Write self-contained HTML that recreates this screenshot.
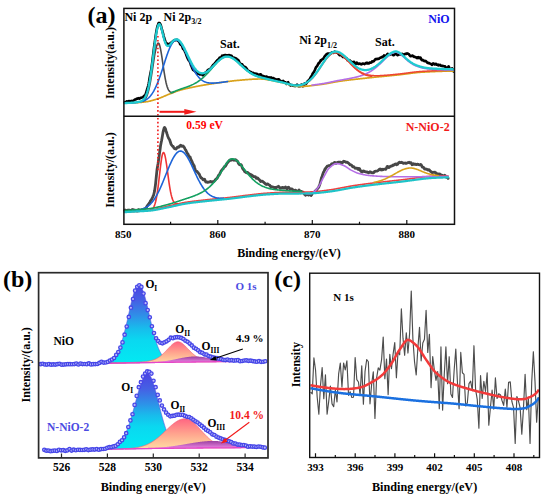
<!DOCTYPE html>
<html><head><meta charset="utf-8"><title>XPS spectra</title>
<style>html,body{margin:0;padding:0;background:#fff;width:550px;height:498px;overflow:hidden}svg{display:block}text{font-family:"Liberation Serif",serif}</style>
</head><body><svg width="550" height="498" viewBox="0 0 550 498"><defs>
<linearGradient id="gO1" x1="0" y1="0" x2="0" y2="1"><stop offset="0" stop-color="#4b45e2"/><stop offset="0.2" stop-color="#4560e4"/><stop offset="0.4" stop-color="#2d92e8"/><stop offset="0.55" stop-color="#18bcec"/><stop offset="0.7" stop-color="#0ad8f0"/><stop offset="1" stop-color="#02eaf2"/></linearGradient>
<linearGradient id="gO2" x1="0" y1="0" x2="0" y2="1"><stop offset="0" stop-color="#ff6582"/><stop offset="0.5" stop-color="#ffa48e"/><stop offset="1" stop-color="#ffdca2"/></linearGradient>
<linearGradient id="gO3" x1="0" y1="0" x2="0" y2="1"><stop offset="0" stop-color="#9a40a0"/><stop offset="1" stop-color="#ee88e4"/></linearGradient>
</defs><g fill="none" stroke-linejoin="round" stroke-linecap="round"><path d="M124.60,102.41 125.10,102.73 125.60,102.51 126.10,101.95 126.60,101.36 127.10,101.62 127.60,101.62 128.10,101.93 128.60,101.12 129.10,101.53 129.60,101.19 130.10,101.86 130.60,101.26 131.10,101.08 131.60,100.91 132.10,101.10 132.60,101.05 133.10,100.75 133.60,100.60 134.10,100.28 134.60,99.76 135.10,99.55 135.60,99.48 136.10,99.22 136.60,98.72 137.10,98.62 137.60,98.65 138.10,98.24 138.60,98.16 139.10,98.55 139.60,98.69 140.10,98.20 140.60,97.78 141.10,97.80 141.60,97.66 142.10,97.44 142.60,97.30 143.10,97.10 143.60,96.43 144.10,95.90 144.60,95.59 145.10,95.58 145.60,94.30 146.10,93.00 146.60,91.12 147.10,89.42 147.60,87.81 148.10,86.11 148.60,83.97 149.10,81.28 149.60,78.02 150.10,75.29 150.60,72.67 151.10,70.56 151.60,67.01 152.10,63.30 152.60,59.29 153.10,55.19 153.60,51.11 154.10,46.89 154.60,43.79 155.10,39.86 155.60,36.46 156.10,33.14 156.60,30.17 157.10,27.89 157.60,25.72 158.10,24.53 158.60,23.10 159.10,22.96 159.60,23.08 160.10,23.79 160.60,24.72 161.10,26.36 161.60,28.70 162.10,29.99 162.60,31.94 163.10,33.62 163.60,36.09 164.10,37.43 164.60,39.38 165.10,40.53 165.60,42.25 166.10,43.25 166.60,43.87 167.10,44.11 167.60,43.61 168.10,44.27 168.60,44.76 169.10,45.57 169.60,44.67 170.10,43.67 170.60,42.84 171.10,43.39 171.60,43.23 172.10,42.34 172.60,41.53 173.10,41.01 173.60,40.84 174.10,40.25 174.60,40.15 175.10,40.16 175.60,40.28 176.10,40.10 176.60,39.71 177.10,39.75 177.60,40.43 178.10,41.08 178.60,41.20 179.10,41.72 179.60,42.49 180.10,44.18 180.60,44.49 181.10,44.95 181.60,44.69 182.10,45.94 182.60,47.76 183.10,48.91 183.60,49.31 184.10,49.75 184.60,50.80 185.10,52.00 185.60,52.82 186.10,54.24 186.60,55.77 187.10,57.01 187.60,58.36 188.10,59.03 188.60,60.23 189.10,60.41 189.60,61.19 190.10,62.38 190.60,63.88 191.10,65.49 191.60,66.39 192.10,67.89 192.60,68.86 193.10,69.86 193.60,70.24 194.10,70.55 194.60,70.75 195.10,71.31 195.60,71.81 196.10,72.44 196.60,73.02 197.10,73.66 197.60,73.78 198.10,73.20 198.60,73.05 199.10,73.22 199.60,74.23 200.10,74.52 200.60,74.31 201.10,73.78 201.60,74.18 202.10,74.54 202.60,75.20 203.10,75.09 203.60,74.44 204.10,73.80 204.60,73.05 205.10,73.18 205.60,72.92 206.10,72.51 206.60,72.03 207.10,71.03 207.60,70.50 208.10,69.79 208.60,69.82 209.10,69.26 209.60,69.17 210.10,68.87 210.60,68.58 211.10,67.96 211.60,67.20 212.10,66.42 212.60,65.71 213.10,64.97 213.60,64.66 214.10,64.14 214.60,63.90 215.10,62.82 215.60,62.52 216.10,61.57 216.60,61.20 217.10,60.34 217.60,59.88 218.10,59.68 218.60,59.07 219.10,58.44 219.60,57.65 220.10,57.78 220.60,57.70 221.10,57.22 221.60,56.47 222.10,55.65 222.60,56.23 223.10,55.50 223.60,55.87 224.10,55.29 224.60,55.13 225.10,54.94 225.60,54.97 226.10,55.47 226.60,55.42 227.10,55.40 227.60,55.33 228.10,55.40 228.60,55.16 229.10,55.41 229.60,55.17 230.10,55.61 230.60,55.46 231.10,55.64 231.60,55.76 232.10,56.69 232.60,57.60 233.10,57.65 233.60,57.69 234.10,57.62 234.60,58.12 235.10,58.33 235.60,58.18 236.10,58.70 236.60,58.80 237.10,59.73 237.60,59.69 238.10,60.01 238.60,60.41 239.10,61.58 239.60,63.01 240.10,63.77 240.60,64.33 241.10,64.23 241.60,64.14 242.10,64.33 242.60,65.01 243.10,65.92 243.60,66.42 244.10,66.90 244.60,67.21 245.10,67.10 245.60,67.27 246.10,67.87 246.60,68.59 247.10,69.33 247.60,70.27 248.10,70.60 248.60,70.85 249.10,70.93 249.60,71.58 250.10,71.98 250.60,71.87 251.10,72.14 251.60,72.70 252.10,73.30 252.60,73.13 253.10,72.93 253.60,73.28 254.10,73.79 254.60,73.63 255.10,73.90 255.60,73.59 256.10,74.09 256.60,73.78 257.10,73.96 257.60,74.33 258.10,74.58 258.60,74.73 259.10,74.69 259.60,74.59 260.10,74.51 260.60,74.26 261.10,74.60 261.60,75.50 262.10,75.89 262.60,75.96 263.10,76.04 263.60,76.07 264.10,76.54 264.60,76.58 265.10,76.87 265.60,76.82 266.10,76.60 266.60,76.44 267.10,76.87 267.60,77.43 268.10,77.70 268.60,77.49 269.10,77.38 269.60,77.69 270.10,77.53 270.60,77.91 271.10,77.49 271.60,78.23 272.10,78.14 272.60,78.28 273.10,77.96 273.60,78.14 274.10,78.81 274.60,78.67 275.10,79.04 275.60,80.22 276.10,80.32 276.60,80.44 277.10,79.39 277.60,79.97 278.10,79.45 278.60,79.33 279.10,79.53 279.60,80.19 280.10,81.14 280.60,80.92 281.10,81.12 281.60,81.65 282.10,81.78 282.60,81.62 283.10,80.91 283.60,81.30 284.10,82.01 284.60,82.25 285.10,82.23 285.60,82.24 286.10,83.19 286.60,84.00 287.10,83.30 287.60,82.67 288.10,82.23 288.60,83.45 289.10,83.64 289.60,84.68 290.10,84.97 290.60,85.47 291.10,85.13 291.60,85.01 292.10,85.01 292.60,85.50 293.10,85.82 293.60,85.76 294.10,85.88 294.60,85.89 295.10,86.07 295.60,85.53 296.10,85.37 296.60,85.26 297.10,84.69 297.60,85.18 298.10,85.53 298.60,86.28 299.10,86.23 299.60,86.12 300.10,86.21 300.60,85.05 301.10,84.73 301.60,84.65 302.10,85.73 302.60,86.19 303.10,86.28 303.60,85.26 304.10,83.84 304.60,83.36 305.10,83.47 305.60,84.12 306.10,83.53 306.60,83.15 307.10,81.90 307.60,81.51 308.10,80.69 308.60,80.57 309.10,79.86 309.60,79.20 310.10,78.40 310.60,77.43 311.10,76.83 311.60,76.01 312.10,74.95 312.60,73.64 313.10,73.09 313.60,72.30 314.10,71.86 314.60,70.54 315.10,69.50 315.60,68.10 316.10,67.16 316.60,66.58 317.10,66.19 317.60,65.03 318.10,64.06 318.60,63.15 319.10,63.33 319.60,62.14 320.10,61.66 320.60,60.38 321.10,60.60 321.60,59.71 322.10,59.38 322.60,59.13 323.10,58.80 323.60,58.25 324.10,57.33 324.60,56.45 325.10,55.94 325.60,55.27 326.10,54.80 326.60,54.22 327.10,53.86 327.60,54.02 328.10,53.76 328.60,53.44 329.10,53.46 329.60,53.62 330.10,54.03 330.60,53.67 331.10,53.26 331.60,52.70 332.10,52.39 332.60,52.69 333.10,52.84 333.60,52.47 334.10,52.17 334.60,51.74 335.10,52.28 335.60,52.02 336.10,52.18 336.60,52.31 337.10,52.81 337.60,52.89 338.10,53.30 338.60,54.22 339.10,54.54 339.60,55.15 340.10,54.60 340.60,55.22 341.10,54.96 341.60,55.08 342.10,55.97 342.60,56.52 343.10,57.07 343.60,56.93 344.10,56.64 344.60,57.07 345.10,57.74 345.60,57.98 346.10,58.24 346.60,58.29 347.10,59.40 347.60,60.21 348.10,60.31 348.60,60.04 349.10,60.05 349.60,60.35 350.10,60.75 350.60,61.22 351.10,62.11 351.60,62.57 352.10,62.45 352.60,62.36 353.10,61.93 353.60,62.18 354.10,61.86 354.60,63.29 355.10,63.65 355.60,64.12 356.10,63.44 356.60,62.55 357.10,62.79 357.60,63.40 358.10,63.98 358.60,64.01 359.10,63.77 359.60,63.55 360.10,63.65 360.60,63.86 361.10,64.42 361.60,64.14 362.10,64.01 362.60,63.52 363.10,63.61 363.60,63.73 364.10,63.84 364.60,64.12 365.10,63.66 365.60,63.37 366.10,62.99 366.60,62.75 367.10,63.38 367.60,62.96 368.10,63.44 368.60,62.98 369.10,63.28 369.60,62.61 370.10,62.54 370.60,62.59 371.10,62.62 371.60,62.37 372.10,61.40 372.60,61.42 373.10,61.49 373.60,61.48 374.10,60.91 374.60,60.07 375.10,59.55 375.60,58.94 376.10,59.08 376.60,59.21 377.10,58.99 377.60,58.86 378.10,58.78 378.60,58.84 379.10,58.71 379.60,58.19 380.10,57.90 380.60,57.53 381.10,57.41 381.60,57.48 382.10,56.77 382.60,57.01 383.10,56.34 383.60,56.46 384.10,55.42 384.60,55.62 385.10,55.84 385.60,56.35 386.10,56.20 386.60,55.13 387.10,54.40 387.60,53.87 388.10,53.95 388.60,54.45 389.10,54.59 389.60,54.84 390.10,54.64 390.60,54.30 391.10,54.06 391.60,53.68 392.10,54.15 392.60,54.56 393.10,55.03 393.60,55.23 394.10,54.73 394.60,54.39 395.10,54.09 395.60,54.05 396.10,54.00 396.60,54.19 397.10,54.86 397.60,55.28 398.10,54.93 398.60,54.49 399.10,54.44 399.60,54.28 400.10,54.42 400.60,54.47 401.10,54.46 401.60,54.18 402.10,53.80 402.60,54.11 403.10,54.48 403.60,54.59 404.10,54.66 404.60,54.13 405.10,53.91 405.60,53.82 406.10,54.02 406.60,53.85 407.10,53.42 407.60,53.43 408.10,53.81 408.60,53.96 409.10,54.47 409.60,55.25 410.10,55.73 410.60,56.25 411.10,56.03 411.60,55.93 412.10,55.66 412.60,55.46 413.10,56.20 413.60,56.10 414.10,56.96 414.60,57.07 415.10,56.97 415.60,56.97 416.10,57.42 416.60,57.95 417.10,58.17 417.60,57.32 418.10,57.80 418.60,57.17 419.10,58.03 419.60,57.61 420.10,57.51 420.60,57.69 421.10,59.12 421.60,59.95 422.10,60.31 422.60,59.88 423.10,60.19 423.60,60.36 424.10,61.06 424.60,61.02 425.10,61.24 425.60,61.08 426.10,61.26 426.60,61.80 427.10,62.51 427.60,62.87 428.10,63.12 428.60,62.77 429.10,63.21 429.60,63.33 430.10,63.57 430.60,63.89 431.10,64.07 431.60,64.54 432.10,64.86 432.60,64.11 433.10,63.38 433.60,63.57 434.10,63.82 434.60,64.45 435.10,63.89 435.60,64.21 436.10,63.88 436.60,64.79 437.10,64.63 437.60,65.07 438.10,64.62 438.60,65.37 439.10,65.08 439.60,65.22 440.10,64.89 440.60,65.57 441.10,65.82 441.60,65.85 442.10,65.87 442.60,65.73 443.10,66.12 443.60,66.15 444.10,66.19 444.60,66.18 445.10,66.47 445.60,67.50 446.10,67.52 446.60,67.68 447.10,67.62 447.60,67.34 448.10,66.92 448.60,66.34 449.10,67.15 449.60,68.64 450.10,69.37 450.60,70.04 451.10,69.56 451.60,69.05 452.10,68.37 452.60,69.13 453.10,70.33 453.60,71.45" stroke="#000" stroke-width="2.6"/><path d="M124.60,103.29 125.10,103.27 125.60,103.26 126.10,103.24 126.60,103.23 127.10,103.21 127.60,103.19 128.10,103.17 128.60,103.15 129.10,103.12 129.60,103.10 130.10,103.08 130.60,103.05 131.10,103.02 131.60,103.00 132.10,102.97 132.60,102.94 133.10,102.91 133.60,102.88 134.10,102.85 134.60,102.82 135.10,102.78 135.60,102.75 136.10,102.72 136.60,102.69 137.10,102.65 137.60,102.62 138.10,102.58 138.60,102.54 139.10,102.50 139.60,102.46 140.10,102.42 140.60,102.38 141.10,102.33 141.60,102.29 142.10,102.24 142.60,102.19 143.10,102.13 143.60,102.08 144.10,102.02 144.60,101.96 145.10,101.90 145.60,101.84 146.10,101.77 146.60,101.70 147.10,101.63 147.60,101.55 148.10,101.47 148.60,101.38 149.10,101.28 149.60,101.17 150.10,101.05 150.60,100.93 151.10,100.80 151.60,100.67 152.10,100.53 152.60,100.39 153.10,100.24 153.60,100.09 154.10,99.93 154.60,99.78 155.10,99.62 155.60,99.45 156.10,99.29 156.60,99.13 157.10,98.96 157.60,98.80 158.10,98.63 158.60,98.47 159.10,98.29 159.60,98.11 160.10,97.93 160.60,97.73 161.10,97.54 161.60,97.34 162.10,97.13 162.60,96.92 163.10,96.71 163.60,96.50 164.10,96.29 164.60,96.07 165.10,95.85 165.60,95.64 166.10,95.43 166.60,95.21 167.10,95.00 167.60,94.80 168.10,94.59 168.60,94.39 169.10,94.20 169.60,94.01 170.10,93.81 170.60,93.62 171.10,93.42 171.60,93.22 172.10,93.02 172.60,92.83 173.10,92.63 173.60,92.44 174.10,92.24 174.60,92.05 175.10,91.86 175.60,91.67 176.10,91.49 176.60,91.31 177.10,91.13 177.60,90.96 178.10,90.79 178.60,90.63 179.10,90.47 179.60,90.32 180.10,90.17 180.60,90.03 181.10,89.89 181.60,89.76 182.10,89.62 182.60,89.49 183.10,89.37 183.60,89.24 184.10,89.12 184.60,89.00 185.10,88.88 185.60,88.76 186.10,88.65 186.60,88.53 187.10,88.42 187.60,88.31 188.10,88.20 188.60,88.09 189.10,87.98 189.60,87.88 190.10,87.77 190.60,87.66 191.10,87.56 191.60,87.45 192.10,87.34 192.60,87.24 193.10,87.13 193.60,87.02 194.10,86.92 194.60,86.81 195.10,86.71 195.60,86.61 196.10,86.51 196.60,86.41 197.10,86.31 197.60,86.21 198.10,86.11 198.60,86.01 199.10,85.92 199.60,85.83 200.10,85.73 200.60,85.64 201.10,85.55 201.60,85.46 202.10,85.38 202.60,85.29 203.10,85.21 203.60,85.12 204.10,85.04 204.60,84.95 205.10,84.87 205.60,84.79 206.10,84.70 206.60,84.62 207.10,84.54 207.60,84.46 208.10,84.38 208.60,84.30 209.10,84.23 209.60,84.15 210.10,84.07 210.60,83.99 211.10,83.92 211.60,83.84 212.10,83.77 212.60,83.69 213.10,83.62 213.60,83.54 214.10,83.47 214.60,83.40 215.10,83.32 215.60,83.25 216.10,83.18 216.60,83.11 217.10,83.04 217.60,82.97 218.10,82.90 218.60,82.83 219.10,82.76 219.60,82.69 220.10,82.62 220.60,82.55 221.10,82.48 221.60,82.40 222.10,82.33 222.60,82.26 223.10,82.19 223.60,82.12 224.10,82.05 224.60,81.98 225.10,81.91 225.60,81.84 226.10,81.77 226.60,81.70 227.10,81.63 227.60,81.56 228.10,81.49 228.60,81.43 229.10,81.36 229.60,81.29 230.10,81.23 230.60,81.17 231.10,81.10 231.60,81.04 232.10,80.98 232.60,80.92 233.10,80.86 233.60,80.81 234.10,80.75 234.60,80.70 235.10,80.65 235.60,80.59 236.10,80.55 236.60,80.50 237.10,80.45 237.60,80.41 238.10,80.37 238.60,80.32 239.10,80.28 239.60,80.24 240.10,80.19 240.60,80.15 241.10,80.11 241.60,80.06 242.10,80.02 242.60,79.97 243.10,79.93 243.60,79.89 244.10,79.84 244.60,79.80 245.10,79.76 245.60,79.72 246.10,79.68 246.60,79.64 247.10,79.60 247.60,79.56 248.10,79.52 248.60,79.48 249.10,79.45 249.60,79.41 250.10,79.38 250.60,79.34 251.10,79.31 251.60,79.28 252.10,79.25 252.60,79.22 253.10,79.19 253.60,79.17 254.10,79.14 254.60,79.12 255.10,79.10 255.60,79.08 256.10,79.07 256.60,79.05 257.10,79.04 257.60,79.03 258.10,79.02 258.60,79.01 259.10,79.00 259.60,79.00 260.10,79.00 260.60,79.01 261.10,79.02 261.60,79.04 262.10,79.06 262.60,79.09 263.10,79.13 263.60,79.18 264.10,79.22 264.60,79.28 265.10,79.34 265.60,79.40 266.10,79.47 266.60,79.55 267.10,79.62 267.60,79.70 268.10,79.79 268.60,79.88 269.10,79.97 269.60,80.06 270.10,80.16 270.60,80.25 271.10,80.36 271.60,80.46 272.10,80.56 272.60,80.67 273.10,80.77 273.60,80.88 274.10,80.99 274.60,81.09 275.10,81.20 275.60,81.31 276.10,81.41 276.60,81.52 277.10,81.63 277.60,81.73 278.10,81.83 278.60,81.93 279.10,82.03 279.60,82.13 280.10,82.22 280.60,82.32 281.10,82.42 281.60,82.53 282.10,82.65 282.60,82.77 283.10,82.90 283.60,83.03 284.10,83.16 284.60,83.30 285.10,83.44 285.60,83.58 286.10,83.73 286.60,83.87 287.10,84.02 287.60,84.17 288.10,84.31 288.60,84.46 289.10,84.60 289.60,84.75 290.10,84.89 290.60,85.03 291.10,85.16 291.60,85.29 292.10,85.42 292.60,85.54 293.10,85.66 293.60,85.77 294.10,85.88 294.60,85.98 295.10,86.07 295.60,86.16 296.10,86.23 296.60,86.30 297.10,86.36 297.60,86.41 298.10,86.45 298.60,86.48 299.10,86.49 299.60,86.50 300.10,86.50 300.60,86.49 301.10,86.48 301.60,86.47 302.10,86.45 302.60,86.43 303.10,86.41 303.60,86.39 304.10,86.36 304.60,86.32 305.10,86.29 305.60,86.25 306.10,86.21 306.60,86.17 307.10,86.13 307.60,86.08 308.10,86.03 308.60,85.98 309.10,85.93 309.60,85.88 310.10,85.82 310.60,85.77 311.10,85.71 311.60,85.65 312.10,85.59 312.60,85.53 313.10,85.47 313.60,85.41 314.10,85.34 314.60,85.28 315.10,85.22 315.60,85.15 316.10,85.09 316.60,85.03 317.10,84.96 317.60,84.90 318.10,84.83 318.60,84.77 319.10,84.71 319.60,84.65 320.10,84.59 320.60,84.53 321.10,84.46 321.60,84.39 322.10,84.32 322.60,84.25 323.10,84.17 323.60,84.09 324.10,84.01 324.60,83.93 325.10,83.84 325.60,83.76 326.10,83.67 326.60,83.58 327.10,83.49 327.60,83.40 328.10,83.31 328.60,83.21 329.10,83.12 329.60,83.02 330.10,82.93 330.60,82.84 331.10,82.74 331.60,82.64 332.10,82.55 332.60,82.46 333.10,82.36 333.60,82.27 334.10,82.18 334.60,82.08 335.10,81.99 335.60,81.91 336.10,81.82 336.60,81.73 337.10,81.65 337.60,81.57 338.10,81.48 338.60,81.41 339.10,81.33 339.60,81.26 340.10,81.19 340.60,81.12 341.10,81.05 341.60,80.98 342.10,80.91 342.60,80.84 343.10,80.78 343.60,80.71 344.10,80.65 344.60,80.58 345.10,80.52 345.60,80.45 346.10,80.39 346.60,80.33 347.10,80.26 347.60,80.20 348.10,80.14 348.60,80.08 349.10,80.02 349.60,79.96 350.10,79.90 350.60,79.84 351.10,79.78 351.60,79.72 352.10,79.66 352.60,79.60 353.10,79.55 353.60,79.49 354.10,79.43 354.60,79.37 355.10,79.32 355.60,79.26 356.10,79.20 356.60,79.15 357.10,79.09 357.60,79.04 358.10,78.98 358.60,78.93 359.10,78.87 359.60,78.82 360.10,78.76 360.60,78.71 361.10,78.66 361.60,78.60 362.10,78.55 362.60,78.49 363.10,78.44 363.60,78.39 364.10,78.33 364.60,78.28 365.10,78.23 365.60,78.17 366.10,78.12 366.60,78.06 367.10,78.01 367.60,77.96 368.10,77.90 368.60,77.85 369.10,77.80 369.60,77.74 370.10,77.69 370.60,77.64 371.10,77.58 371.60,77.53 372.10,77.48 372.60,77.42 373.10,77.37 373.60,77.32 374.10,77.27 374.60,77.22 375.10,77.17 375.60,77.12 376.10,77.07 376.60,77.02 377.10,76.97 377.60,76.92 378.10,76.87 378.60,76.82 379.10,76.77 379.60,76.72 380.10,76.67 380.60,76.62 381.10,76.57 381.60,76.53 382.10,76.48 382.60,76.43 383.10,76.38 383.60,76.33 384.10,76.28 384.60,76.24 385.10,76.19 385.60,76.14 386.10,76.09 386.60,76.04 387.10,76.00 387.60,75.95 388.10,75.90 388.60,75.85 389.10,75.80 389.60,75.75 390.10,75.71 390.60,75.66 391.10,75.61 391.60,75.56 392.10,75.51 392.60,75.46 393.10,75.41 393.60,75.36 394.10,75.31 394.60,75.26 395.10,75.21 395.60,75.16 396.10,75.11 396.60,75.06 397.10,75.01 397.60,74.95 398.10,74.90 398.60,74.85 399.10,74.80 399.60,74.74 400.10,74.69 400.60,74.63 401.10,74.58 401.60,74.52 402.10,74.46 402.60,74.40 403.10,74.34 403.60,74.28 404.10,74.21 404.60,74.15 405.10,74.08 405.60,74.02 406.10,73.95 406.60,73.88 407.10,73.82 407.60,73.75 408.10,73.68 408.60,73.61 409.10,73.55 409.60,73.48 410.10,73.41 410.60,73.35 411.10,73.28 411.60,73.21 412.10,73.15 412.60,73.09 413.10,73.02 413.60,72.96 414.10,72.90 414.60,72.84 415.10,72.79 415.60,72.73 416.10,72.67 416.60,72.62 417.10,72.57 417.60,72.52 418.10,72.47 418.60,72.43 419.10,72.39 419.60,72.35 420.10,72.31 420.60,72.27 421.10,72.24 421.60,72.21 422.10,72.18 422.60,72.16 423.10,72.13 423.60,72.10 424.10,72.08 424.60,72.05 425.10,72.02 425.60,72.00 426.10,71.97 426.60,71.94 427.10,71.92 427.60,71.89 428.10,71.87 428.60,71.84 429.10,71.82 429.60,71.79 430.10,71.77 430.60,71.74 431.10,71.72 431.60,71.70 432.10,71.67 432.60,71.65 433.10,71.63 433.60,71.61 434.10,71.58 434.60,71.56 435.10,71.54 435.60,71.52 436.10,71.50 436.60,71.48 437.10,71.46 437.60,71.44 438.10,71.42 438.60,71.40 439.10,71.39 439.60,71.37 440.10,71.35 440.60,71.34 441.10,71.32 441.60,71.30 442.10,71.29 442.60,71.27 443.10,71.26 443.60,71.25 444.10,71.23 444.60,71.22 445.10,71.21 445.60,71.20 446.10,71.19 446.60,71.18 447.10,71.17 447.60,71.16 448.10,71.15 448.60,71.14 449.10,71.13 449.60,71.13 450.10,71.12 450.60,71.12 451.10,71.11 451.60,71.11 452.10,71.11 452.60,71.10 453.10,71.10 453.60,71.10" stroke="#d9a21b" stroke-width="1.7"/><path d="M326.10,59.14 326.60,58.49 327.10,57.87 327.60,57.27 328.10,56.69 328.60,56.15 329.10,55.64 329.60,55.17 330.10,54.73 330.60,54.31 331.10,53.94 331.60,53.61 332.10,53.32 332.60,53.07 333.10,52.87 333.60,52.71 334.10,52.59 334.60,52.52 335.10,52.47 335.60,52.46 336.10,52.48 336.60,52.54 337.10,52.63 337.60,52.75 338.10,52.90 338.60,53.09 339.10,53.31 339.60,53.55 340.10,53.83 340.60,54.13 341.10,54.45 341.60,54.80 342.10,55.17 342.60,55.56 343.10,55.97 343.60,56.40 344.10,56.85 344.60,57.31 345.10,57.78 345.60,58.26 346.10,58.76 346.60,59.26 347.10,59.77 347.60,60.29 348.10,60.81 348.60,61.34 349.10,61.86 349.60,62.39 350.10,62.91 350.60,63.43 351.10,63.95 351.60,64.47 352.10,64.97 352.60,65.48 353.10,65.97 353.60,66.45 354.10,66.93 354.60,67.39 355.10,67.85 355.60,68.29 356.10,68.72 356.60,69.14 357.10,69.54 357.60,69.93 358.10,70.31 358.60,70.67 359.10,71.02 359.60,71.35 360.10,71.67 360.60,71.97 361.10,72.27 361.60,72.54 362.10,72.80 362.60,73.05 363.10,73.28 363.60,73.50 364.10,73.71 364.60,73.90 365.10,74.08 365.60,74.25 366.10,74.41 366.60,74.55 367.10,74.68 367.60,74.81 368.10,74.92 368.60,75.02 369.10,75.11 369.60,75.19 370.10,75.26 370.60,75.33 371.10,75.40 371.60,75.45 372.10,75.51 372.60,75.55 373.10,75.59 373.60,75.62 374.10,75.64 374.60,75.66 375.10,75.68 375.60,75.69 376.10,75.69 376.60,75.69 377.10,75.69 377.60,75.69 378.10,75.68 378.60,75.66 379.10,75.65 379.60,75.63 380.10,75.61 380.60,75.59 381.10,75.56 381.60,75.53 382.10,75.51 382.60,75.47 383.10,75.44 383.60,75.41 384.10,75.37 384.60,75.34 385.10,75.30 385.60,75.26 386.10,75.22 386.60,75.18 387.10,75.14 387.60,75.10 388.10,75.06 388.60,75.01 389.10,74.97 389.60,74.92 390.10,74.88 390.60,74.83 391.10,74.79 391.60,74.74 392.10,74.69 392.60,74.65 393.10,74.60 393.60,74.55 394.10,74.50 394.60,74.45 395.10,74.40 395.60,74.35 396.10,74.30 396.60,74.25 397.10,74.20 397.60,74.15 398.10,74.10 398.60,74.05 399.10,73.99 399.60,73.94 400.10,73.89 400.60,73.83 401.10,73.78 401.60,73.72 402.10,73.66 402.60,73.60 403.10,73.54 403.60,73.48 404.10,73.41 404.60,73.35 405.10,73.28 405.60,73.22 406.10,73.15 406.60,73.08 407.10,73.02 407.60,72.95 408.10,72.88 408.60,72.81 409.10,72.75 409.60,72.68 410.10,72.61 410.60,72.55 411.10,72.48 411.60,72.41 412.10,72.35 412.60,72.29 413.10,72.22 413.60,72.16 414.10,72.10 414.60,72.04 415.10,71.99 415.60,71.93 416.10,71.87 416.60,71.82 417.10,71.77 417.60,71.72 418.10,71.67 418.60,71.63 419.10,71.59 419.60,71.55 420.10,71.51 420.60,71.47 421.10,71.44 421.60,71.41 422.10,71.38 422.60,71.36 423.10,71.33 423.60,71.30 424.10,71.28 424.60,71.25 425.10,71.22 425.60,71.20 426.10,71.17 426.60,71.14 427.10,71.12 427.60,71.09 428.10,71.07 428.60,71.04 429.10,71.02 429.60,70.99 430.10,70.97 430.60,70.94 431.10,70.92 431.60,70.90 432.10,70.87 432.60,70.85 433.10,70.83 433.60,70.81 434.10,70.78 434.60,70.76 435.10,70.74 435.60,70.72 436.10,70.70 436.60,70.68 437.10,70.66 437.60,70.64 438.10,70.62 438.60,70.60 439.10,70.59 439.60,70.57 440.10,70.55 440.60,70.54 441.10,70.52 441.60,70.50 442.10,70.49 442.60,70.47 443.10,70.46 443.60,70.45 444.10,70.43 444.60,70.42 445.10,70.41 445.60,70.40 446.10,70.39 446.60,70.38 447.10,70.37 447.60,70.36 448.10,70.35 448.60,70.34 449.10,70.33 449.60,70.33 450.10,70.32 450.60,70.32 451.10,70.31 451.60,70.31 452.10,70.31 452.60,70.30 453.10,70.30 453.60,70.30" stroke="#ee4433" stroke-width="1.5"/><path d="M143.10,101.17 143.60,100.83 144.10,100.41 144.60,99.90 145.10,99.28 145.60,98.55 146.10,97.67 146.60,96.64 147.10,95.44 147.60,94.04 148.10,92.44 148.60,90.62 149.10,88.57 149.60,86.29 150.10,83.79 150.60,81.08 151.10,78.18 151.60,75.11 152.10,71.91 152.60,68.63 153.10,65.31 153.60,62.01 154.10,58.79 154.60,55.71 155.10,52.84 155.60,50.25 156.10,47.98 156.60,46.10 157.10,44.64 157.60,43.65 158.10,43.14 158.60,43.18 159.10,43.85 159.60,45.12 160.10,46.96 160.60,49.30 161.10,52.04 161.60,55.10 162.10,58.39 162.60,61.80 163.10,65.24 163.60,68.63 164.10,71.90 164.60,74.99 165.10,77.84 165.60,80.42 166.10,82.73 166.60,84.74 167.10,86.47 167.60,87.92 168.10,89.12 168.60,90.09 169.10,90.85 169.60,91.43 170.10,91.86 170.60,92.15 171.10,92.33 171.60,92.42 172.10,92.45 172.60,92.41 173.10,92.34 173.60,92.23" stroke="#4d4d4d" stroke-width="1.6"/><path d="M127.10,103.20 127.60,103.18 128.10,103.16 128.60,103.13 129.10,103.11 129.60,103.08 130.10,103.05 130.60,103.02 131.10,102.99 131.60,102.96 132.10,102.92 132.60,102.88 133.10,102.85 133.60,102.80 134.10,102.76 134.60,102.72 135.10,102.67 135.60,102.62 136.10,102.56 136.60,102.50 137.10,102.44 137.60,102.37 138.10,102.30 138.60,102.22 139.10,102.13 139.60,102.04 140.10,101.93 140.60,101.82 141.10,101.70 141.60,101.56 142.10,101.42 142.60,101.26 143.10,101.09 143.60,100.90 144.10,100.69 144.60,100.47 145.10,100.22 145.60,99.96 146.10,99.67 146.60,99.36 147.10,99.03 147.60,98.66 148.10,98.26 148.60,97.83 149.10,97.36 149.60,96.85 150.10,96.30 150.60,95.71 151.10,95.07 151.60,94.40 152.10,93.68 152.60,92.92 153.10,92.12 153.60,91.26 154.10,90.37 154.60,89.42 155.10,88.44 155.60,87.40 156.10,86.32 156.60,85.20 157.10,84.04 157.60,82.83 158.10,81.58 158.60,80.30 159.10,78.96 159.60,77.59 160.10,76.18 160.60,74.73 161.10,73.25 161.60,71.74 162.10,70.21 162.60,68.67 163.10,67.10 163.60,65.53 164.10,63.96 164.60,62.39 165.10,60.84 165.60,59.29 166.10,57.77 166.60,56.28 167.10,54.82 167.60,53.40 168.10,52.03 168.60,50.71 169.10,49.46 169.60,48.26 170.10,47.14 170.60,46.08 171.10,45.09 171.60,44.18 172.10,43.36 172.60,42.63 173.10,41.98 173.60,41.43 174.10,40.98 174.60,40.62 175.10,40.36 175.60,40.20 176.10,40.12 176.60,40.13 177.10,40.22 177.60,40.40 178.10,40.66 178.60,41.00 179.10,41.42 179.60,41.91 180.10,42.48 180.60,43.12 181.10,43.82 181.60,44.58 182.10,45.40 182.60,46.27 183.10,47.19 183.60,48.15 184.10,49.15 184.60,50.18 185.10,51.24 185.60,52.33 186.10,53.44 186.60,54.56 187.10,55.69 187.60,56.82 188.10,57.96 188.60,59.10 189.10,60.23 189.60,61.35 190.10,62.46 190.60,63.55 191.10,64.62 191.60,65.67 192.10,66.69 192.60,67.69 193.10,68.66 193.60,69.59 194.10,70.50 194.60,71.37 195.10,72.21 195.60,73.01 196.10,73.78 196.60,74.51 197.10,75.21 197.60,75.87 198.10,76.49 198.60,77.09 199.10,77.64 199.60,78.16 200.10,78.65 200.60,79.11 201.10,79.53 201.60,79.93 202.10,80.29 202.60,80.63 203.10,80.94 203.60,81.22 204.10,81.48 204.60,81.71 205.10,81.92 205.60,82.11 206.10,82.28 206.60,82.43 207.10,82.56 207.60,82.67 208.10,82.77 208.60,82.85 209.10,82.92 209.60,82.98 210.10,83.03 210.60,83.06 211.10,83.08 211.60,83.10 212.10,83.11 212.60,83.11 213.10,83.10 213.60,83.08 214.10,83.06 214.60,83.04 215.10,83.01 215.60,82.97 216.10,82.94 216.60,82.89 217.10,82.85 217.60,82.80 218.10,82.75 218.60,82.70 219.10,82.65 219.60,82.59 220.10,82.53 220.60,82.48 221.10,82.41 221.60,82.35 222.10,82.29 222.60,82.22 223.10,82.16 223.60,82.09 224.10,82.03 224.60,81.96 225.10,81.89 225.60,81.82 226.10,81.76 226.60,81.69 227.10,81.62 227.60,81.55" stroke="#1c64d8" stroke-width="1.6"/><path d="M171.10,92.86 171.60,92.65 172.10,92.44 172.60,92.23 173.10,92.02 173.60,91.81 174.10,91.60 174.60,91.40 175.10,91.19 175.60,90.99 176.10,90.79 176.60,90.59 177.10,90.39 177.60,90.20 178.10,90.01 178.60,89.82 179.10,89.64 179.60,89.47 180.10,89.29 180.60,89.12 181.10,88.95 181.60,88.78 182.10,88.62 182.60,88.45 183.10,88.28 183.60,88.11 184.10,87.95 184.60,87.78 185.10,87.61 185.60,87.44 186.10,87.26 186.60,87.09 187.10,86.91 187.60,86.73 188.10,86.54 188.60,86.35 189.10,86.16 189.60,85.96 190.10,85.75 190.60,85.54 191.10,85.33 191.60,85.10 192.10,84.87 192.60,84.63 193.10,84.39 193.60,84.13 194.10,83.87 194.60,83.60 195.10,83.32 195.60,83.04 196.10,82.74 196.60,82.44 197.10,82.13 197.60,81.80 198.10,81.47 198.60,81.13 199.10,80.78 199.60,80.42 200.10,80.04 200.60,79.66 201.10,79.27 201.60,78.86 202.10,78.45 202.60,78.02 203.10,77.58 203.60,77.13 204.10,76.67 204.60,76.20 205.10,75.72 205.60,75.23 206.10,74.73 206.60,74.22 207.10,73.70 207.60,73.17 208.10,72.63 208.60,72.09 209.10,71.54 209.60,70.98 210.10,70.41 210.60,69.85 211.10,69.27 211.60,68.70 212.10,68.12 212.60,67.55 213.10,66.97 213.60,66.40 214.10,65.83 214.60,65.26 215.10,64.70 215.60,64.14 216.10,63.60 216.60,63.06 217.10,62.54 217.60,62.03 218.10,61.53 218.60,61.05 219.10,60.59 219.60,60.14 220.10,59.72 220.60,59.32 221.10,58.94 221.60,58.59 222.10,58.27 222.60,57.97 223.10,57.71 223.60,57.47 224.10,57.26 224.60,57.09 225.10,56.95 225.60,56.84 226.10,56.77 226.60,56.73 227.10,56.71 227.60,56.73 228.10,56.77 228.60,56.84 229.10,56.94 229.60,57.07 230.10,57.22 230.60,57.40 231.10,57.60 231.60,57.83 232.10,58.09 232.60,58.36 233.10,58.66 233.60,58.98 234.10,59.32 234.60,59.68 235.10,60.05 235.60,60.44 236.10,60.84 236.60,61.26 237.10,61.69 237.60,62.13 238.10,62.59 238.60,63.04 239.10,63.50 239.60,63.97 240.10,64.44 240.60,64.91 241.10,65.37 241.60,65.84 242.10,66.31 242.60,66.77 243.10,67.23 243.60,67.68 244.10,68.13 244.60,68.57 245.10,69.01 245.60,69.44 246.10,69.85 246.60,70.26 247.10,70.66 247.60,71.05 248.10,71.43 248.60,71.80 249.10,72.15 249.60,72.50 250.10,72.83 250.60,73.16 251.10,73.47 251.60,73.77 252.10,74.06 252.60,74.33 253.10,74.60 253.60,74.85 254.10,75.10 254.60,75.33 255.10,75.55 255.60,75.76 256.10,75.97 256.60,76.16 257.10,76.35 257.60,76.52 258.10,76.69 258.60,76.85 259.10,77.00 259.60,77.14 260.10,77.28 260.60,77.42 261.10,77.55 261.60,77.69 262.10,77.82 262.60,77.95 263.10,78.08 263.60,78.21 264.10,78.34 264.60,78.47 265.10,78.60 265.60,78.73 266.10,78.85 266.60,78.98 267.10,79.11 267.60,79.24 268.10,79.36 268.60,79.49 269.10,79.62 269.60,79.74" stroke="#13a060" stroke-width="1.6"/><path d="M312.10,85.13 312.60,85.07 313.10,85.00 313.60,84.93 314.10,84.86 314.60,84.80 315.10,84.73 315.60,84.66 316.10,84.59 316.60,84.52 317.10,84.45 317.60,84.38 318.10,84.31 318.60,84.24 319.10,84.17 319.60,84.10 320.10,84.03 320.60,83.96 321.10,83.89 321.60,83.81 322.10,83.74 322.60,83.65 323.10,83.57 323.60,83.48 324.10,83.40 324.60,83.30 325.10,83.21 325.60,83.12 326.10,83.02 326.60,82.92 327.10,82.82 327.60,82.72 328.10,82.62 328.60,82.52 329.10,82.41 329.60,82.31 330.10,82.20 330.60,82.10 331.10,81.99 331.60,81.89 332.10,81.78 332.60,81.67 333.10,81.57 333.60,81.46 334.10,81.36 334.60,81.25 335.10,81.15 335.60,81.05 336.10,80.95 336.60,80.85 337.10,80.75 337.60,80.65 338.10,80.55 338.60,80.46 339.10,80.37 339.60,80.28 340.10,80.19 340.60,80.10 341.10,80.02 341.60,79.93 342.10,79.84 342.60,79.75 343.10,79.67 343.60,79.58 344.10,79.49 344.60,79.40 345.10,79.32 345.60,79.23 346.10,79.14 346.60,79.05 347.10,78.96 347.60,78.87 348.10,78.78 348.60,78.68 349.10,78.59 349.60,78.50 350.10,78.40 350.60,78.30 351.10,78.21 351.60,78.11 352.10,78.00 352.60,77.90 353.10,77.80 353.60,77.69 354.10,77.58 354.60,77.47 355.10,77.35 355.60,77.24 356.10,77.12 356.60,77.00 357.10,76.87 357.60,76.74 358.10,76.61 358.60,76.47 359.10,76.33 359.60,76.18 360.10,76.03 360.60,75.88 361.10,75.72 361.60,75.55 362.10,75.38 362.60,75.20 363.10,75.02 363.60,74.83 364.10,74.63 364.60,74.43 365.10,74.22 365.60,74.00 366.10,73.77 366.60,73.54 367.10,73.30 367.60,73.05 368.10,72.79 368.60,72.52 369.10,72.24 369.60,71.96 370.10,71.66 370.60,71.36 371.10,71.04 371.60,70.72 372.10,70.39 372.60,70.04 373.10,69.69 373.60,69.33 374.10,68.96 374.60,68.58 375.10,68.19 375.60,67.79 376.10,67.38 376.60,66.96 377.10,66.54 377.60,66.10 378.10,65.66 378.60,65.21 379.10,64.75 379.60,64.29 380.10,63.82 380.60,63.34 381.10,62.86 381.60,62.37 382.10,61.88 382.60,61.39 383.10,60.90 383.60,60.41 384.10,59.91 384.60,59.42 385.10,58.94 385.60,58.45 386.10,57.97 386.60,57.50 387.10,57.04 387.60,56.59 388.10,56.16 388.60,55.73 389.10,55.32 389.60,54.94 390.10,54.57 390.60,54.22 391.10,53.89 391.60,53.59 392.10,53.32 392.60,53.08 393.10,52.86 393.60,52.68 394.10,52.52 394.60,52.40 395.10,52.32 395.60,52.26 396.10,52.26 396.60,52.31 397.10,52.42 397.60,52.57 398.10,52.77 398.60,53.02 399.10,53.31 399.60,53.63 400.10,53.99 400.60,54.37 401.10,54.78 401.60,55.21 402.10,55.65 402.60,56.10 403.10,56.56 403.60,57.02 404.10,57.49 404.60,57.96 405.10,58.42 405.60,58.88 406.10,59.33 406.60,59.77 407.10,60.21 407.60,60.63 408.10,61.04 408.60,61.44 409.10,61.83 409.60,62.20 410.10,62.57 410.60,62.91 411.10,63.25 411.60,63.57 412.10,63.88 412.60,64.18 413.10,64.46 413.60,64.73 414.10,64.99 414.60,65.24 415.10,65.48 415.60,65.70 416.10,65.92 416.60,66.12 417.10,66.32 417.60,66.51 418.10,66.69 418.60,66.86 419.10,67.02 419.60,67.18 420.10,67.32 420.60,67.47 421.10,67.61 421.60,67.74 422.10,67.86 422.60,67.98 423.10,68.10 423.60,68.21 424.10,68.31 424.60,68.40 425.10,68.49 425.60,68.57 426.10,68.65 426.60,68.73 427.10,68.80 427.60,68.86 428.10,68.93 428.60,68.98 429.10,69.04 429.60,69.09 430.10,69.14 430.60,69.19 431.10,69.23 431.60,69.27 432.10,69.31 432.60,69.34 433.10,69.38 433.60,69.41 434.10,69.44 434.60,69.47 435.10,69.50 435.60,69.52 436.10,69.55 436.60,69.57 437.10,69.60 437.60,69.62 438.10,69.64 438.60,69.66 439.10,69.68 439.60,69.69 440.10,69.71 440.60,69.73 441.10,69.74 441.60,69.76 442.10,69.78 442.60,69.79 443.10,69.81 443.60,69.82 444.10,69.83 444.60,69.85 445.10,69.86 445.60,69.87 446.10,69.89 446.60,69.90 447.10,69.91 447.60,69.93 448.10,69.94 448.60,69.95 449.10,69.97 449.60,69.98 450.10,70.00 450.60,70.01 451.10,70.02 451.60,70.04 452.10,70.05 452.60,70.07 453.10,70.08 453.60,70.10" stroke="#b56ee6" stroke-width="1.6"/><path d="M300.10,85.51 300.60,85.40 301.10,85.28 301.60,85.15 302.10,85.00 302.60,84.84 303.10,84.66 303.60,84.47 304.10,84.26 304.60,84.04 305.10,83.80 305.60,83.54 306.10,83.27 306.60,82.97 307.10,82.66 307.60,82.33 308.10,81.98 308.60,81.61 309.10,81.22 309.60,80.81 310.10,80.38 310.60,79.93 311.10,79.46 311.60,78.97 312.10,78.45 312.60,77.92 313.10,77.37 313.60,76.79 314.10,76.20 314.60,75.59 315.10,74.96 315.60,74.32 316.10,73.66 316.60,72.98 317.10,72.29 317.60,71.59 318.10,70.87 318.60,70.15 319.10,69.41 319.60,68.68 320.10,67.93 320.60,67.18 321.10,66.43 321.60,65.67 322.10,64.92 322.60,64.16 323.10,63.41 323.60,62.67 324.10,61.94 324.60,61.22 325.10,60.51 325.60,59.82 326.10,59.14 326.60,58.49 327.10,57.87 327.60,57.27 328.10,56.69 328.60,56.15 329.10,55.64 329.60,55.17 330.10,54.73 330.60,54.33 331.10,53.96 331.60,53.64 332.10,53.36 332.60,53.13 333.10,52.93 333.60,52.78 334.10,52.68 334.60,52.61 335.10,52.57 335.60,52.57 336.10,52.61 336.60,52.67 337.10,52.77 337.60,52.90 338.10,53.07 338.60,53.26 339.10,53.49 339.60,53.74 340.10,54.03 340.60,54.34 341.10,54.67 341.60,55.03 342.10,55.41 342.60,55.81 343.10,56.24 343.60,56.67 344.10,57.13 344.60,57.60 345.10,58.08 345.60,58.58 346.10,59.08 346.60,59.60 347.10,60.12 347.60,60.64 348.10,61.17 348.60,61.71 349.10,62.24 349.60,62.78 350.10,63.31 350.60,63.85 351.10,64.38 351.60,64.90 352.10,65.42 352.60,65.93 353.10,66.43 353.60,66.93 354.10,67.41 354.60,67.88 355.10,68.35 355.60,68.80 356.10,69.24 356.60,69.67 357.10,70.08 357.60,70.48 358.10,70.87 358.60,71.24 359.10,71.60 359.60,71.94 360.10,72.27 360.60,72.59 361.10,72.89 361.60,73.17 362.10,73.44 362.60,73.70 363.10,73.95 363.60,74.18 364.10,74.39 364.60,74.60 365.10,74.79 365.60,74.96 366.10,75.13 366.60,75.28 367.10,75.43 367.60,75.56 368.10,75.68 368.60,75.79 369.10,75.89 369.60,75.98 370.10,76.06 370.60,76.13 371.10,76.20 371.60,76.25" stroke="#ee4433" stroke-width="1.6"/><path d="M124.60,103.07 125.10,103.05 125.60,103.04 126.10,103.02 126.60,103.00 127.10,102.98 127.60,102.95 128.10,102.93 128.60,102.90 129.10,102.87 129.60,102.85 130.10,102.81 130.60,102.78 131.10,102.75 131.60,102.71 132.10,102.67 132.60,102.64 133.10,102.59 133.60,102.55 134.10,102.50 134.60,102.45 135.10,102.40 135.60,102.35 136.10,102.29 136.60,102.22 137.10,102.15 137.60,102.07 138.10,101.98 138.60,101.88 139.10,101.77 139.60,101.64 140.10,101.48 140.60,101.31 141.10,101.10 141.60,100.86 142.10,100.57 142.60,100.23 143.10,99.82 143.60,99.34 144.10,98.77 144.60,98.09 145.10,97.29 145.60,96.35 146.10,95.25 146.60,93.98 147.10,92.50 147.60,90.82 148.10,88.90 148.60,86.73 149.10,84.30 149.60,81.62 150.10,78.68 150.60,75.50 151.10,72.09 151.60,68.47 152.10,64.69 152.60,60.79 153.10,56.80 153.60,52.80 154.10,48.83 154.60,44.96 155.10,41.26 155.60,37.79 156.10,34.61 156.60,31.76 157.10,29.30 157.60,27.26 158.10,25.67 158.60,24.57 159.10,24.08 159.60,24.16 160.10,24.77 160.60,25.84 161.10,27.29 161.60,29.04 162.10,30.99 162.60,33.06 163.10,35.14 163.60,37.17 164.10,39.08 164.60,40.80 165.10,42.30 165.60,43.55 166.10,44.54 166.60,45.26 167.10,45.73 167.60,45.96 168.10,45.99 168.60,45.83 169.10,45.52 169.60,45.09 170.10,44.57 170.60,43.99 171.10,43.37 171.60,42.75 172.10,42.13 172.60,41.55 173.10,41.01 173.60,40.54 174.10,40.13 174.60,39.80 175.10,39.56 175.60,39.40 176.10,39.32 176.60,39.32 177.10,39.40 177.60,39.56 178.10,39.80 178.60,40.12 179.10,40.52 179.60,40.99 180.10,41.53 180.60,42.14 181.10,42.81 181.60,43.54 182.10,44.32 182.60,45.15 183.10,46.03 183.60,46.95 184.10,47.90 184.60,48.89 185.10,49.90 185.60,50.93 186.10,51.98 186.60,53.03 187.10,54.10 187.60,55.16 188.10,56.23 188.60,57.28 189.10,58.33 189.60,59.36 190.10,60.37 190.60,61.35 191.10,62.31 191.60,63.24 192.10,64.14 192.60,65.01 193.10,65.83 193.60,66.62 194.10,67.37 194.60,68.08 195.10,68.74 195.60,69.36 196.10,69.93 196.60,70.46 197.10,70.94 197.60,71.38 198.10,71.77 198.60,72.12 199.10,72.41 199.60,72.67 200.10,72.87 200.60,73.04 201.10,73.16 201.60,73.24 202.10,73.28 202.60,73.27 203.10,73.23 203.60,73.15 204.10,73.03 204.60,72.87 205.10,72.68 205.60,72.46 206.10,72.21 206.60,71.93 207.10,71.62 207.60,71.29 208.10,70.93 208.60,70.54 209.10,70.14 209.60,69.71 210.10,69.27 210.60,68.82 211.10,68.34 211.60,67.86 212.10,67.37 212.60,66.86 213.10,66.35 213.60,65.84 214.10,65.32 214.60,64.80 215.10,64.28 215.60,63.76 216.10,63.25 216.60,62.74 217.10,62.25 217.60,61.76 218.10,61.28 218.60,60.82 219.10,60.37 219.60,59.94 220.10,59.53 220.60,59.14 221.10,58.78 221.60,58.43 222.10,58.12 222.60,57.82 223.10,57.56 223.60,57.33 224.10,57.13 224.60,56.96 225.10,56.82 225.60,56.72 226.10,56.64 226.60,56.60 227.10,56.59 227.60,56.60 228.10,56.65 228.60,56.72 229.10,56.82 229.60,56.94 230.10,57.10 230.60,57.28 231.10,57.48 231.60,57.71 232.10,57.96 232.60,58.24 233.10,58.54 233.60,58.85 234.10,59.19 234.60,59.55 235.10,59.92 235.60,60.31 236.10,60.71 236.60,61.13 237.10,61.56 237.60,62.00 238.10,62.45 238.60,62.91 239.10,63.37 239.60,63.83 240.10,64.30 240.60,64.77 241.10,65.24 241.60,65.70 242.10,66.17 242.60,66.63 243.10,67.09 243.60,67.54 244.10,67.99 244.60,68.43 245.10,68.86 245.60,69.29 246.10,69.71 246.60,70.12 247.10,70.51 247.60,70.90 248.10,71.28 248.60,71.65 249.10,72.00 249.60,72.35 250.10,72.68 250.60,73.00 251.10,73.31 251.60,73.61 252.10,73.90 252.60,74.17 253.10,74.44 253.60,74.69 254.10,74.93 254.60,75.17 255.10,75.39 255.60,75.60 256.10,75.80 256.60,75.99 257.10,76.17 257.60,76.35 258.10,76.51 258.60,76.67 259.10,76.82 259.60,76.97 260.10,77.10 260.60,77.24 261.10,77.37 261.60,77.50 262.10,77.63 262.60,77.76 263.10,77.89 263.60,78.02 264.10,78.15 264.60,78.28 265.10,78.41 265.60,78.53 266.10,78.66 266.60,78.79 267.10,78.91 267.60,79.04 268.10,79.16 268.60,79.29 269.10,79.41 269.60,79.54 270.10,79.66 270.60,79.79 271.10,79.91 271.60,80.04 272.10,80.16 272.60,80.28 273.10,80.40 273.60,80.52 274.10,80.64 274.60,80.76 275.10,80.88 275.60,80.99 276.10,81.11 276.60,81.22 277.10,81.33 277.60,81.44 278.10,81.54 278.60,81.65 279.10,81.75 279.60,81.84 280.10,81.94 280.60,82.04 281.10,82.14 281.60,82.25 282.10,82.37 282.60,82.49 283.10,82.61 283.60,82.74 284.10,82.87 284.60,83.00 285.10,83.14 285.60,83.28 286.10,83.42 286.60,83.56 287.10,83.69 287.60,83.83 288.10,83.97 288.60,84.11 289.10,84.24 289.60,84.37 290.10,84.50 290.60,84.62 291.10,84.74 291.60,84.85 292.10,84.95 292.60,85.05 293.10,85.14 293.60,85.23 294.10,85.30 294.60,85.36 295.10,85.42 295.60,85.46 296.10,85.49 296.60,85.50 297.10,85.50 297.60,85.49 298.10,85.46 298.60,85.41 299.10,85.34 299.60,85.26 300.10,85.16 300.60,85.05 301.10,84.92 301.60,84.78 302.10,84.63 302.60,84.47 303.10,84.29 303.60,84.09 304.10,83.88 304.60,83.65 305.10,83.41 305.60,83.14 306.10,82.86 306.60,82.57 307.10,82.25 307.60,81.92 308.10,81.56 308.60,81.19 309.10,80.79 309.60,80.38 310.10,79.94 310.60,79.49 311.10,79.01 311.60,78.51 312.10,78.00 312.60,77.46 313.10,76.90 313.60,76.32 314.10,75.72 314.60,75.11 315.10,74.47 315.60,73.82 316.10,73.15 316.60,72.47 317.10,71.77 317.60,71.06 318.10,70.34 318.60,69.61 319.10,68.87 319.60,68.13 320.10,67.38 320.60,66.62 321.10,65.86 321.60,65.10 322.10,64.33 322.60,63.57 323.10,62.81 323.60,62.06 324.10,61.32 324.60,60.59 325.10,59.87 325.60,59.17 326.10,58.49 326.60,57.83 327.10,57.20 327.60,56.59 328.10,56.01 328.60,55.46 329.10,54.94 329.60,54.45 330.10,54.00 330.60,53.58 331.10,53.19 331.60,52.85 332.10,52.55 332.60,52.29 333.10,52.08 333.60,51.90 334.10,51.78 334.60,51.68 335.10,51.63 335.60,51.60 336.10,51.61 336.60,51.65 337.10,51.73 337.60,51.84 338.10,51.97 338.60,52.14 339.10,52.34 339.60,52.57 340.10,52.83 340.60,53.11 341.10,53.42 341.60,53.75 342.10,54.10 342.60,54.47 343.10,54.86 343.60,55.27 344.10,55.69 344.60,56.13 345.10,56.58 345.60,57.04 346.10,57.51 346.60,57.99 347.10,58.47 347.60,58.96 348.10,59.45 348.60,59.94 349.10,60.43 349.60,60.93 350.10,61.42 350.60,61.90 351.10,62.38 351.60,62.85 352.10,63.32 352.60,63.77 353.10,64.22 353.60,64.66 354.10,65.08 354.60,65.49 355.10,65.88 355.60,66.27 356.10,66.63 356.60,66.98 357.10,67.31 357.60,67.63 358.10,67.93 358.60,68.21 359.10,68.47 359.60,68.71 360.10,68.94 360.60,69.14 361.10,69.33 361.60,69.49 362.10,69.63 362.60,69.76 363.10,69.86 363.60,69.95 364.10,70.01 364.60,70.05 365.10,70.08 365.60,70.08 366.10,70.06 366.60,70.03 367.10,69.97 367.60,69.90 368.10,69.80 368.60,69.69 369.10,69.55 369.60,69.40 370.10,69.23 370.60,69.05 371.10,68.86 371.60,68.64 372.10,68.41 372.60,68.17 373.10,67.90 373.60,67.62 374.10,67.33 374.60,67.02 375.10,66.70 375.60,66.36 376.10,66.00 376.60,65.64 377.10,65.26 377.60,64.87 378.10,64.47 378.60,64.05 379.10,63.63 379.60,63.20 380.10,62.75 380.60,62.30 381.10,61.84 381.60,61.38 382.10,60.91 382.60,60.44 383.10,59.96 383.60,59.48 384.10,59.00 384.60,58.52 385.10,58.05 385.60,57.57 386.10,57.10 386.60,56.64 387.10,56.19 387.60,55.74 388.10,55.31 388.60,54.89 389.10,54.49 389.60,54.10 390.10,53.74 390.60,53.39 391.10,53.07 391.60,52.77 392.10,52.50 392.60,52.26 393.10,52.05 393.60,51.86 394.10,51.71 394.60,51.59 395.10,51.51 395.60,51.46 396.10,51.46 396.60,51.51 397.10,51.61 397.60,51.77 398.10,51.97 398.60,52.22 399.10,52.51 399.60,52.83 400.10,53.19 400.60,53.57 401.10,53.98 401.60,54.41 402.10,54.85 402.60,55.30 403.10,55.76 403.60,56.22 404.10,56.69 404.60,57.16 405.10,57.62 405.60,58.08 406.10,58.53 406.60,58.97 407.10,59.41 407.60,59.83 408.10,60.24 408.60,60.64 409.10,61.03 409.60,61.40 410.10,61.77 410.60,62.11 411.10,62.45 411.60,62.77 412.10,63.08 412.60,63.38 413.10,63.66 413.60,63.93 414.10,64.19 414.60,64.44 415.10,64.68 415.60,64.90 416.10,65.12 416.60,65.32 417.10,65.52 417.60,65.71 418.10,65.89 418.60,66.06 419.10,66.22 419.60,66.38 420.10,66.52 420.60,66.67 421.10,66.81 421.60,66.94 422.10,67.06 422.60,67.18 423.10,67.30 423.60,67.41 424.10,67.51 424.60,67.60 425.10,67.69 425.60,67.77 426.10,67.85 426.60,67.93 427.10,68.00 427.60,68.06 428.10,68.13 428.60,68.18 429.10,68.24 429.60,68.29 430.10,68.34 430.60,68.39 431.10,68.43 431.60,68.47 432.10,68.51 432.60,68.54 433.10,68.58 433.60,68.61 434.10,68.64 434.60,68.67 435.10,68.70 435.60,68.72 436.10,68.75 436.60,68.77 437.10,68.80 437.60,68.82 438.10,68.84 438.60,68.86 439.10,68.88 439.60,68.89 440.10,68.91 440.60,68.93 441.10,68.94 441.60,68.96 442.10,68.98 442.60,68.99 443.10,69.01 443.60,69.02 444.10,69.03 444.60,69.05 445.10,69.06 445.60,69.07 446.10,69.09 446.60,69.10 447.10,69.11 447.60,69.13 448.10,69.14 448.60,69.15 449.10,69.17 449.60,69.18 450.10,69.20 450.60,69.21 451.10,69.22 451.60,69.24 452.10,69.25 452.60,69.27 453.10,69.28 453.60,69.30" stroke="#1fcbd0" stroke-width="2.3"/><path d="M124.60,210.55 125.10,210.07 125.60,210.78 126.10,210.86 126.60,211.08 127.10,210.39 127.60,210.19 128.10,210.08 128.60,210.66 129.10,210.03 129.60,210.59 130.10,210.35 130.60,210.57 131.10,210.04 131.60,210.07 132.10,209.62 132.60,209.78 133.10,209.58 133.60,210.33 134.10,210.01 134.60,210.62 135.10,210.29 135.60,210.29 136.10,210.16 136.60,210.73 137.10,210.99 137.60,210.29 138.10,209.78 138.60,209.61 139.10,209.76 139.60,210.18 140.10,210.46 140.60,210.53 141.10,210.08 141.60,209.84 142.10,209.92 142.60,209.91 143.10,209.62 143.60,209.15 144.10,209.32 144.60,209.23 145.10,208.78 145.60,208.29 146.10,207.75 146.60,207.01 147.10,206.08 147.60,205.25 148.10,204.83 148.60,204.08 149.10,203.62 149.60,202.80 150.10,201.74 150.60,200.75 151.10,200.41 151.60,199.36 152.10,198.29 152.60,197.35 153.10,196.04 153.60,195.07 154.10,192.98 154.60,190.87 155.10,187.36 155.60,183.60 156.10,178.60 156.60,173.65 157.10,169.00 157.60,166.19 158.10,163.38 158.60,159.77 159.10,156.44 159.60,152.56 160.10,149.27 160.60,145.44 161.10,142.74 161.60,140.54 162.10,137.82 162.60,134.88 163.10,131.84 163.60,129.91 164.10,128.14 164.60,127.41 165.10,128.23 165.60,129.23 166.10,131.14 166.60,132.53 167.10,134.17 167.60,135.66 168.10,137.00 168.60,138.24 169.10,138.96 169.60,139.70 170.10,141.20 170.60,142.79 171.10,144.34 171.60,145.00 172.10,145.66 172.60,146.19 173.10,146.30 173.60,147.59 174.10,147.94 174.60,148.68 175.10,148.68 175.60,148.96 176.10,149.03 176.60,148.20 177.10,147.36 177.60,147.09 178.10,147.33 178.60,147.24 179.10,147.22 179.60,146.03 180.10,145.65 180.60,145.19 181.10,145.59 181.60,146.23 182.10,146.18 182.60,146.28 183.10,146.01 183.60,146.49 184.10,147.16 184.60,147.99 185.10,149.15 185.60,150.02 186.10,150.62 186.60,152.05 187.10,152.80 187.60,153.84 188.10,154.31 188.60,155.77 189.10,156.67 189.60,156.74 190.10,156.99 190.60,158.61 191.10,159.91 191.60,160.96 192.10,161.62 192.60,163.10 193.10,164.02 193.60,165.09 194.10,165.49 194.60,167.63 195.10,169.23 195.60,170.84 196.10,171.04 196.60,171.55 197.10,171.47 197.60,172.39 198.10,172.56 198.60,173.53 199.10,173.94 199.60,174.91 200.10,176.12 200.60,177.14 201.10,177.90 201.60,177.98 202.10,178.48 202.60,178.83 203.10,179.90 203.60,179.83 204.10,179.41 204.60,179.25 205.10,180.49 205.60,181.74 206.10,182.08 206.60,181.92 207.10,182.11 207.60,182.45 208.10,182.13 208.60,182.06 209.10,182.01 209.60,181.95 210.10,181.54 210.60,181.43 211.10,181.78 211.60,182.14 212.10,182.04 212.60,181.66 213.10,181.96 213.60,181.58 214.10,181.39 214.60,180.81 215.10,180.33 215.60,179.65 216.10,178.88 216.60,178.86 217.10,178.32 217.60,177.54 218.10,176.45 218.60,175.36 219.10,174.92 219.60,174.13 220.10,173.26 220.60,172.15 221.10,170.96 221.60,170.41 222.10,169.68 222.60,169.14 223.10,168.97 223.60,167.73 224.10,167.30 224.60,166.36 225.10,166.48 225.60,165.92 226.10,165.10 226.60,163.99 227.10,163.04 227.60,162.69 228.10,161.89 228.60,161.55 229.10,160.71 229.60,160.58 230.10,160.01 230.60,160.41 231.10,159.95 231.60,159.98 232.10,159.37 232.60,159.75 233.10,159.86 233.60,160.00 234.10,160.27 234.60,159.88 235.10,160.00 235.60,159.62 236.10,160.47 236.60,160.48 237.10,160.97 237.60,161.32 238.10,162.56 238.60,163.52 239.10,164.15 239.60,164.70 240.10,164.81 240.60,164.67 241.10,164.72 241.60,165.53 242.10,167.14 242.60,168.54 243.10,168.85 243.60,169.86 244.10,170.32 244.60,171.60 245.10,171.55 245.60,172.34 246.10,172.58 246.60,172.75 247.10,172.45 247.60,172.36 248.10,172.97 248.60,173.20 249.10,174.01 249.60,174.26 250.10,174.27 250.60,174.87 251.10,174.78 251.60,175.72 252.10,175.23 252.60,176.01 253.10,175.85 253.60,176.68 254.10,176.70 254.60,176.61 255.10,176.57 255.60,177.08 256.10,178.21 256.60,178.39 257.10,178.00 257.60,177.83 258.10,178.47 258.60,179.18 259.10,179.46 259.60,180.05 260.10,180.79 260.60,181.52 261.10,181.25 261.60,181.25 262.10,181.24 262.60,181.35 263.10,181.85 263.60,182.18 264.10,182.71 264.60,183.11 265.10,183.55 265.60,184.18 266.10,184.33 266.60,184.53 267.10,184.12 267.60,183.88 268.10,184.20 268.60,184.60 269.10,184.97 269.60,185.04 270.10,185.95 270.60,186.58 271.10,186.96 271.60,186.70 272.10,186.80 272.60,186.90 273.10,187.09 273.60,187.40 274.10,187.53 274.60,187.48 275.10,187.55 275.60,187.40 276.10,187.86 276.60,187.06 277.10,187.16 277.60,186.72 278.10,186.90 278.60,186.35 279.10,187.29 279.60,187.56 280.10,188.22 280.60,187.94 281.10,187.99 281.60,188.13 282.10,187.44 282.60,187.60 283.10,187.39 283.60,188.02 284.10,188.09 284.60,187.88 285.10,187.25 285.60,186.98 286.10,187.70 286.60,188.47 287.10,188.99 287.60,188.25 288.10,187.40 288.60,187.18 289.10,187.78 289.60,188.52 290.10,188.93 290.60,189.10 291.10,189.05 291.60,188.80 292.10,189.03 292.60,189.54 293.10,189.92 293.60,190.68 294.10,190.71 294.60,190.90 295.10,190.05 295.60,190.16 296.10,190.41 296.60,191.01 297.10,191.21 297.60,191.31 298.10,191.30 298.60,190.92 299.10,189.97 299.60,190.80 300.10,191.77 300.60,192.89 301.10,191.84 301.60,191.38 302.10,191.98 302.60,191.85 303.10,192.35 303.60,192.48 304.10,193.68 304.60,194.33 305.10,194.32 305.60,195.23 306.10,194.84 306.60,194.50 307.10,193.86 307.60,194.58 308.10,194.94 308.60,195.14 309.10,194.50 309.60,194.11 310.10,194.16 310.60,194.73 311.10,195.48 311.60,194.86 312.10,193.86 312.60,192.69 313.10,192.35 313.60,192.46 314.10,192.56 314.60,191.77 315.10,191.19 315.60,190.54 316.10,190.46 316.60,189.82 317.10,189.13 317.60,188.63 318.10,187.99 318.60,187.36 319.10,186.12 319.60,185.03 320.10,183.43 320.60,181.27 321.10,179.42 321.60,177.47 322.10,176.54 322.60,174.66 323.10,173.28 323.60,171.99 324.10,171.18 324.60,170.24 325.10,168.84 325.60,168.62 326.10,167.55 326.60,167.28 327.10,166.26 327.60,166.25 328.10,166.04 328.60,165.73 329.10,165.78 329.60,165.56 330.10,166.06 330.60,165.23 331.10,165.05 331.60,163.89 332.10,163.81 332.60,163.56 333.10,163.79 333.60,163.43 334.10,162.86 334.60,162.42 335.10,162.61 335.60,163.29 336.10,163.31 336.60,163.20 337.10,162.54 337.60,162.35 338.10,162.29 338.60,162.06 339.10,162.03 339.60,162.03 340.10,162.34 340.60,162.15 341.10,162.64 341.60,162.83 342.10,163.14 342.60,162.34 343.10,161.72 343.60,161.25 344.10,161.43 344.60,161.62 345.10,161.69 345.60,162.01 346.10,162.36 346.60,162.35 347.10,162.23 347.60,162.29 348.10,163.01 348.60,163.15 349.10,163.66 349.60,164.17 350.10,164.86 350.60,164.96 351.10,164.87 351.60,165.20 352.10,165.91 352.60,166.64 353.10,166.86 353.60,166.61 354.10,167.07 354.60,167.48 355.10,168.26 355.60,168.18 356.10,168.03 356.60,168.05 357.10,168.26 357.60,169.10 358.10,169.41 358.60,168.58 359.10,168.38 359.60,168.64 360.10,170.14 360.60,170.61 361.10,171.42 361.60,171.63 362.10,171.99 362.60,171.69 363.10,171.01 363.60,171.02 364.10,171.09 364.60,171.53 365.10,171.64 365.60,171.79 366.10,172.01 366.60,171.99 367.10,171.97 367.60,172.35 368.10,172.42 368.60,172.79 369.10,172.25 369.60,172.37 370.10,171.74 370.60,172.17 371.10,172.37 371.60,172.82 372.10,172.83 372.60,172.57 373.10,172.90 373.60,172.44 374.10,172.52 374.60,171.42 375.10,171.44 375.60,171.05 376.10,171.08 376.60,171.12 377.10,171.13 377.60,170.84 378.10,170.56 378.60,170.02 379.10,169.58 379.60,169.33 380.10,168.99 380.60,169.76 381.10,169.35 381.60,169.91 382.10,169.17 382.60,169.86 383.10,169.38 383.60,169.56 384.10,169.10 384.60,169.09 385.10,169.25 385.60,169.40 386.10,168.89 386.60,167.96 387.10,166.49 387.60,166.34 388.10,166.79 388.60,167.55 389.10,167.54 389.60,167.04 390.10,166.57 390.60,166.27 391.10,166.31 391.60,165.79 392.10,165.91 392.60,165.16 393.10,165.45 393.60,164.85 394.10,164.98 394.60,164.52 395.10,164.17 395.60,164.02 396.10,163.82 396.60,164.72 397.10,164.48 397.60,164.43 398.10,163.35 398.60,162.99 399.10,162.29 399.60,162.23 400.10,162.52 400.60,162.71 401.10,162.71 401.60,162.21 402.10,162.62 402.60,162.71 403.10,163.22 403.60,163.37 404.10,163.08 404.60,163.22 405.10,162.98 405.60,163.32 406.10,163.28 406.60,163.34 407.10,162.84 407.60,162.80 408.10,162.54 408.60,162.64 409.10,162.13 409.60,162.73 410.10,162.98 410.60,162.69 411.10,162.72 411.60,163.46 412.10,164.76 412.60,164.47 413.10,163.99 413.60,163.73 414.10,164.30 414.60,164.43 415.10,164.11 415.60,164.23 416.10,164.56 416.60,164.55 417.10,164.22 417.60,164.07 418.10,164.41 418.60,164.61 419.10,164.74 419.60,164.92 420.10,164.82 420.60,164.36 421.10,164.67 421.60,165.49 422.10,166.90 422.60,167.15 423.10,167.19 423.60,167.51 424.10,168.42 424.60,168.98 425.10,169.17 425.60,168.88 426.10,169.27 426.60,169.12 427.10,169.60 427.60,169.66 428.10,170.04 428.60,169.70 429.10,169.73 429.60,170.21 430.10,171.05 430.60,171.39 431.10,171.63 431.60,172.06 432.10,172.64 432.60,172.46 433.10,172.45 433.60,172.27 434.10,172.42 434.60,172.13 435.10,172.36 435.60,172.52 436.10,173.76 436.60,173.91 437.10,174.26 437.60,173.64 438.10,174.38 438.60,174.32 439.10,174.54 439.60,173.91 440.10,174.32 440.60,174.53 441.10,175.27 441.60,175.07 442.10,175.26 442.60,175.61 443.10,176.07 443.60,176.23 444.10,175.68 444.60,175.25 445.10,175.48 445.60,176.31 446.10,177.17 446.60,176.87 447.10,176.84 447.60,177.26 448.10,178.37" stroke="#474747" stroke-width="2.8"/><path d="M124.60,212.17 125.10,212.14 125.60,212.11 126.10,212.08 126.60,212.05 127.10,212.02 127.60,211.99 128.10,211.96 128.60,211.93 129.10,211.90 129.60,211.87 130.10,211.84 130.60,211.81 131.10,211.78 131.60,211.75 132.10,211.72 132.60,211.69 133.10,211.66 133.60,211.63 134.10,211.60 134.60,211.57 135.10,211.54 135.60,211.51 136.10,211.48 136.60,211.45 137.10,211.42 137.60,211.39 138.10,211.37 138.60,211.34 139.10,211.31 139.60,211.28 140.10,211.25 140.60,211.21 141.10,211.16 141.60,211.11 142.10,211.06 142.60,211.01 143.10,210.96 143.60,210.91 144.10,210.86 144.60,210.81 145.10,210.75 145.60,210.70 146.10,210.64 146.60,210.59 147.10,210.53 147.60,210.47 148.10,210.41 148.60,210.35 149.10,210.29 149.60,210.22 150.10,210.15 150.60,210.08 151.10,210.01 151.60,209.93 152.10,209.84 152.60,209.76 153.10,209.67 153.60,209.57 154.10,209.47 154.60,209.37 155.10,209.27 155.60,209.16 156.10,209.05 156.60,208.94 157.10,208.83 157.60,208.71 158.10,208.60 158.60,208.48 159.10,208.35 159.60,208.23 160.10,208.11 160.60,207.98 161.10,207.86 161.60,207.73 162.10,207.60 162.60,207.48 163.10,207.35 163.60,207.22 164.10,207.09 164.60,206.97 165.10,206.84 165.60,206.71 166.10,206.59 166.60,206.47 167.10,206.34 167.60,206.22 168.10,206.10 168.60,205.98 169.10,205.86 169.60,205.74 170.10,205.62 170.60,205.51 171.10,205.40 171.60,205.29 172.10,205.18 172.60,205.07 173.10,204.96 173.60,204.85 174.10,204.74 174.60,204.62 175.10,204.51 175.60,204.39 176.10,204.28 176.60,204.17 177.10,204.05 177.60,203.94 178.10,203.83 178.60,203.72 179.10,203.61 179.60,203.50 180.10,203.39 180.60,203.28 181.10,203.18 181.60,203.07 182.10,202.97 182.60,202.87 183.10,202.77 183.60,202.68 184.10,202.59 184.60,202.50 185.10,202.41 185.60,202.33 186.10,202.25 186.60,202.17 187.10,202.09 187.60,202.02 188.10,201.95 188.60,201.88 189.10,201.81 189.60,201.74 190.10,201.67 190.60,201.60 191.10,201.54 191.60,201.47 192.10,201.41 192.60,201.35 193.10,201.28 193.60,201.22 194.10,201.16 194.60,201.10 195.10,201.05 195.60,200.99 196.10,200.93 196.60,200.87 197.10,200.82 197.60,200.76 198.10,200.70 198.60,200.65 199.10,200.59 199.60,200.54 200.10,200.48 200.60,200.43 201.10,200.37 201.60,200.32 202.10,200.26 202.60,200.21 203.10,200.15 203.60,200.10 204.10,200.04 204.60,199.99 205.10,199.93 205.60,199.88 206.10,199.82 206.60,199.77 207.10,199.72 207.60,199.67 208.10,199.61 208.60,199.56 209.10,199.51 209.60,199.46 210.10,199.41 210.60,199.36 211.10,199.31 211.60,199.26 212.10,199.21 212.60,199.16 213.10,199.11 213.60,199.06 214.10,199.01 214.60,198.96 215.10,198.91 215.60,198.87 216.10,198.82 216.60,198.77 217.10,198.72 217.60,198.67 218.10,198.62 218.60,198.58 219.10,198.53 219.60,198.48 220.10,198.43 220.60,198.38 221.10,198.33 221.60,198.28 222.10,198.23 222.60,198.18 223.10,198.13 223.60,198.08 224.10,198.03 224.60,197.98 225.10,197.93 225.60,197.88 226.10,197.83 226.60,197.77 227.10,197.72 227.60,197.67 228.10,197.61 228.60,197.56 229.10,197.50 229.60,197.45 230.10,197.39 230.60,197.33 231.10,197.27 231.60,197.21 232.10,197.15 232.60,197.09 233.10,197.03 233.60,196.97 234.10,196.90 234.60,196.84 235.10,196.78 235.60,196.71 236.10,196.65 236.60,196.58 237.10,196.52 237.60,196.45 238.10,196.38 238.60,196.32 239.10,196.25 239.60,196.19 240.10,196.12 240.60,196.05 241.10,195.99 241.60,195.92 242.10,195.86 242.60,195.79 243.10,195.73 243.60,195.66 244.10,195.60 244.60,195.53 245.10,195.47 245.60,195.41 246.10,195.35 246.60,195.29 247.10,195.23 247.60,195.17 248.10,195.11 248.60,195.05 249.10,195.00 249.60,194.94 250.10,194.88 250.60,194.82 251.10,194.76 251.60,194.70 252.10,194.64 252.60,194.59 253.10,194.53 253.60,194.47 254.10,194.41 254.60,194.35 255.10,194.29 255.60,194.24 256.10,194.18 256.60,194.12 257.10,194.07 257.60,194.01 258.10,193.96 258.60,193.90 259.10,193.85 259.60,193.80 260.10,193.74 260.60,193.69 261.10,193.64 261.60,193.60 262.10,193.55 262.60,193.50 263.10,193.46 263.60,193.41 264.10,193.37 264.60,193.33 265.10,193.29 265.60,193.26 266.10,193.22 266.60,193.19 267.10,193.15 267.60,193.12 268.10,193.09 268.60,193.05 269.10,193.02 269.60,192.98 270.10,192.95 270.60,192.92 271.10,192.88 271.60,192.85 272.10,192.82 272.60,192.79 273.10,192.76 273.60,192.73 274.10,192.70 274.60,192.67 275.10,192.64 275.60,192.61 276.10,192.58 276.60,192.56 277.10,192.53 277.60,192.51 278.10,192.49 278.60,192.46 279.10,192.44 279.60,192.42 280.10,192.40 280.60,192.39 281.10,192.37 281.60,192.36 282.10,192.34 282.60,192.33 283.10,192.32 283.60,192.31 284.10,192.30 284.60,192.30 285.10,192.29 285.60,192.29 286.10,192.29 286.60,192.28 287.10,192.28 287.60,192.28 288.10,192.27 288.60,192.27 289.10,192.27 289.60,192.26 290.10,192.26 290.60,192.26 291.10,192.26 291.60,192.26 292.10,192.25 292.60,192.25 293.10,192.25 293.60,192.25 294.10,192.25 294.60,192.25 295.10,192.24 295.60,192.24 296.10,192.24 296.60,192.24 297.10,192.24 297.60,192.23 298.10,192.23 298.60,192.23 299.10,192.23 299.60,192.22 300.10,192.22 300.60,192.21 301.10,192.20 301.60,192.19 302.10,192.18 302.60,192.17 303.10,192.16 303.60,192.15 304.10,192.13 304.60,192.12 305.10,192.11 305.60,192.09 306.10,192.08 306.60,192.06 307.10,192.04 307.60,192.02 308.10,192.01 308.60,191.99 309.10,191.97 309.60,191.95 310.10,191.93 310.60,191.91 311.10,191.88 311.60,191.86 312.10,191.84 312.60,191.81 313.10,191.78 313.60,191.75 314.10,191.72 314.60,191.68 315.10,191.64 315.60,191.60 316.10,191.56 316.60,191.51 317.10,191.46 317.60,191.41 318.10,191.36 318.60,191.31 319.10,191.25 319.60,191.20 320.10,191.14 320.60,191.08 321.10,191.02 321.60,190.96 322.10,190.89 322.60,190.83 323.10,190.77 323.60,190.70 324.10,190.63 324.60,190.57 325.10,190.50 325.60,190.43 326.10,190.36 326.60,190.29 327.10,190.22 327.60,190.16 328.10,190.09 328.60,190.02 329.10,189.95 329.60,189.88 330.10,189.81 330.60,189.74 331.10,189.67 331.60,189.60 332.10,189.52 332.60,189.44 333.10,189.36 333.60,189.28 334.10,189.19 334.60,189.11 335.10,189.02 335.60,188.93 336.10,188.84 336.60,188.75 337.10,188.66 337.60,188.56 338.10,188.47 338.60,188.37 339.10,188.28 339.60,188.18 340.10,188.08 340.60,187.99 341.10,187.90 341.60,187.80 342.10,187.71 342.60,187.61 343.10,187.52 343.60,187.42 344.10,187.33 344.60,187.24 345.10,187.14 345.60,187.05 346.10,186.95 346.60,186.86 347.10,186.77 347.60,186.67 348.10,186.58 348.60,186.49 349.10,186.40 349.60,186.31 350.10,186.22 350.60,186.13 351.10,186.05 351.60,185.96 352.10,185.88 352.60,185.80 353.10,185.72 353.60,185.64 354.10,185.56 354.60,185.49 355.10,185.41 355.60,185.34 356.10,185.26 356.60,185.19 357.10,185.12 357.60,185.05 358.10,184.97 358.60,184.90 359.10,184.83 359.60,184.76 360.10,184.69 360.60,184.63 361.10,184.56 361.60,184.49 362.10,184.42 362.60,184.35 363.10,184.29 363.60,184.22 364.10,184.15 364.60,184.09 365.10,184.02 365.60,183.96 366.10,183.89 366.60,183.83 367.10,183.77 367.60,183.70 368.10,183.64 368.60,183.58 369.10,183.51 369.60,183.45 370.10,183.39 370.60,183.33 371.10,183.26 371.60,183.20 372.10,183.14 372.60,183.08 373.10,183.02 373.60,182.96 374.10,182.90 374.60,182.84 375.10,182.78 375.60,182.72 376.10,182.66 376.60,182.61 377.10,182.55 377.60,182.49 378.10,182.43 378.60,182.38 379.10,182.32 379.60,182.26 380.10,182.20 380.60,182.15 381.10,182.09 381.60,182.04 382.10,181.98 382.60,181.92 383.10,181.87 383.60,181.81 384.10,181.76 384.60,181.70 385.10,181.65 385.60,181.59 386.10,181.54 386.60,181.48 387.10,181.43 387.60,181.37 388.10,181.32 388.60,181.26 389.10,181.21 389.60,181.15 390.10,181.10 390.60,181.04 391.10,180.99 391.60,180.93 392.10,180.88 392.60,180.82 393.10,180.77 393.60,180.71 394.10,180.66 394.60,180.60 395.10,180.55 395.60,180.49 396.10,180.44 396.60,180.38 397.10,180.33 397.60,180.27 398.10,180.21 398.60,180.16 399.10,180.10 399.60,180.05 400.10,179.99 400.60,179.93 401.10,179.87 401.60,179.81 402.10,179.75 402.60,179.69 403.10,179.63 403.60,179.57 404.10,179.51 404.60,179.44 405.10,179.38 405.60,179.31 406.10,179.25 406.60,179.18 407.10,179.12 407.60,179.05 408.10,178.98 408.60,178.92 409.10,178.85 409.60,178.78 410.10,178.71 410.60,178.64 411.10,178.58 411.60,178.51 412.10,178.44 412.60,178.37 413.10,178.30 413.60,178.24 414.10,178.17 414.60,178.10 415.10,178.03 415.60,177.97 416.10,177.90 416.60,177.83 417.10,177.77 417.60,177.70 418.10,177.63 418.60,177.57 419.10,177.51 419.60,177.44 420.10,177.38 420.60,177.32 421.10,177.26 421.60,177.20 422.10,177.14 422.60,177.08 423.10,177.02 423.60,176.96 424.10,176.91 424.60,176.85 425.10,176.80 425.60,176.75 426.10,176.69 426.60,176.64 427.10,176.59 427.60,176.55 428.10,176.50 428.60,176.46 429.10,176.41 429.60,176.37 430.10,176.33 430.60,176.29 431.10,176.25 431.60,176.22 432.10,176.18 432.60,176.15 433.10,176.12 433.60,176.11 434.10,176.10 434.60,176.09 435.10,176.09 435.60,176.08 436.10,176.08 436.60,176.08 437.10,176.07 437.60,176.07 438.10,176.06 438.60,176.06 439.10,176.06 439.60,176.06 440.10,176.05 440.60,176.05 441.10,176.05 441.60,176.05 442.10,176.05 442.60,176.05 443.10,176.04 443.60,176.04 444.10,176.05 444.60,176.05 445.10,176.05 445.60,176.05 446.10,176.05 446.60,176.06 447.10,176.06 447.60,176.07 448.10,176.07" stroke="#ee4040" stroke-width="1.6"/><path d="M150.60,209.83 151.10,209.63 151.60,209.36 152.10,209.02 152.60,208.57 153.10,207.99 153.60,207.24 154.10,206.28 154.60,205.08 155.10,203.58 155.60,201.75 156.10,199.55 156.60,196.96 157.10,193.96 157.60,190.58 158.10,186.83 158.60,182.78 159.10,178.51 159.60,174.14 160.10,169.80 160.60,165.63 161.10,161.80 161.60,158.47 162.10,155.77 162.60,153.82 163.10,152.71 163.60,152.48 164.10,153.02 164.60,154.26 165.10,156.16 165.60,158.64 166.10,161.59 166.60,164.92 167.10,168.50 167.60,172.21 168.10,175.95 168.60,179.61 169.10,183.10 169.60,186.36 170.10,189.34 170.60,192.02 171.10,194.38 171.60,196.40 172.10,198.11 172.60,199.52 173.10,200.66 173.60,201.56 174.10,202.26 174.60,202.78 175.10,203.16 175.60,203.42 176.10,203.58 176.60,203.67 177.10,203.71 177.60,203.71" stroke="#ee3535" stroke-width="1.6"/><path d="M135.10,210.61 135.60,210.54 136.10,210.47 136.60,210.39 137.10,210.31 137.60,210.22 138.10,210.13 138.60,210.03 139.10,209.92 139.60,209.81 140.10,209.69 140.60,209.56 141.10,209.42 141.60,209.27 142.10,209.11 142.60,208.94 143.10,208.75 143.60,208.56 144.10,208.34 144.60,208.12 145.10,207.87 145.60,207.61 146.10,207.33 146.60,207.03 147.10,206.72 147.60,206.37 148.10,206.01 148.60,205.63 149.10,205.22 149.60,204.78 150.10,204.32 150.60,203.83 151.10,203.31 151.60,202.76 152.10,202.18 152.60,201.56 153.10,200.92 153.60,200.24 154.10,199.53 154.60,198.78 155.10,198.00 155.60,197.19 156.10,196.35 156.60,195.48 157.10,194.57 157.60,193.63 158.10,192.66 158.60,191.66 159.10,190.63 159.60,189.57 160.10,188.49 160.60,187.38 161.10,186.24 161.60,185.09 162.10,183.91 162.60,182.72 163.10,181.51 163.60,180.29 164.10,179.05 164.60,177.81 165.10,176.56 165.60,175.31 166.10,174.06 166.60,172.81 167.10,171.57 167.60,170.34 168.10,169.12 168.60,167.92 169.10,166.73 169.60,165.56 170.10,164.42 170.60,163.30 171.10,162.22 171.60,161.16 172.10,160.15 172.60,159.17 173.10,158.24 173.60,157.35 174.10,156.51 174.60,155.73 175.10,154.99 175.60,154.32 176.10,153.70 176.60,153.15 177.10,152.66 177.60,152.23 178.10,151.87 178.60,151.58 179.10,151.35 179.60,151.20 180.10,151.11 180.60,151.09 181.10,151.14 181.60,151.26 182.10,151.44 182.60,151.70 183.10,152.01 183.60,152.40 184.10,152.84 184.60,153.35 185.10,153.91 185.60,154.53 186.10,155.21 186.60,155.93 187.10,156.70 187.60,157.52 188.10,158.38 188.60,159.27 189.10,160.20 189.60,161.16 190.10,162.15 190.60,163.16 191.10,164.19 191.60,165.24 192.10,166.31 192.60,167.38 193.10,168.46 193.60,169.55 194.10,170.64 194.60,171.72 195.10,172.80 195.60,173.88 196.10,174.94 196.60,176.00 197.10,177.03 197.60,178.06 198.10,179.06 198.60,180.04 199.10,181.00 199.60,181.94 200.10,182.85 200.60,183.74 201.10,184.60 201.60,185.43 202.10,186.23 202.60,187.00 203.10,187.74 203.60,188.46 204.10,189.14 204.60,189.79 205.10,190.41 205.60,191.00 206.10,191.57 206.60,192.10 207.10,192.61 207.60,193.09 208.10,193.54 208.60,193.97 209.10,194.37 209.60,194.74 210.10,195.09 210.60,195.42 211.10,195.72 211.60,196.01 212.10,196.27 212.60,196.51 213.10,196.73 213.60,196.94 214.10,197.12 214.60,197.29 215.10,197.45 215.60,197.59 216.10,197.71 216.60,197.83 217.10,197.93 217.60,198.01 218.10,198.09 218.60,198.16 219.10,198.22 219.60,198.27 220.10,198.31 220.60,198.34 221.10,198.36 221.60,198.38 222.10,198.39 222.60,198.40 223.10,198.40 223.60,198.39" stroke="#1c64d8" stroke-width="1.6"/><path d="M124.60,210.72 125.10,210.68 125.60,210.64 126.10,210.61 126.60,210.57 127.10,210.53 127.60,210.49 128.10,210.45 128.60,210.42 129.10,210.38 129.60,210.34 130.10,210.30 130.60,210.26 131.10,210.22 131.60,210.18 132.10,210.15 132.60,210.11 133.10,210.07 133.60,210.03 134.10,209.98 134.60,209.94 135.10,209.90 135.60,209.86 136.10,209.82 136.60,209.78 137.10,209.74 137.60,209.70 138.10,209.66 138.60,209.62 139.10,209.58 139.60,209.54 140.10,209.51 140.60,209.47 141.10,209.43 141.60,209.39 142.10,209.35 142.60,209.31 143.10,209.26 143.60,209.22 144.10,209.18 144.60,209.13 145.10,209.09 145.60,209.04 146.10,208.99 146.60,208.94 147.10,208.89 147.60,208.84 148.10,208.79 148.60,208.73 149.10,208.67 149.60,208.61 150.10,208.55 150.60,208.48 151.10,208.41 151.60,208.34 152.10,208.26 152.60,208.17 153.10,208.09 153.60,207.99 154.10,207.90 154.60,207.80 155.10,207.70 155.60,207.59 156.10,207.48 156.60,207.37 157.10,207.26 157.60,207.14 158.10,207.02 158.60,206.90 159.10,206.78 159.60,206.66 160.10,206.53 160.60,206.40 161.10,206.27 161.60,206.14 162.10,206.01 162.60,205.88 163.10,205.74 163.60,205.61 164.10,205.48 164.60,205.34 165.10,205.21 165.60,205.07 166.10,204.94 166.60,204.80 167.10,204.67 167.60,204.54 168.10,204.40 168.60,204.27 169.10,204.14 169.60,204.00 170.10,203.86 170.60,203.72 171.10,203.57 171.60,203.42 172.10,203.27 172.60,203.12 173.10,202.97 173.60,202.81 174.10,202.65 174.60,202.49 175.10,202.33 175.60,202.17 176.10,202.01 176.60,201.84 177.10,201.68 177.60,201.51 178.10,201.35 178.60,201.18 179.10,201.01 179.60,200.85 180.10,200.68 180.60,200.51 181.10,200.34 181.60,200.18 182.10,200.01 182.60,199.84 183.10,199.67 183.60,199.51 184.10,199.34 184.60,199.18 185.10,199.01 185.60,198.85 186.10,198.69 186.60,198.53 187.10,198.36 187.60,198.20 188.10,198.04 188.60,197.87 189.10,197.70 189.60,197.54 190.10,197.36 190.60,197.19 191.10,197.02 191.60,196.84 192.10,196.66 192.60,196.48 193.10,196.29 193.60,196.10 194.10,195.91 194.60,195.72 195.10,195.52 195.60,195.31 196.10,195.11 196.60,194.89 197.10,194.68 197.60,194.46 198.10,194.23 198.60,194.00 199.10,193.76 199.60,193.52 200.10,193.27 200.60,193.01 201.10,192.74 201.60,192.47 202.10,192.19 202.60,191.90 203.10,191.61 203.60,191.30 204.10,190.99 204.60,190.66 205.10,190.33 205.60,189.99 206.10,189.63 206.60,189.27 207.10,188.89 207.60,188.50 208.10,188.10 208.60,187.69 209.10,187.26 209.60,186.83 210.10,186.37 210.60,185.90 211.10,185.42 211.60,184.92 212.10,184.41 212.60,183.88 213.10,183.33 213.60,182.76 214.10,182.17 214.60,181.57 215.10,180.95 215.60,180.31 216.10,179.65 216.60,178.97 217.10,178.27 217.60,177.56 218.10,176.82 218.60,176.07 219.10,175.30 219.60,174.52 220.10,173.72 220.60,172.91 221.10,172.08 221.60,171.25 222.10,170.41 222.60,169.57 223.10,168.73 223.60,167.90 224.10,167.07 224.60,166.25 225.10,165.45 225.60,164.67 226.10,163.92 226.60,163.20 227.10,162.52 227.60,161.88 228.10,161.29 228.60,160.76 229.10,160.28 229.60,159.87 230.10,159.52 230.60,159.25 231.10,159.05 231.60,158.92 232.10,158.86 232.60,158.86 233.10,158.91 233.60,159.01 234.10,159.16 234.60,159.35 235.10,159.60 235.60,159.89 236.10,160.22 236.60,160.59 237.10,160.99 237.60,161.43 238.10,161.91 238.60,162.41 239.10,162.94 239.60,163.49 240.10,164.06 240.60,164.65 241.10,165.25 241.60,165.87 242.10,166.50 242.60,167.13 243.10,167.77 243.60,168.41 244.10,169.06 244.60,169.71 245.10,170.35 245.60,170.99 246.10,171.63 246.60,172.26 247.10,172.89 247.60,173.51 248.10,174.12 248.60,174.72 249.10,175.31 249.60,175.89 250.10,176.45 250.60,177.01 251.10,177.55 251.60,178.07 252.10,178.58 252.60,179.08 253.10,179.57 253.60,180.04 254.10,180.49 254.60,180.94 255.10,181.36 255.60,181.78 256.10,182.18 256.60,182.56 257.10,182.93 257.60,183.29 258.10,183.64 258.60,183.97 259.10,184.29 259.60,184.60 260.10,184.89 260.60,185.17 261.10,185.45 261.60,185.71 262.10,185.96 262.60,186.19 263.10,186.42 263.60,186.64 264.10,186.85 264.60,187.05 265.10,187.25 265.60,187.43 266.10,187.61 266.60,187.78 267.10,187.94 267.60,188.09 268.10,188.24 268.60,188.37 269.10,188.50 269.60,188.62 270.10,188.74 270.60,188.85 271.10,188.95 271.60,189.05 272.10,189.15 272.60,189.23 273.10,189.32 273.60,189.40 274.10,189.47 274.60,189.54 275.10,189.61 275.60,189.67 276.10,189.73 276.60,189.79 277.10,189.85 277.60,189.90 278.10,189.95 278.60,190.00 279.10,190.05 279.60,190.10 280.10,190.14 280.60,190.19 281.10,190.23 281.60,190.27 282.10,190.32 282.60,190.36 283.10,190.40 283.60,190.44 284.10,190.48 284.60,190.52 285.10,190.56 285.60,190.60 286.10,190.64 286.60,190.68 287.10,190.71 287.60,190.75 288.10,190.78 288.60,190.82 289.10,190.85 289.60,190.88 290.10,190.91 290.60,190.95 291.10,190.98 291.60,191.00 292.10,191.03 292.60,191.06 293.10,191.09 293.60,191.11 294.10,191.14 294.60,191.17 295.10,191.19 295.60,191.21 296.10,191.24 296.60,191.26 297.10,191.28 297.60,191.30 298.10,191.32 298.60,191.34 299.10,191.36 299.60,191.38 300.10,191.40 300.60,191.42 301.10,191.43 301.60,191.45" stroke="#13a060" stroke-width="1.6"/><path d="M306.10,193.79 306.60,193.80 307.10,193.80 307.60,193.79 308.10,193.78 308.60,193.76 309.10,193.74 309.60,193.71 310.10,193.67 310.60,193.63 311.10,193.57 311.60,193.42 312.10,193.17 312.60,192.85 313.10,192.49 313.60,192.10 314.10,191.72 314.60,191.32 315.10,190.88 315.60,190.39 316.10,189.87 316.60,189.30 317.10,188.71 317.60,188.09 318.10,187.43 318.60,186.73 319.10,185.94 319.60,185.07 320.10,184.14 320.60,183.17 321.10,182.17 321.60,181.16 322.10,180.15 322.60,179.16 323.10,178.20 323.60,177.30 324.10,176.40 324.60,175.48 325.10,174.53 325.60,173.58 326.10,172.65 326.60,171.74 327.10,170.88 327.60,170.08 328.10,169.36 328.60,168.72 329.10,168.20 329.60,167.73 330.10,167.27 330.60,166.81 331.10,166.37 331.60,165.94 332.10,165.54 332.60,165.16 333.10,164.81 333.60,164.49 334.10,164.22 334.60,163.99 335.10,163.81 335.60,163.68 336.10,163.61 336.60,163.60 337.10,163.63 337.60,163.68 338.10,163.75 338.60,163.85 339.10,163.97 339.60,164.10 340.10,164.25 340.60,164.41 341.10,164.58 341.60,164.76 342.10,164.94 342.60,165.13 343.10,165.31 343.60,165.50 344.10,165.70 344.60,165.94 345.10,166.21 345.60,166.51 346.10,166.83 346.60,167.16 347.10,167.51 347.60,167.86 348.10,168.21 348.60,168.56 349.10,168.90 349.60,169.23 350.10,169.55 350.60,169.84 351.10,170.10 351.60,170.37 352.10,170.63 352.60,170.89 353.10,171.15 353.60,171.40 354.10,171.65 354.60,171.89 355.10,172.12 355.60,172.34 356.10,172.56 356.60,172.76 357.10,172.94 357.60,173.12 358.10,173.27 358.60,173.41 359.10,173.55 359.60,173.69 360.10,173.82 360.60,173.95 361.10,174.07 361.60,174.19 362.10,174.31 362.60,174.42 363.10,174.53 363.60,174.64 364.10,174.74 364.60,174.83 365.10,174.92 365.60,175.01 366.10,175.10 366.60,175.17 367.10,175.25 367.60,175.32 368.10,175.38 368.60,175.44 369.10,175.50 369.60,175.55 370.10,175.60 370.60,175.65 371.10,175.70 371.60,175.75 372.10,175.79 372.60,175.84 373.10,175.88 373.60,175.92 374.10,175.96 374.60,176.00 375.10,176.04 375.60,176.07 376.10,176.11 376.60,176.14 377.10,176.17 377.60,176.20 378.10,176.23 378.60,176.26 379.10,176.29 379.60,176.31 380.10,176.33 380.60,176.35 381.10,176.37 381.60,176.39 382.10,176.41 382.60,176.43 383.10,176.44 383.60,176.46 384.10,176.48 384.60,176.49 385.10,176.51 385.60,176.53 386.10,176.54 386.60,176.56 387.10,176.57 387.60,176.59 388.10,176.60 388.60,176.62 389.10,176.63 389.60,176.65 390.10,176.66 390.60,176.67 391.10,176.68 391.60,176.70 392.10,176.71 392.60,176.72 393.10,176.73 393.60,176.74 394.10,176.75 394.60,176.75 395.10,176.76 395.60,176.77 396.10,176.78 396.60,176.78 397.10,176.79 397.60,176.79 398.10,176.79 398.60,176.80 399.10,176.80 399.60,176.80 400.10,176.80 400.60,176.80 401.10,176.80 401.60,176.80 402.10,176.80 402.60,176.80 403.10,176.80 403.60,176.80 404.10,176.79 404.60,176.79 405.10,176.79 405.60,176.79 406.10,176.79 406.60,176.78 407.10,176.78 407.60,176.78 408.10,176.78 408.60,176.78 409.10,176.77 409.60,176.77 410.10,176.77 410.60,176.76 411.10,176.76 411.60,176.76 412.10,176.75 412.60,176.75 413.10,176.75 413.60,176.74 414.10,176.74 414.60,176.74 415.10,176.73 415.60,176.73 416.10,176.72 416.60,176.72 417.10,176.71 417.60,176.71 418.10,176.71 418.60,176.70 419.10,176.70 419.60,176.69 420.10,176.69 420.60,176.68 421.10,176.68 421.60,176.68 422.10,176.67 422.60,176.67 423.10,176.66 423.60,176.66 424.10,176.65 424.60,176.65 425.10,176.64 425.60,176.64 426.10,176.63 426.60,176.63 427.10,176.63 427.60,176.62 428.10,176.62 428.60,176.61 429.10,176.61 429.60,176.60 430.10,176.60 430.60,176.59 431.10,176.59 431.60,176.59 432.10,176.58 432.60,176.58 433.10,176.57 433.60,176.57 434.10,176.56 434.60,176.56 435.10,176.55 435.60,176.55 436.10,176.54 436.60,176.54 437.10,176.53 437.60,176.53 438.10,176.52 438.60,176.51 439.10,176.51 439.60,176.50 440.10,176.50 440.60,176.49 441.10,176.49 441.60,176.48 442.10,176.47 442.60,176.47 443.10,176.46 443.60,176.46 444.10,176.45 444.60,176.44 445.10,176.44 445.60,176.43 446.10,176.42 446.60,176.42 447.10,176.41 447.60,176.41 448.10,176.40" stroke="#b56ee6" stroke-width="1.6"/><path d="M374.10,182.37 374.60,182.27 375.10,182.15 375.60,182.04 376.10,181.92 376.60,181.80 377.10,181.68 377.60,181.55 378.10,181.41 378.60,181.27 379.10,181.13 379.60,180.98 380.10,180.82 380.60,180.67 381.10,180.50 381.60,180.33 382.10,180.15 382.60,179.97 383.10,179.78 383.60,179.59 384.10,179.39 384.60,179.19 385.10,178.97 385.60,178.76 386.10,178.53 386.60,178.30 387.10,178.07 387.60,177.83 388.10,177.58 388.60,177.33 389.10,177.07 389.60,176.81 390.10,176.54 390.60,176.27 391.10,176.00 391.60,175.72 392.10,175.44 392.60,175.16 393.10,174.87 393.60,174.58 394.10,174.29 394.60,174.00 395.10,173.72 395.60,173.43 396.10,173.14 396.60,172.86 397.10,172.57 397.60,172.29 398.10,172.02 398.60,171.75 399.10,171.48 399.60,171.22 400.10,170.97 400.60,170.72 401.10,170.48 401.60,170.25 402.10,170.03 402.60,169.81 403.10,169.61 403.60,169.41 404.10,169.23 404.60,169.05 405.10,168.89 405.60,168.74 406.10,168.61 406.60,168.48 407.10,168.37 407.60,168.27 408.10,168.19 408.60,168.12 409.10,168.06 409.60,168.03 410.10,168.01 410.60,168.01 411.10,168.03 411.60,168.06 412.10,168.12 412.60,168.18 413.10,168.27 413.60,168.37 414.10,168.48 414.60,168.61 415.10,168.75 415.60,168.90 416.10,169.06 416.60,169.23 417.10,169.41 417.60,169.60 418.10,169.79 418.60,169.99 419.10,170.19 419.60,170.40 420.10,170.61 420.60,170.82 421.10,171.03 421.60,171.24 422.10,171.45 422.60,171.66 423.10,171.87 423.60,172.07 424.10,172.27 424.60,172.46 425.10,172.65 425.60,172.83 426.10,173.01 426.60,173.18 427.10,173.35 427.60,173.50 428.10,173.66 428.60,173.80 429.10,173.94 429.60,174.07 430.10,174.19 430.60,174.31 431.10,174.42 431.60,174.52 432.10,174.62 432.60,174.71 433.10,174.80 433.60,174.90 434.10,174.99 434.60,175.08 435.10,175.16 435.60,175.24 436.10,175.31 436.60,175.38 437.10,175.44 437.60,175.50 438.10,175.55" stroke="#d9a21b" stroke-width="1.6"/><path d="M124.60,212.17 125.10,212.14 125.60,212.11 126.10,212.08 126.60,212.05 127.10,212.02 127.60,211.99 128.10,211.96 128.60,211.93 129.10,211.90 129.60,211.87 130.10,211.84 130.60,211.81 131.10,211.78 131.60,211.75 132.10,211.72 132.60,211.69 133.10,211.66 133.60,211.63 134.10,211.60 134.60,211.57 135.10,211.54 135.60,211.51 136.10,211.48 136.60,211.45 137.10,211.42 137.60,211.39 138.10,211.37 138.60,211.34 139.10,211.31 139.60,211.28 140.10,211.26 140.60,211.23 141.10,211.20 141.60,211.18 142.10,211.15 142.60,211.12 143.10,211.09 143.60,211.06 144.10,211.03 144.60,211.00 145.10,210.97 145.60,210.94 146.10,210.91 146.60,210.87 147.10,210.84 147.60,210.80 148.10,210.76 148.60,210.72 149.10,210.68 149.60,210.64 150.10,210.59 150.60,210.54 151.10,210.49 151.60,210.43 152.10,210.37 152.60,210.30 153.10,210.23 153.60,210.16 154.10,210.09 154.60,210.01 155.10,209.92 155.60,209.84 156.10,209.75 156.60,209.66 157.10,209.57 157.60,209.48 158.10,209.38 158.60,209.28 159.10,209.18 159.60,209.08 160.10,208.98 160.60,208.88 161.10,208.77 161.60,208.67 162.10,208.56 162.60,208.46 163.10,208.35 163.60,208.24 164.10,208.14 164.60,208.03 165.10,207.93 165.60,207.82 166.10,207.72 166.60,207.62 167.10,207.52 167.60,207.42 168.10,207.32 168.60,207.22 169.10,207.12 169.60,207.02 170.10,206.92 170.60,206.81 171.10,206.70 171.60,206.59 172.10,206.48 172.60,206.37 173.10,206.26 173.60,206.15 174.10,206.04 174.60,205.92 175.10,205.81 175.60,205.69 176.10,205.58 176.60,205.47 177.10,205.35 177.60,205.24 178.10,205.13 178.60,205.02 179.10,204.91 179.60,204.80 180.10,204.69 180.60,204.58 181.10,204.48 181.60,204.37 182.10,204.27 182.60,204.17 183.10,204.07 183.60,203.98 184.10,203.89 184.60,203.80 185.10,203.71 185.60,203.63 186.10,203.55 186.60,203.47 187.10,203.39 187.60,203.32 188.10,203.25 188.60,203.18 189.10,203.11 189.60,203.04 190.10,202.97 190.60,202.90 191.10,202.84 191.60,202.77 192.10,202.71 192.60,202.65 193.10,202.58 193.60,202.52 194.10,202.46 194.60,202.40 195.10,202.35 195.60,202.29 196.10,202.23 196.60,202.17 197.10,202.12 197.60,202.06 198.10,202.00 198.60,201.95 199.10,201.89 199.60,201.84 200.10,201.78 200.60,201.73 201.10,201.67 201.60,201.62 202.10,201.56 202.60,201.51 203.10,201.45 203.60,201.40 204.10,201.34 204.60,201.29 205.10,201.23 205.60,201.18 206.10,201.12 206.60,201.07 207.10,201.02 207.60,200.97 208.10,200.91 208.60,200.86 209.10,200.81 209.60,200.76 210.10,200.71 210.60,200.66 211.10,200.61 211.60,200.56 212.10,200.51 212.60,200.46 213.10,200.41 213.60,200.36 214.10,200.31 214.60,200.26 215.10,200.21 215.60,200.17 216.10,200.12 216.60,200.07 217.10,200.02 217.60,199.97 218.10,199.92 218.60,199.88 219.10,199.83 219.60,199.78 220.10,199.73 220.60,199.68 221.10,199.63 221.60,199.58 222.10,199.53 222.60,199.48 223.10,199.43 223.60,199.38 224.10,199.33 224.60,199.28 225.10,199.23 225.60,199.18 226.10,199.13 226.60,199.07 227.10,199.02 227.60,198.97 228.10,198.91 228.60,198.86 229.10,198.80 229.60,198.75 230.10,198.69 230.60,198.63 231.10,198.57 231.60,198.51 232.10,198.45 232.60,198.39 233.10,198.33 233.60,198.27 234.10,198.20 234.60,198.14 235.10,198.08 235.60,198.01 236.10,197.95 236.60,197.88 237.10,197.82 237.60,197.75 238.10,197.68 238.60,197.62 239.10,197.55 239.60,197.49 240.10,197.42 240.60,197.35 241.10,197.29 241.60,197.22 242.10,197.16 242.60,197.09 243.10,197.03 243.60,196.96 244.10,196.90 244.60,196.83 245.10,196.77 245.60,196.71 246.10,196.65 246.60,196.59 247.10,196.53 247.60,196.47 248.10,196.41 248.60,196.35 249.10,196.30 249.60,196.24 250.10,196.18 250.60,196.12 251.10,196.06 251.60,196.00 252.10,195.94 252.60,195.89 253.10,195.83 253.60,195.77 254.10,195.71 254.60,195.65 255.10,195.59 255.60,195.54 256.10,195.48 256.60,195.42 257.10,195.37 257.60,195.31 258.10,195.26 258.60,195.20 259.10,195.15 259.60,195.10 260.10,195.04 260.60,194.99 261.10,194.94 261.60,194.90 262.10,194.85 262.60,194.80 263.10,194.76 263.60,194.71 264.10,194.67 264.60,194.63 265.10,194.59 265.60,194.56 266.10,194.52 266.60,194.49 267.10,194.45 267.60,194.42 268.10,194.39 268.60,194.35 269.10,194.32 269.60,194.28 270.10,194.25 270.60,194.22 271.10,194.18 271.60,194.15 272.10,194.12 272.60,194.09 273.10,194.06 273.60,194.03 274.10,194.00 274.60,193.97 275.10,193.94 275.60,193.91 276.10,193.88 276.60,193.86 277.10,193.83 277.60,193.81 278.10,193.79 278.60,193.76 279.10,193.74 279.60,193.72 280.10,193.70 280.60,193.69 281.10,193.67 281.60,193.66 282.10,193.64 282.60,193.63 283.10,193.62 283.60,193.61 284.10,193.60 284.60,193.60 285.10,193.59 285.60,193.59 286.10,193.59 286.60,193.58 287.10,193.58 287.60,193.58 288.10,193.57 288.60,193.57 289.10,193.57 289.60,193.56 290.10,193.56 290.60,193.56 291.10,193.56 291.60,193.56 292.10,193.55 292.60,193.55 293.10,193.55 293.60,193.55 294.10,193.55 294.60,193.55 295.10,193.54 295.60,193.54 296.10,193.54 296.60,193.54 297.10,193.54 297.60,193.53 298.10,193.53 298.60,193.53 299.10,193.53 299.60,193.52 300.10,193.52 300.60,193.52 301.10,193.51 301.60,193.51 302.10,193.51 302.60,193.50 303.10,193.50 303.60,193.49 304.10,193.48 304.60,193.48 305.10,193.47 305.60,193.46 306.10,193.45 306.60,193.44 307.10,193.43 307.60,193.42 308.10,193.41 308.60,193.40 309.10,193.38 309.60,193.37 310.10,193.35 310.60,193.34 311.10,193.32 311.60,193.31 312.10,193.29 312.60,193.27 313.10,193.25 313.60,193.22 314.10,193.19 314.60,193.16 315.10,193.13 315.60,193.10 316.10,193.06 316.60,193.02 317.10,192.98 317.60,192.93 318.10,192.89 318.60,192.84 319.10,192.79 319.60,192.74 320.10,192.69 320.60,192.64 321.10,192.58 321.60,192.53 322.10,192.47 322.60,192.41 323.10,192.35 323.60,192.30 324.10,192.24 324.60,192.17 325.10,192.11 325.60,192.05 326.10,191.99 326.60,191.93 327.10,191.86 327.60,191.80 328.10,191.74 328.60,191.67 329.10,191.61 329.60,191.55 330.10,191.49 330.60,191.42 331.10,191.36 331.60,191.29 332.10,191.22 332.60,191.15 333.10,191.07 333.60,191.00 334.10,190.92 334.60,190.84 335.10,190.76 335.60,190.68 336.10,190.59 336.60,190.51 337.10,190.42 337.60,190.33 338.10,190.25 338.60,190.16 339.10,190.07 339.60,189.97 340.10,189.88 340.60,189.79 341.10,189.70 341.60,189.60 342.10,189.51 342.60,189.41 343.10,189.32 343.60,189.22 344.10,189.13 344.60,189.04 345.10,188.94 345.60,188.85 346.10,188.75 346.60,188.66 347.10,188.57 347.60,188.47 348.10,188.38 348.60,188.29 349.10,188.20 349.60,188.11 350.10,188.02 350.60,187.93 351.10,187.85 351.60,187.76 352.10,187.68 352.60,187.60 353.10,187.52 353.60,187.44 354.10,187.36 354.60,187.29 355.10,187.21 355.60,187.14 356.10,187.06 356.60,186.99 357.10,186.92 357.60,186.85 358.10,186.77 358.60,186.70 359.10,186.63 359.60,186.56 360.10,186.49 360.60,186.43 361.10,186.36 361.60,186.29 362.10,186.22 362.60,186.15 363.10,186.09 363.60,186.02 364.10,185.95 364.60,185.89 365.10,185.82 365.60,185.76 366.10,185.69 366.60,185.63 367.10,185.57 367.60,185.50 368.10,185.44 368.60,185.38 369.10,185.31 369.60,185.25 370.10,185.19 370.60,185.13 371.10,185.06 371.60,185.00 372.10,184.94 372.60,184.88 373.10,184.82 373.60,184.76 374.10,184.70 374.60,184.64 375.10,184.58 375.60,184.52 376.10,184.46 376.60,184.41 377.10,184.35 377.60,184.29 378.10,184.23 378.60,184.18 379.10,184.12 379.60,184.06 380.10,184.00 380.60,183.95 381.10,183.89 381.60,183.84 382.10,183.78 382.60,183.72 383.10,183.67 383.60,183.61 384.10,183.56 384.60,183.50 385.10,183.45 385.60,183.39 386.10,183.34 386.60,183.28 387.10,183.23 387.60,183.17 388.10,183.12 388.60,183.06 389.10,183.01 389.60,182.95 390.10,182.90 390.60,182.84 391.10,182.79 391.60,182.73 392.10,182.68 392.60,182.62 393.10,182.57 393.60,182.51 394.10,182.46 394.60,182.40 395.10,182.35 395.60,182.29 396.10,182.24 396.60,182.18 397.10,182.13 397.60,182.07 398.10,182.01 398.60,181.96 399.10,181.90 399.60,181.85 400.10,181.79 400.60,181.73 401.10,181.67 401.60,181.61 402.10,181.55 402.60,181.49 403.10,181.43 403.60,181.37 404.10,181.31 404.60,181.24 405.10,181.18 405.60,181.11 406.10,181.05 406.60,180.98 407.10,180.92 407.60,180.85 408.10,180.78 408.60,180.72 409.10,180.65 409.60,180.58 410.10,180.51 410.60,180.44 411.10,180.38 411.60,180.31 412.10,180.24 412.60,180.17 413.10,180.10 413.60,180.04 414.10,179.97 414.60,179.90 415.10,179.83 415.60,179.77 416.10,179.70 416.60,179.63 417.10,179.57 417.60,179.50 418.10,179.43 418.60,179.37 419.10,179.31 419.60,179.24 420.10,179.18 420.60,179.12 421.10,179.06 421.60,179.00 422.10,178.94 422.60,178.88 423.10,178.82 423.60,178.76 424.10,178.71 424.60,178.65 425.10,178.60 425.60,178.55 426.10,178.49 426.60,178.44 427.10,178.39 427.60,178.35 428.10,178.30 428.60,178.26 429.10,178.21 429.60,178.17 430.10,178.13 430.60,178.09 431.10,178.05 431.60,178.02 432.10,177.98 432.60,177.95 433.10,177.92 433.60,177.89 434.10,177.87 434.60,177.84 435.10,177.82 435.60,177.80 436.10,177.78 436.60,177.76 437.10,177.73 437.60,177.71 438.10,177.69 438.60,177.67 439.10,177.65 439.60,177.64 440.10,177.62 440.60,177.60 441.10,177.58 441.60,177.56 442.10,177.54 442.60,177.53 443.10,177.51 443.60,177.49 444.10,177.48 444.60,177.46 445.10,177.44 445.60,177.43 446.10,177.42 446.60,177.40 447.10,177.39 447.60,177.38 448.10,177.37" stroke="#1fc3c8" stroke-width="2.2"/></g><line x1="157.9" y1="36" x2="157.9" y2="170.5" stroke="#f21a1a" stroke-width="1.6" stroke-dasharray="1.6 2.3"/><line x1="159.5" y1="111.8" x2="186" y2="111.8" stroke="#f21a1a" stroke-width="2"/><polygon points="184.3,108.9 196.5,111.8 184.3,114.7" fill="#f21a1a"/><g stroke="#111" stroke-width="1.5" fill="none"><rect x="123.9" y="8.4" width="330.6" height="215.9"/><line x1="123.9" y1="116.3" x2="454.5" y2="116.3"/></g><path d="M217.8,224.3V220.0 M312.3,224.3V220.0 M406.8,224.3V220.0 M170.6,224.3V221.8 M265.1,224.3V221.8 M359.5,224.3V221.8" stroke="#111" stroke-width="1.2"/><text x="123.3" y="238.0" font-family="Liberation Serif" font-weight="bold" font-size="11" fill="#000" text-anchor="middle" >850</text><text x="217.8" y="238.0" font-family="Liberation Serif" font-weight="bold" font-size="11" fill="#000" text-anchor="middle" >860</text><text x="312.3" y="238.0" font-family="Liberation Serif" font-weight="bold" font-size="11" fill="#000" text-anchor="middle" >870</text><text x="406.8" y="238.0" font-family="Liberation Serif" font-weight="bold" font-size="11" fill="#000" text-anchor="middle" >880</text><text x="289" y="256.5" font-family="Liberation Serif" font-weight="bold" font-size="12" fill="#000" text-anchor="middle" >Binding energy/(eV)</text><text x="0" y="0" font-family="Liberation Serif" font-weight="bold" font-size="12" fill="#000" text-anchor="middle" transform="translate(114.2,63) rotate(-90)">Intensity(a.u.)</text><text x="0" y="0" font-family="Liberation Serif" font-weight="bold" font-size="12" fill="#000" text-anchor="middle" transform="translate(114,170) rotate(-90)">Intensity/(a.u.)</text><text x="87.6" y="22.8" font-family="Liberation Serif" font-weight="bold" font-size="24" fill="#000" text-anchor="start" >(a)</text><text x="124.4" y="21" font-family="Liberation Serif" font-weight="bold" font-size="12" fill="#000" text-anchor="start" >Ni 2p</text><text x="163.6" y="21" font-family="Liberation Serif" font-weight="bold" font-size="12" fill="#000" text-anchor="start" >Ni 2p<tspan font-size="8" dy="3.4">3/2</tspan></text><text x="220.0" y="48.4" font-family="Liberation Serif" font-weight="bold" font-size="12" fill="#000" text-anchor="start" >Sat.</text><text x="299.2" y="44.3" font-family="Liberation Serif" font-weight="bold" font-size="12" fill="#000" text-anchor="start" >Ni 2p<tspan font-size="8" dy="3.4">1/2</tspan></text><text x="375.0" y="46.3" font-family="Liberation Serif" font-weight="bold" font-size="12" fill="#000" text-anchor="start" >Sat.</text><text x="428.3" y="22.9" font-family="Liberation Serif" font-weight="bold" font-size="12" fill="#1212ee" text-anchor="start" >NiO</text><text x="186.2" y="129.3" font-family="Liberation Serif" font-weight="bold" font-size="11.6" fill="#ff0000" text-anchor="start" >0.59 eV</text><text x="405.7" y="130.6" font-family="Liberation Serif" font-weight="bold" font-size="12" fill="#f21a1a" text-anchor="start" >N-NiO-2</text><path d="M63.25,363.77 63.50,363.76 63.75,363.76 64.00,363.75 64.25,363.75 64.50,363.74 64.75,363.74 65.00,363.73 65.25,363.73 65.50,363.72 65.75,363.72 66.00,363.71 66.25,363.71 66.50,363.70 66.75,363.70 67.00,363.69 67.25,363.69 67.50,363.68 67.75,363.68 68.00,363.67 68.25,363.67 68.50,363.66 68.75,363.66 69.00,363.65 69.25,363.65 69.50,363.64 69.75,363.64 70.00,363.63 70.25,363.63 70.50,363.62 70.75,363.62 71.00,363.61 71.25,363.61 71.50,363.60 71.75,363.59 72.00,363.59 72.25,363.58 72.50,363.58 72.75,363.57 73.00,363.57 73.25,363.56 73.50,363.56 73.75,363.55 74.00,363.54 74.25,363.54 74.50,363.53 74.75,363.53 75.00,363.52 75.25,363.52 75.50,363.51 75.75,363.50 76.00,363.50 76.25,363.49 76.50,363.49 76.75,363.48 77.00,363.47 77.25,363.47 77.50,363.46 77.75,363.46 78.00,363.45 78.25,363.44 78.50,363.44 78.75,363.43 79.00,363.43 79.25,363.42 79.50,363.41 79.75,363.41 80.00,363.40 80.25,363.39 80.50,363.39 80.75,363.38 81.00,363.38 81.25,363.37 81.50,363.36 81.75,363.36 82.00,363.35 82.25,363.34 82.50,363.34 82.75,363.33 83.00,363.32 83.25,363.32 83.50,363.31 83.75,363.30 84.00,363.29 84.25,363.29 84.50,363.28 84.75,363.27 85.00,363.27 85.25,363.26 85.50,363.25 85.75,363.24 86.00,363.24 86.25,363.23 86.50,363.22 86.75,363.21 87.00,363.21 87.25,363.20 87.50,363.19 87.75,363.18 88.00,363.18 88.25,363.17 88.50,363.16 88.75,363.15 89.00,363.14 89.25,363.14 89.50,363.13 89.75,363.12 90.00,363.11 90.25,363.10 90.50,363.09 90.75,363.09 91.00,363.08 91.25,363.07 91.50,363.06 91.75,363.05 92.00,363.04 92.25,363.03 92.50,363.02 92.75,363.01 93.00,363.00 93.25,362.99 93.50,362.98 93.75,362.97 94.00,362.96 94.25,362.95 94.50,362.94 94.75,362.93 95.00,362.92 95.25,362.91 95.50,362.90 95.75,362.89 96.00,362.88 96.25,362.86 96.50,362.85 96.75,362.84 97.00,362.83 97.25,362.81 97.50,362.80 97.75,362.79 98.00,362.77 98.25,362.76 98.50,362.74 98.75,362.73 99.00,362.71 99.25,362.70 99.50,362.68 99.75,362.66 100.00,362.64 100.25,362.62 100.50,362.61 100.75,362.59 101.00,362.56 101.25,362.54 101.50,362.52 101.75,362.50 102.00,362.47 102.25,362.44 102.50,362.42 102.75,362.39 103.00,362.36 103.25,362.33 103.50,362.30 103.75,362.26 104.00,362.23 104.25,362.19 104.50,362.15 104.75,362.11 105.00,362.06 105.25,362.02 105.50,361.97 105.75,361.92 106.00,361.87 106.25,361.81 106.50,361.75 106.75,361.69 107.00,361.62 107.25,361.55 107.50,361.48 107.75,361.40 108.00,361.32 108.25,361.23 108.50,361.14 108.75,361.05 109.00,360.95 109.25,360.85 109.50,360.73 109.75,360.62 110.00,360.50 110.25,360.37 110.50,360.23 110.75,360.09 111.00,359.94 111.25,359.78 111.50,359.62 111.75,359.44 112.00,359.26 112.25,359.07 112.50,358.87 112.75,358.66 113.00,358.44 113.25,358.21 113.50,357.97 113.75,357.72 114.00,357.46 114.25,357.18 114.50,356.90 114.75,356.60 115.00,356.29 115.25,355.96 115.50,355.62 115.75,355.27 116.00,354.90 116.25,354.52 116.50,354.12 116.75,353.71 117.00,353.28 117.25,352.83 117.50,352.37 117.75,351.89 118.00,351.40 118.25,350.88 118.50,350.35 118.75,349.80 119.00,349.24 119.25,348.65 119.50,348.05 119.75,347.43 120.00,346.78 120.25,346.12 120.50,345.44 120.75,344.74 121.00,344.03 121.25,343.29 121.50,342.53 121.75,341.76 122.00,340.96 122.25,340.15 122.50,339.31 122.75,338.46 123.00,337.59 123.25,336.71 123.50,335.80 123.75,334.88 124.00,333.94 124.25,332.99 124.50,332.02 124.75,331.03 125.00,330.03 125.25,329.01 125.50,327.98 125.75,326.94 126.00,325.89 126.25,324.83 126.50,323.75 126.75,322.67 127.00,321.58 127.25,320.48 127.50,319.37 127.75,318.26 128.00,317.15 128.25,316.03 128.50,314.91 128.75,313.79 129.00,312.67 129.25,311.55 129.50,310.44 129.75,309.33 130.00,308.23 130.25,307.14 130.50,306.05 130.75,304.97 131.00,303.91 131.25,302.86 131.50,301.83 131.75,300.81 132.00,299.81 132.25,298.83 132.50,297.87 132.75,296.93 133.00,296.02 133.25,295.13 133.50,294.27 133.75,293.44 134.00,292.64 134.25,291.87 134.50,291.13 134.75,290.43 135.00,289.77 135.25,289.14 135.50,288.54 135.75,287.99 136.00,287.48 136.25,287.01 136.50,286.58 136.75,286.20 137.00,285.85 137.25,285.56 137.50,285.31 137.75,285.10 138.00,284.94 138.25,284.83 138.50,284.76 138.75,284.75 139.00,284.77 139.25,284.84 139.50,284.95 139.75,285.10 140.00,285.30 140.25,285.53 140.50,285.81 140.75,286.13 141.00,286.49 141.25,286.88 141.50,287.32 141.75,287.80 142.00,288.31 142.25,288.86 142.50,289.44 142.75,290.07 143.00,290.72 143.25,291.41 143.50,292.13 143.75,292.88 144.00,293.66 144.25,294.46 144.50,295.30 144.75,296.16 145.00,297.05 145.25,297.96 145.50,298.89 145.75,299.84 146.00,300.81 146.25,301.80 146.50,302.81 146.75,303.83 147.00,304.86 147.25,305.91 147.50,306.97 147.75,308.04 148.00,309.12 148.25,310.20 148.50,311.29 148.75,312.39 149.00,313.49 149.25,314.59 149.50,315.69 149.75,316.79 150.00,317.89 150.25,318.98 150.50,320.07 150.75,321.16 151.00,322.24 151.25,323.32 151.50,324.38 151.75,325.44 152.00,326.49 152.25,327.52 152.50,328.55 152.75,329.56 153.00,330.56 153.25,331.55 153.50,332.52 153.75,333.48 154.00,334.42 154.25,335.35 154.50,336.25 154.75,337.15 155.00,338.02 155.25,338.88 155.50,339.72 155.75,340.54 156.00,341.34 156.25,342.13 156.50,342.89 156.75,343.64 157.00,344.37 157.25,345.08 157.50,345.77 157.75,346.44 158.00,347.09 158.25,347.72 158.50,348.34 158.75,348.93 159.00,349.51 159.25,350.07 159.50,350.61 159.75,351.13 160.00,351.64 160.25,352.13 160.50,352.60 160.75,353.05 161.00,353.49 161.25,353.91 161.50,354.32 161.75,354.71 162.00,355.08 162.25,355.44 162.50,355.79 162.75,356.12 163.00,356.44 163.25,356.74 163.50,357.03 163.75,357.31 164.00,357.58 164.25,357.83 164.50,358.07 164.75,358.30 165.00,358.52 165.25,358.74 165.50,358.94 165.75,359.13 166.00,359.31 166.25,359.48 166.50,359.64 166.75,359.80 167.00,359.94 167.25,360.08 167.50,360.21 167.75,360.34 168.00,360.46 168.25,360.57 168.50,360.67 168.75,360.77 169.00,360.86 169.25,360.95 169.50,361.03 169.75,361.11 170.00,361.19 170.25,361.25 170.50,361.32 170.75,361.38 171.00,361.44 171.25,361.49 171.50,361.54 171.75,361.59 172.00,361.63 172.25,361.67 172.50,361.71 172.75,361.74 173.00,361.77 173.25,361.80 173.50,361.83 173.75,361.86 174.00,361.88 174.25,361.90 174.50,361.93 174.75,361.94 175.00,361.96 175.25,361.98 175.50,361.99 L175.50,362.20 175.25,362.21 175.00,362.21 174.75,362.21 174.50,362.21 174.25,362.22 174.00,362.22 173.75,362.22 173.50,362.23 173.25,362.23 173.00,362.23 172.75,362.24 172.50,362.24 172.25,362.24 172.00,362.24 171.75,362.25 171.50,362.25 171.25,362.25 171.00,362.26 170.75,362.26 170.50,362.26 170.25,362.27 170.00,362.27 169.75,362.27 169.50,362.27 169.25,362.28 169.00,362.28 168.75,362.28 168.50,362.29 168.25,362.29 168.00,362.29 167.75,362.30 167.50,362.30 167.25,362.30 167.00,362.31 166.75,362.31 166.50,362.31 166.25,362.32 166.00,362.32 165.75,362.32 165.50,362.33 165.25,362.33 165.00,362.33 164.75,362.34 164.50,362.34 164.25,362.34 164.00,362.35 163.75,362.35 163.50,362.35 163.25,362.36 163.00,362.36 162.75,362.36 162.50,362.37 162.25,362.37 162.00,362.37 161.75,362.38 161.50,362.38 161.25,362.38 161.00,362.39 160.75,362.39 160.50,362.39 160.25,362.40 160.00,362.40 159.75,362.40 159.50,362.41 159.25,362.41 159.00,362.41 158.75,362.42 158.50,362.42 158.25,362.43 158.00,362.43 157.75,362.43 157.50,362.44 157.25,362.44 157.00,362.44 156.75,362.45 156.50,362.45 156.25,362.45 156.00,362.46 155.75,362.46 155.50,362.47 155.25,362.47 155.00,362.47 154.75,362.48 154.50,362.48 154.25,362.49 154.00,362.49 153.75,362.49 153.50,362.50 153.25,362.50 153.00,362.50 152.75,362.51 152.50,362.51 152.25,362.52 152.00,362.52 151.75,362.52 151.50,362.53 151.25,362.53 151.00,362.54 150.75,362.54 150.50,362.54 150.25,362.55 150.00,362.55 149.75,362.56 149.50,362.56 149.25,362.57 149.00,362.57 148.75,362.57 148.50,362.58 148.25,362.58 148.00,362.59 147.75,362.59 147.50,362.59 147.25,362.60 147.00,362.60 146.75,362.61 146.50,362.61 146.25,362.62 146.00,362.62 145.75,362.62 145.50,362.63 145.25,362.63 145.00,362.64 144.75,362.64 144.50,362.64 144.25,362.65 144.00,362.65 143.75,362.66 143.50,362.66 143.25,362.67 143.00,362.67 142.75,362.67 142.50,362.68 142.25,362.68 142.00,362.69 141.75,362.69 141.50,362.70 141.25,362.70 141.00,362.71 140.75,362.71 140.50,362.71 140.25,362.72 140.00,362.72 139.75,362.73 139.50,362.73 139.25,362.74 139.00,362.74 138.75,362.75 138.50,362.75 138.25,362.75 138.00,362.76 137.75,362.76 137.50,362.77 137.25,362.77 137.00,362.78 136.75,362.78 136.50,362.79 136.25,362.79 136.00,362.79 135.75,362.80 135.50,362.80 135.25,362.81 135.00,362.81 134.75,362.82 134.50,362.82 134.25,362.83 134.00,362.83 133.75,362.83 133.50,362.84 133.25,362.84 133.00,362.85 132.75,362.85 132.50,362.86 132.25,362.86 132.00,362.87 131.75,362.87 131.50,362.88 131.25,362.88 131.00,362.88 130.75,362.89 130.50,362.89 130.25,362.90 130.00,362.90 129.75,362.91 129.50,362.91 129.25,362.92 129.00,362.92 128.75,362.93 128.50,362.93 128.25,362.93 128.00,362.94 127.75,362.94 127.50,362.95 127.25,362.95 127.00,362.96 126.75,362.96 126.50,362.97 126.25,362.97 126.00,362.98 125.75,362.98 125.50,362.99 125.25,362.99 125.00,362.99 124.75,363.00 124.50,363.00 124.25,363.01 124.00,363.01 123.75,363.02 123.50,363.02 123.25,363.03 123.00,363.03 122.75,363.04 122.50,363.04 122.25,363.04 122.00,363.05 121.75,363.05 121.50,363.06 121.25,363.06 121.00,363.07 120.75,363.07 120.50,363.08 120.25,363.08 120.00,363.08 119.75,363.09 119.50,363.09 119.25,363.10 119.00,363.10 118.75,363.11 118.50,363.11 118.25,363.12 118.00,363.12 117.75,363.13 117.50,363.13 117.25,363.13 117.00,363.14 116.75,363.14 116.50,363.15 116.25,363.15 116.00,363.16 115.75,363.16 115.50,363.17 115.25,363.17 115.00,363.17 114.75,363.18 114.50,363.18 114.25,363.19 114.00,363.19 113.75,363.20 113.50,363.20 113.25,363.20 113.00,363.21 112.75,363.21 112.50,363.22 112.25,363.22 112.00,363.23 111.75,363.23 111.50,363.24 111.25,363.24 111.00,363.24 110.75,363.25 110.50,363.25 110.25,363.26 110.00,363.26 109.75,363.27 109.50,363.27 109.25,363.27 109.00,363.28 108.75,363.28 108.50,363.29 108.25,363.29 108.00,363.29 107.75,363.30 107.50,363.30 107.25,363.31 107.00,363.31 106.75,363.32 106.50,363.32 106.25,363.32 106.00,363.33 105.75,363.33 105.50,363.34 105.25,363.34 105.00,363.34 104.75,363.35 104.50,363.35 104.25,363.36 104.00,363.36 103.75,363.36 103.50,363.37 103.25,363.37 103.00,363.38 102.75,363.38 102.50,363.38 102.25,363.39 102.00,363.39 101.75,363.40 101.50,363.40 101.25,363.40 101.00,363.41 100.75,363.41 100.50,363.42 100.25,363.42 100.00,363.42 99.75,363.43 99.50,363.43 99.25,363.43 99.00,363.44 98.75,363.44 98.50,363.45 98.25,363.45 98.00,363.45 97.75,363.46 97.50,363.46 97.25,363.47 97.00,363.47 96.75,363.47 96.50,363.48 96.25,363.48 96.00,363.49 95.75,363.49 95.50,363.49 95.25,363.50 95.00,363.50 94.75,363.50 94.50,363.51 94.25,363.51 94.00,363.52 93.75,363.52 93.50,363.52 93.25,363.53 93.00,363.53 92.75,363.54 92.50,363.54 92.25,363.54 92.00,363.55 91.75,363.55 91.50,363.55 91.25,363.56 91.00,363.56 90.75,363.57 90.50,363.57 90.25,363.57 90.00,363.58 89.75,363.58 89.50,363.58 89.25,363.59 89.00,363.59 88.75,363.60 88.50,363.60 88.25,363.60 88.00,363.61 87.75,363.61 87.50,363.61 87.25,363.62 87.00,363.62 86.75,363.63 86.50,363.63 86.25,363.63 86.00,363.64 85.75,363.64 85.50,363.64 85.25,363.65 85.00,363.65 84.75,363.66 84.50,363.66 84.25,363.66 84.00,363.67 83.75,363.67 83.50,363.67 83.25,363.68 83.00,363.68 82.75,363.69 82.50,363.69 82.25,363.69 82.00,363.70 81.75,363.70 81.50,363.70 81.25,363.71 81.00,363.71 80.75,363.72 80.50,363.72 80.25,363.72 80.00,363.73 79.75,363.73 79.50,363.73 79.25,363.74 79.00,363.74 78.75,363.75 78.50,363.75 78.25,363.75 78.00,363.76 77.75,363.76 77.50,363.76 77.25,363.77 77.00,363.77 76.75,363.77 76.50,363.78 76.25,363.78 76.00,363.79 75.75,363.79 75.50,363.79 75.25,363.80 75.00,363.80 74.75,363.80 74.50,363.81 74.25,363.81 74.00,363.81 73.75,363.82 73.50,363.82 73.25,363.83 73.00,363.83 72.75,363.83 72.50,363.84 72.25,363.84 72.00,363.84 71.75,363.85 71.50,363.85 71.25,363.85 71.00,363.86 70.75,363.86 70.50,363.86 70.25,363.87 70.00,363.87 69.75,363.88 69.50,363.88 69.25,363.88 69.00,363.89 68.75,363.89 68.50,363.89 68.25,363.90 68.00,363.90 67.75,363.90 67.50,363.91 67.25,363.91 67.00,363.92 66.75,363.92 66.50,363.92 66.25,363.93 66.00,363.93 65.75,363.93 65.50,363.94 65.25,363.94 65.00,363.94 64.75,363.95 64.50,363.95 64.25,363.95 64.00,363.96 63.75,363.96 63.50,363.96 63.25,363.97Z" fill="url(#gO1)" stroke="#5a50e0" stroke-width="0.6"/><path d="M107.25,363.11 107.50,363.10 107.75,363.10 108.00,363.09 108.25,363.08 108.50,363.08 108.75,363.07 109.00,363.07 109.25,363.06 109.50,363.06 109.75,363.05 110.00,363.04 110.25,363.04 110.50,363.03 110.75,363.03 111.00,363.02 111.25,363.01 111.50,363.01 111.75,363.00 112.00,363.00 112.25,362.99 112.50,362.98 112.75,362.98 113.00,362.97 113.25,362.97 113.50,362.96 113.75,362.95 114.00,362.95 114.25,362.94 114.50,362.94 114.75,362.93 115.00,362.92 115.25,362.92 115.50,362.91 115.75,362.90 116.00,362.90 116.25,362.89 116.50,362.88 116.75,362.88 117.00,362.87 117.25,362.86 117.50,362.86 117.75,362.85 118.00,362.84 118.25,362.84 118.50,362.83 118.75,362.82 119.00,362.82 119.25,362.81 119.50,362.80 119.75,362.80 120.00,362.79 120.25,362.78 120.50,362.78 120.75,362.77 121.00,362.76 121.25,362.76 121.50,362.75 121.75,362.74 122.00,362.73 122.25,362.73 122.50,362.72 122.75,362.71 123.00,362.70 123.25,362.70 123.50,362.69 123.75,362.68 124.00,362.67 124.25,362.67 124.50,362.66 124.75,362.65 125.00,362.64 125.25,362.64 125.50,362.63 125.75,362.62 126.00,362.61 126.25,362.61 126.50,362.60 126.75,362.59 127.00,362.58 127.25,362.57 127.50,362.57 127.75,362.56 128.00,362.55 128.25,362.54 128.50,362.53 128.75,362.52 129.00,362.51 129.25,362.51 129.50,362.50 129.75,362.49 130.00,362.48 130.25,362.47 130.50,362.46 130.75,362.45 131.00,362.44 131.25,362.44 131.50,362.43 131.75,362.42 132.00,362.41 132.25,362.40 132.50,362.39 132.75,362.38 133.00,362.37 133.25,362.36 133.50,362.35 133.75,362.34 134.00,362.33 134.25,362.32 134.50,362.31 134.75,362.30 135.00,362.29 135.25,362.28 135.50,362.27 135.75,362.25 136.00,362.24 136.25,362.23 136.50,362.22 136.75,362.21 137.00,362.20 137.25,362.18 137.50,362.17 137.75,362.16 138.00,362.15 138.25,362.13 138.50,362.12 138.75,362.11 139.00,362.09 139.25,362.08 139.50,362.06 139.75,362.05 140.00,362.04 140.25,362.02 140.50,362.00 140.75,361.99 141.00,361.97 141.25,361.95 141.50,361.94 141.75,361.92 142.00,361.90 142.25,361.88 142.50,361.86 142.75,361.84 143.00,361.82 143.25,361.80 143.50,361.78 143.75,361.76 144.00,361.73 144.25,361.71 144.50,361.68 144.75,361.66 145.00,361.63 145.25,361.60 145.50,361.58 145.75,361.55 146.00,361.52 146.25,361.49 146.50,361.45 146.75,361.42 147.00,361.39 147.25,361.35 147.50,361.31 147.75,361.27 148.00,361.23 148.25,361.19 148.50,361.15 148.75,361.10 149.00,361.06 149.25,361.01 149.50,360.96 149.75,360.91 150.00,360.85 150.25,360.80 150.50,360.74 150.75,360.68 151.00,360.62 151.25,360.56 151.50,360.49 151.75,360.42 152.00,360.35 152.25,360.28 152.50,360.20 152.75,360.12 153.00,360.04 153.25,359.96 153.50,359.87 153.75,359.78 154.00,359.68 154.25,359.59 154.50,359.49 154.75,359.38 155.00,359.28 155.25,359.17 155.50,359.06 155.75,358.94 156.00,358.82 156.25,358.70 156.50,358.57 156.75,358.44 157.00,358.30 157.25,358.16 157.50,358.02 157.75,357.88 158.00,357.72 158.25,357.57 158.50,357.41 158.75,357.25 159.00,357.08 159.25,356.91 159.50,356.74 159.75,356.56 160.00,356.38 160.25,356.19 160.50,356.00 160.75,355.81 161.00,355.61 161.25,355.40 161.50,355.20 161.75,354.99 162.00,354.77 162.25,354.55 162.50,354.33 162.75,354.11 163.00,353.88 163.25,353.65 163.50,353.41 163.75,353.17 164.00,352.93 164.25,352.68 164.50,352.44 164.75,352.18 165.00,351.93 165.25,351.68 165.50,351.42 165.75,351.16 166.00,350.90 166.25,350.63 166.50,350.37 166.75,350.10 167.00,349.83 167.25,349.57 167.50,349.30 167.75,349.03 168.00,348.76 168.25,348.49 168.50,348.22 168.75,347.96 169.00,347.69 169.25,347.42 169.50,347.16 169.75,346.90 170.00,346.64 170.25,346.39 170.50,346.13 170.75,345.88 171.00,345.64 171.25,345.40 171.50,345.16 171.75,344.93 172.00,344.70 172.25,344.48 172.50,344.26 172.75,344.06 173.00,343.85 173.25,343.66 173.50,343.47 173.75,343.29 174.00,343.12 174.25,342.96 174.50,342.81 174.75,342.67 175.00,342.53 175.25,342.41 175.50,342.30 175.75,342.19 176.00,342.10 176.25,342.02 176.50,341.95 176.75,341.89 177.00,341.85 177.25,341.81 177.50,341.79 177.75,341.78 178.00,341.78 178.25,341.79 178.50,341.82 178.75,341.85 179.00,341.90 179.25,341.96 179.50,342.03 179.75,342.11 180.00,342.20 180.25,342.31 180.50,342.42 180.75,342.54 181.00,342.68 181.25,342.82 181.50,342.97 181.75,343.13 182.00,343.30 182.25,343.48 182.50,343.67 182.75,343.86 183.00,344.06 183.25,344.27 183.50,344.48 183.75,344.70 184.00,344.92 184.25,345.15 184.50,345.39 184.75,345.63 185.00,345.87 185.25,346.11 185.50,346.36 185.75,346.61 186.00,346.87 186.25,347.13 186.50,347.38 186.75,347.64 187.00,347.91 187.25,348.17 187.50,348.43 187.75,348.69 188.00,348.96 188.25,349.22 188.50,349.48 188.75,349.74 189.00,350.00 189.25,350.26 189.50,350.52 189.75,350.78 190.00,351.03 190.25,351.28 190.50,351.54 190.75,351.78 191.00,352.03 191.25,352.27 191.50,352.51 191.75,352.75 192.00,352.98 192.25,353.21 192.50,353.44 192.75,353.67 193.00,353.89 193.25,354.10 193.50,354.32 193.75,354.53 194.00,354.73 194.25,354.94 194.50,355.13 194.75,355.33 195.00,355.52 195.25,355.70 195.50,355.89 195.75,356.06 196.00,356.24 196.25,356.41 196.50,356.57 196.75,356.73 197.00,356.89 197.25,357.05 197.50,357.20 197.75,357.34 198.00,357.48 198.25,357.62 198.50,357.75 198.75,357.88 199.00,358.01 199.25,358.13 199.50,358.25 199.75,358.36 200.00,358.48 200.25,358.58 200.50,358.69 200.75,358.79 201.00,358.89 201.25,358.98 201.50,359.07 201.75,359.16 202.00,359.24 202.25,359.33 202.50,359.40 202.75,359.48 203.00,359.55 203.25,359.62 203.50,359.69 203.75,359.76 204.00,359.82 204.25,359.88 204.50,359.94 204.75,359.99 205.00,360.05 205.25,360.10 205.50,360.15 205.75,360.19 206.00,360.24 206.25,360.28 206.50,360.32 206.75,360.36 207.00,360.40 207.25,360.44 207.50,360.47 207.75,360.51 208.00,360.54 208.25,360.57 208.50,360.60 208.75,360.63 209.00,360.65 209.25,360.68 209.50,360.70 209.75,360.73 210.00,360.75 210.25,360.77 210.50,360.79 210.75,360.81 211.00,360.83 211.25,360.84 211.50,360.86 211.75,360.88 212.00,360.89 212.25,360.91 212.50,360.92 212.75,360.93 213.00,360.95 213.25,360.96 213.50,360.97 213.75,360.98 214.00,360.99 214.25,361.00 214.50,361.01 214.75,361.02 215.00,361.03 215.25,361.04 215.50,361.04 215.75,361.05 216.00,361.06 216.25,361.06 216.50,361.07 216.75,361.08 217.00,361.08 217.25,361.09 217.50,361.09 217.75,361.10 218.00,361.10 218.25,361.11 218.50,361.11 218.75,361.11 219.00,361.12 219.25,361.12 219.50,361.12 219.75,361.13 220.00,361.13 220.25,361.13 220.50,361.14 220.75,361.14 221.00,361.14 221.25,361.14 221.50,361.14 221.75,361.15 222.00,361.15 222.25,361.15 222.50,361.15 222.75,361.15 223.00,361.15 223.25,361.16 223.50,361.16 223.75,361.16 224.00,361.16 224.25,361.16 224.50,361.16 224.75,361.16 225.00,361.16 225.25,361.16 225.50,361.16 225.75,361.16 226.00,361.16 226.25,361.16 226.50,361.16 226.75,361.16 227.00,361.16 227.25,361.16 227.50,361.16 227.75,361.16 228.00,361.16 228.25,361.16 228.50,361.16 228.75,361.16 229.00,361.16 229.25,361.16 229.50,361.16 229.75,361.16 230.00,361.16 230.25,361.16 230.50,361.15 230.75,361.15 231.00,361.15 231.25,361.15 231.50,361.15 231.75,361.15 232.00,361.15 232.25,361.15 232.50,361.15 232.75,361.14 233.00,361.14 233.25,361.14 233.50,361.14 233.75,361.14 234.00,361.14 234.25,361.13 234.50,361.13 234.75,361.13 235.00,361.13 235.25,361.13 235.50,361.13 235.75,361.12 236.00,361.12 236.25,361.12 236.50,361.12 236.75,361.12 237.00,361.11 237.25,361.11 237.50,361.11 237.75,361.11 238.00,361.11 238.25,361.10 238.50,361.10 238.75,361.10 239.00,361.10 239.25,361.09 239.50,361.09 239.75,361.09 240.00,361.09 240.25,361.08 240.50,361.08 240.75,361.08 241.00,361.08 241.25,361.07 241.50,361.07 241.75,361.07 242.00,361.07 242.25,361.06 242.50,361.06 242.75,361.06 243.00,361.05 243.25,361.05 243.50,361.05 243.75,361.05 244.00,361.04 244.25,361.04 244.50,361.04 244.75,361.03 245.00,361.03 245.25,361.03 245.50,361.03 245.75,361.02 246.00,361.02 246.25,361.02 246.50,361.01 246.75,361.01 247.00,361.01 247.25,361.00 247.50,361.00 247.75,361.00 248.00,360.99 248.25,360.99 248.50,360.99 L248.50,361.19 248.25,361.19 248.00,361.20 247.75,361.20 247.50,361.21 247.25,361.21 247.00,361.22 246.75,361.22 246.50,361.22 246.25,361.23 246.00,361.23 245.75,361.24 245.50,361.24 245.25,361.25 245.00,361.25 244.75,361.26 244.50,361.26 244.25,361.27 244.00,361.27 243.75,361.28 243.50,361.28 243.25,361.28 243.00,361.29 242.75,361.29 242.50,361.30 242.25,361.30 242.00,361.31 241.75,361.31 241.50,361.32 241.25,361.32 241.00,361.33 240.75,361.33 240.50,361.33 240.25,361.34 240.00,361.34 239.75,361.35 239.50,361.35 239.25,361.36 239.00,361.36 238.75,361.37 238.50,361.37 238.25,361.37 238.00,361.38 237.75,361.38 237.50,361.39 237.25,361.39 237.00,361.40 236.75,361.40 236.50,361.40 236.25,361.41 236.00,361.41 235.75,361.42 235.50,361.42 235.25,361.43 235.00,361.43 234.75,361.43 234.50,361.44 234.25,361.44 234.00,361.45 233.75,361.45 233.50,361.46 233.25,361.46 233.00,361.46 232.75,361.47 232.50,361.47 232.25,361.48 232.00,361.48 231.75,361.49 231.50,361.49 231.25,361.49 231.00,361.50 230.75,361.50 230.50,361.51 230.25,361.51 230.00,361.51 229.75,361.52 229.50,361.52 229.25,361.53 229.00,361.53 228.75,361.53 228.50,361.54 228.25,361.54 228.00,361.55 227.75,361.55 227.50,361.55 227.25,361.56 227.00,361.56 226.75,361.57 226.50,361.57 226.25,361.57 226.00,361.58 225.75,361.58 225.50,361.59 225.25,361.59 225.00,361.59 224.75,361.60 224.50,361.60 224.25,361.61 224.00,361.61 223.75,361.61 223.50,361.62 223.25,361.62 223.00,361.63 222.75,361.63 222.50,361.63 222.25,361.64 222.00,361.64 221.75,361.64 221.50,361.65 221.25,361.65 221.00,361.66 220.75,361.66 220.50,361.66 220.25,361.67 220.00,361.67 219.75,361.67 219.50,361.68 219.25,361.68 219.00,361.69 218.75,361.69 218.50,361.69 218.25,361.70 218.00,361.70 217.75,361.70 217.50,361.71 217.25,361.71 217.00,361.71 216.75,361.72 216.50,361.72 216.25,361.73 216.00,361.73 215.75,361.73 215.50,361.74 215.25,361.74 215.00,361.74 214.75,361.75 214.50,361.75 214.25,361.75 214.00,361.76 213.75,361.76 213.50,361.76 213.25,361.77 213.00,361.77 212.75,361.77 212.50,361.78 212.25,361.78 212.00,361.78 211.75,361.79 211.50,361.79 211.25,361.79 211.00,361.80 210.75,361.80 210.50,361.80 210.25,361.81 210.00,361.81 209.75,361.81 209.50,361.82 209.25,361.82 209.00,361.82 208.75,361.83 208.50,361.83 208.25,361.83 208.00,361.83 207.75,361.84 207.50,361.84 207.25,361.84 207.00,361.85 206.75,361.85 206.50,361.85 206.25,361.86 206.00,361.86 205.75,361.86 205.50,361.87 205.25,361.87 205.00,361.87 204.75,361.87 204.50,361.88 204.25,361.88 204.00,361.88 203.75,361.89 203.50,361.89 203.25,361.89 203.00,361.90 202.75,361.90 202.50,361.90 202.25,361.90 202.00,361.91 201.75,361.91 201.50,361.91 201.25,361.92 201.00,361.92 200.75,361.92 200.50,361.92 200.25,361.93 200.00,361.93 199.75,361.93 199.50,361.94 199.25,361.94 199.00,361.94 198.75,361.94 198.50,361.95 198.25,361.95 198.00,361.95 197.75,361.96 197.50,361.96 197.25,361.96 197.00,361.96 196.75,361.97 196.50,361.97 196.25,361.97 196.00,361.98 195.75,361.98 195.50,361.98 195.25,361.98 195.00,361.99 194.75,361.99 194.50,361.99 194.25,362.00 194.00,362.00 193.75,362.00 193.50,362.00 193.25,362.01 193.00,362.01 192.75,362.01 192.50,362.01 192.25,362.02 192.00,362.02 191.75,362.02 191.50,362.03 191.25,362.03 191.00,362.03 190.75,362.03 190.50,362.04 190.25,362.04 190.00,362.04 189.75,362.04 189.50,362.05 189.25,362.05 189.00,362.05 188.75,362.06 188.50,362.06 188.25,362.06 188.00,362.06 187.75,362.07 187.50,362.07 187.25,362.07 187.00,362.07 186.75,362.08 186.50,362.08 186.25,362.08 186.00,362.09 185.75,362.09 185.50,362.09 185.25,362.09 185.00,362.10 184.75,362.10 184.50,362.10 184.25,362.10 184.00,362.11 183.75,362.11 183.50,362.11 183.25,362.12 183.00,362.12 182.75,362.12 182.50,362.12 182.25,362.13 182.00,362.13 181.75,362.13 181.50,362.14 181.25,362.14 181.00,362.14 180.75,362.14 180.50,362.15 180.25,362.15 180.00,362.15 179.75,362.15 179.50,362.16 179.25,362.16 179.00,362.16 178.75,362.17 178.50,362.17 178.25,362.17 178.00,362.17 177.75,362.18 177.50,362.18 177.25,362.18 177.00,362.19 176.75,362.19 176.50,362.19 176.25,362.19 176.00,362.20 175.75,362.20 175.50,362.20 175.25,362.21 175.00,362.21 174.75,362.21 174.50,362.21 174.25,362.22 174.00,362.22 173.75,362.22 173.50,362.23 173.25,362.23 173.00,362.23 172.75,362.24 172.50,362.24 172.25,362.24 172.00,362.24 171.75,362.25 171.50,362.25 171.25,362.25 171.00,362.26 170.75,362.26 170.50,362.26 170.25,362.27 170.00,362.27 169.75,362.27 169.50,362.27 169.25,362.28 169.00,362.28 168.75,362.28 168.50,362.29 168.25,362.29 168.00,362.29 167.75,362.30 167.50,362.30 167.25,362.30 167.00,362.31 166.75,362.31 166.50,362.31 166.25,362.32 166.00,362.32 165.75,362.32 165.50,362.33 165.25,362.33 165.00,362.33 164.75,362.34 164.50,362.34 164.25,362.34 164.00,362.35 163.75,362.35 163.50,362.35 163.25,362.36 163.00,362.36 162.75,362.36 162.50,362.37 162.25,362.37 162.00,362.37 161.75,362.38 161.50,362.38 161.25,362.38 161.00,362.39 160.75,362.39 160.50,362.39 160.25,362.40 160.00,362.40 159.75,362.40 159.50,362.41 159.25,362.41 159.00,362.41 158.75,362.42 158.50,362.42 158.25,362.43 158.00,362.43 157.75,362.43 157.50,362.44 157.25,362.44 157.00,362.44 156.75,362.45 156.50,362.45 156.25,362.45 156.00,362.46 155.75,362.46 155.50,362.47 155.25,362.47 155.00,362.47 154.75,362.48 154.50,362.48 154.25,362.49 154.00,362.49 153.75,362.49 153.50,362.50 153.25,362.50 153.00,362.50 152.75,362.51 152.50,362.51 152.25,362.52 152.00,362.52 151.75,362.52 151.50,362.53 151.25,362.53 151.00,362.54 150.75,362.54 150.50,362.54 150.25,362.55 150.00,362.55 149.75,362.56 149.50,362.56 149.25,362.57 149.00,362.57 148.75,362.57 148.50,362.58 148.25,362.58 148.00,362.59 147.75,362.59 147.50,362.59 147.25,362.60 147.00,362.60 146.75,362.61 146.50,362.61 146.25,362.62 146.00,362.62 145.75,362.62 145.50,362.63 145.25,362.63 145.00,362.64 144.75,362.64 144.50,362.64 144.25,362.65 144.00,362.65 143.75,362.66 143.50,362.66 143.25,362.67 143.00,362.67 142.75,362.67 142.50,362.68 142.25,362.68 142.00,362.69 141.75,362.69 141.50,362.70 141.25,362.70 141.00,362.71 140.75,362.71 140.50,362.71 140.25,362.72 140.00,362.72 139.75,362.73 139.50,362.73 139.25,362.74 139.00,362.74 138.75,362.75 138.50,362.75 138.25,362.75 138.00,362.76 137.75,362.76 137.50,362.77 137.25,362.77 137.00,362.78 136.75,362.78 136.50,362.79 136.25,362.79 136.00,362.79 135.75,362.80 135.50,362.80 135.25,362.81 135.00,362.81 134.75,362.82 134.50,362.82 134.25,362.83 134.00,362.83 133.75,362.83 133.50,362.84 133.25,362.84 133.00,362.85 132.75,362.85 132.50,362.86 132.25,362.86 132.00,362.87 131.75,362.87 131.50,362.88 131.25,362.88 131.00,362.88 130.75,362.89 130.50,362.89 130.25,362.90 130.00,362.90 129.75,362.91 129.50,362.91 129.25,362.92 129.00,362.92 128.75,362.93 128.50,362.93 128.25,362.93 128.00,362.94 127.75,362.94 127.50,362.95 127.25,362.95 127.00,362.96 126.75,362.96 126.50,362.97 126.25,362.97 126.00,362.98 125.75,362.98 125.50,362.99 125.25,362.99 125.00,362.99 124.75,363.00 124.50,363.00 124.25,363.01 124.00,363.01 123.75,363.02 123.50,363.02 123.25,363.03 123.00,363.03 122.75,363.04 122.50,363.04 122.25,363.04 122.00,363.05 121.75,363.05 121.50,363.06 121.25,363.06 121.00,363.07 120.75,363.07 120.50,363.08 120.25,363.08 120.00,363.08 119.75,363.09 119.50,363.09 119.25,363.10 119.00,363.10 118.75,363.11 118.50,363.11 118.25,363.12 118.00,363.12 117.75,363.13 117.50,363.13 117.25,363.13 117.00,363.14 116.75,363.14 116.50,363.15 116.25,363.15 116.00,363.16 115.75,363.16 115.50,363.17 115.25,363.17 115.00,363.17 114.75,363.18 114.50,363.18 114.25,363.19 114.00,363.19 113.75,363.20 113.50,363.20 113.25,363.20 113.00,363.21 112.75,363.21 112.50,363.22 112.25,363.22 112.00,363.23 111.75,363.23 111.50,363.24 111.25,363.24 111.00,363.24 110.75,363.25 110.50,363.25 110.25,363.26 110.00,363.26 109.75,363.27 109.50,363.27 109.25,363.27 109.00,363.28 108.75,363.28 108.50,363.29 108.25,363.29 108.00,363.29 107.75,363.30 107.50,363.30 107.25,363.31Z" fill="url(#gO2)" stroke="#f0607a" stroke-width="0.7"/><path d="M150.75,362.34 151.00,362.33 151.25,362.31 151.50,362.30 151.75,362.29 152.00,362.28 152.25,362.26 152.50,362.25 152.75,362.24 153.00,362.22 153.25,362.21 153.50,362.19 153.75,362.18 154.00,362.16 154.25,362.15 154.50,362.13 154.75,362.12 155.00,362.10 155.25,362.08 155.50,362.06 155.75,362.05 156.00,362.03 156.25,362.01 156.50,361.99 156.75,361.97 157.00,361.95 157.25,361.93 157.50,361.91 157.75,361.89 158.00,361.87 158.25,361.85 158.50,361.83 158.75,361.81 159.00,361.79 159.25,361.76 159.50,361.74 159.75,361.71 160.00,361.69 160.25,361.67 160.50,361.64 160.75,361.61 161.00,361.59 161.25,361.56 161.50,361.53 161.75,361.51 162.00,361.48 162.25,361.45 162.50,361.42 162.75,361.39 163.00,361.36 163.25,361.33 163.50,361.30 163.75,361.27 164.00,361.23 164.25,361.20 164.50,361.17 164.75,361.13 165.00,361.10 165.25,361.06 165.50,361.03 165.75,360.99 166.00,360.96 166.25,360.92 166.50,360.88 166.75,360.84 167.00,360.81 167.25,360.77 167.50,360.73 167.75,360.69 168.00,360.65 168.25,360.61 168.50,360.56 168.75,360.52 169.00,360.48 169.25,360.44 169.50,360.39 169.75,360.35 170.00,360.31 170.25,360.26 170.50,360.22 170.75,360.17 171.00,360.12 171.25,360.08 171.50,360.03 171.75,359.98 172.00,359.94 172.25,359.89 172.50,359.84 172.75,359.79 173.00,359.74 173.25,359.69 173.50,359.64 173.75,359.59 174.00,359.54 174.25,359.49 174.50,359.44 174.75,359.39 175.00,359.34 175.25,359.29 175.50,359.24 175.75,359.19 176.00,359.14 176.25,359.08 176.50,359.03 176.75,358.98 177.00,358.93 177.25,358.88 177.50,358.82 177.75,358.77 178.00,358.72 178.25,358.67 178.50,358.62 178.75,358.57 179.00,358.51 179.25,358.46 179.50,358.41 179.75,358.36 180.00,358.31 180.25,358.26 180.50,358.21 180.75,358.16 181.00,358.11 181.25,358.06 181.50,358.01 181.75,357.96 182.00,357.91 182.25,357.87 182.50,357.82 182.75,357.77 183.00,357.73 183.25,357.68 183.50,357.63 183.75,357.59 184.00,357.55 184.25,357.50 184.50,357.46 184.75,357.42 185.00,357.38 185.25,357.34 185.50,357.30 185.75,357.26 186.00,357.22 186.25,357.18 186.50,357.14 186.75,357.11 187.00,357.07 187.25,357.04 187.50,357.00 187.75,356.97 188.00,356.94 188.25,356.91 188.50,356.88 188.75,356.85 189.00,356.82 189.25,356.80 189.50,356.77 189.75,356.75 190.00,356.72 190.25,356.70 190.50,356.68 190.75,356.66 191.00,356.64 191.25,356.62 191.50,356.60 191.75,356.59 192.00,356.57 192.25,356.56 192.50,356.55 192.75,356.54 193.00,356.53 193.25,356.52 193.50,356.51 193.75,356.50 194.00,356.50 194.25,356.50 194.50,356.49 194.75,356.49 195.00,356.49 195.25,356.49 195.50,356.49 195.75,356.50 196.00,356.50 196.25,356.51 196.50,356.51 196.75,356.52 197.00,356.53 197.25,356.54 197.50,356.55 197.75,356.56 198.00,356.57 198.25,356.59 198.50,356.61 198.75,356.62 199.00,356.64 199.25,356.66 199.50,356.68 199.75,356.70 200.00,356.72 200.25,356.74 200.50,356.77 200.75,356.79 201.00,356.82 201.25,356.84 201.50,356.87 201.75,356.90 202.00,356.93 202.25,356.96 202.50,356.99 202.75,357.02 203.00,357.06 203.25,357.09 203.50,357.12 203.75,357.16 204.00,357.19 204.25,357.23 204.50,357.27 204.75,357.30 205.00,357.34 205.25,357.38 205.50,357.42 205.75,357.46 206.00,357.50 206.25,357.54 206.50,357.58 206.75,357.63 207.00,357.67 207.25,357.71 207.50,357.75 207.75,357.80 208.00,357.84 208.25,357.88 208.50,357.93 208.75,357.97 209.00,358.02 209.25,358.06 209.50,358.11 209.75,358.15 210.00,358.20 210.25,358.24 210.50,358.29 210.75,358.34 211.00,358.38 211.25,358.43 211.50,358.47 211.75,358.52 212.00,358.56 212.25,358.61 212.50,358.66 212.75,358.70 213.00,358.75 213.25,358.79 213.50,358.84 213.75,358.88 214.00,358.93 214.25,358.97 214.50,359.02 214.75,359.06 215.00,359.10 215.25,359.15 215.50,359.19 215.75,359.23 216.00,359.27 216.25,359.32 216.50,359.36 216.75,359.40 217.00,359.44 217.25,359.48 217.50,359.52 217.75,359.56 218.00,359.60 218.25,359.64 218.50,359.68 218.75,359.72 219.00,359.75 219.25,359.79 219.50,359.83 219.75,359.87 220.00,359.90 220.25,359.94 220.50,359.97 220.75,360.00 221.00,360.04 221.25,360.07 221.50,360.10 221.75,360.14 222.00,360.17 222.25,360.20 222.50,360.23 222.75,360.26 223.00,360.29 223.25,360.32 223.50,360.35 223.75,360.37 224.00,360.40 224.25,360.43 224.50,360.46 224.75,360.48 225.00,360.51 225.25,360.53 225.50,360.55 225.75,360.58 226.00,360.60 226.25,360.62 226.50,360.65 226.75,360.67 227.00,360.69 227.25,360.71 227.50,360.73 227.75,360.75 228.00,360.77 228.25,360.79 228.50,360.80 228.75,360.82 229.00,360.84 229.25,360.85 229.50,360.87 229.75,360.89 230.00,360.90 230.25,360.91 230.50,360.93 230.75,360.94 231.00,360.96 231.25,360.97 231.50,360.98 231.75,360.99 232.00,361.00 232.25,361.02 232.50,361.03 232.75,361.04 233.00,361.05 233.25,361.06 233.50,361.07 233.75,361.07 234.00,361.08 234.25,361.09 234.50,361.10 234.75,361.11 235.00,361.11 235.25,361.12 235.50,361.13 235.75,361.13 236.00,361.14 236.25,361.14 236.50,361.15 236.75,361.15 237.00,361.16 237.25,361.16 237.50,361.17 237.75,361.17 238.00,361.17 L238.00,361.38 237.75,361.38 237.50,361.39 237.25,361.39 237.00,361.40 236.75,361.40 236.50,361.40 236.25,361.41 236.00,361.41 235.75,361.42 235.50,361.42 235.25,361.43 235.00,361.43 234.75,361.43 234.50,361.44 234.25,361.44 234.00,361.45 233.75,361.45 233.50,361.46 233.25,361.46 233.00,361.46 232.75,361.47 232.50,361.47 232.25,361.48 232.00,361.48 231.75,361.49 231.50,361.49 231.25,361.49 231.00,361.50 230.75,361.50 230.50,361.51 230.25,361.51 230.00,361.51 229.75,361.52 229.50,361.52 229.25,361.53 229.00,361.53 228.75,361.53 228.50,361.54 228.25,361.54 228.00,361.55 227.75,361.55 227.50,361.55 227.25,361.56 227.00,361.56 226.75,361.57 226.50,361.57 226.25,361.57 226.00,361.58 225.75,361.58 225.50,361.59 225.25,361.59 225.00,361.59 224.75,361.60 224.50,361.60 224.25,361.61 224.00,361.61 223.75,361.61 223.50,361.62 223.25,361.62 223.00,361.63 222.75,361.63 222.50,361.63 222.25,361.64 222.00,361.64 221.75,361.64 221.50,361.65 221.25,361.65 221.00,361.66 220.75,361.66 220.50,361.66 220.25,361.67 220.00,361.67 219.75,361.67 219.50,361.68 219.25,361.68 219.00,361.69 218.75,361.69 218.50,361.69 218.25,361.70 218.00,361.70 217.75,361.70 217.50,361.71 217.25,361.71 217.00,361.71 216.75,361.72 216.50,361.72 216.25,361.73 216.00,361.73 215.75,361.73 215.50,361.74 215.25,361.74 215.00,361.74 214.75,361.75 214.50,361.75 214.25,361.75 214.00,361.76 213.75,361.76 213.50,361.76 213.25,361.77 213.00,361.77 212.75,361.77 212.50,361.78 212.25,361.78 212.00,361.78 211.75,361.79 211.50,361.79 211.25,361.79 211.00,361.80 210.75,361.80 210.50,361.80 210.25,361.81 210.00,361.81 209.75,361.81 209.50,361.82 209.25,361.82 209.00,361.82 208.75,361.83 208.50,361.83 208.25,361.83 208.00,361.83 207.75,361.84 207.50,361.84 207.25,361.84 207.00,361.85 206.75,361.85 206.50,361.85 206.25,361.86 206.00,361.86 205.75,361.86 205.50,361.87 205.25,361.87 205.00,361.87 204.75,361.87 204.50,361.88 204.25,361.88 204.00,361.88 203.75,361.89 203.50,361.89 203.25,361.89 203.00,361.90 202.75,361.90 202.50,361.90 202.25,361.90 202.00,361.91 201.75,361.91 201.50,361.91 201.25,361.92 201.00,361.92 200.75,361.92 200.50,361.92 200.25,361.93 200.00,361.93 199.75,361.93 199.50,361.94 199.25,361.94 199.00,361.94 198.75,361.94 198.50,361.95 198.25,361.95 198.00,361.95 197.75,361.96 197.50,361.96 197.25,361.96 197.00,361.96 196.75,361.97 196.50,361.97 196.25,361.97 196.00,361.98 195.75,361.98 195.50,361.98 195.25,361.98 195.00,361.99 194.75,361.99 194.50,361.99 194.25,362.00 194.00,362.00 193.75,362.00 193.50,362.00 193.25,362.01 193.00,362.01 192.75,362.01 192.50,362.01 192.25,362.02 192.00,362.02 191.75,362.02 191.50,362.03 191.25,362.03 191.00,362.03 190.75,362.03 190.50,362.04 190.25,362.04 190.00,362.04 189.75,362.04 189.50,362.05 189.25,362.05 189.00,362.05 188.75,362.06 188.50,362.06 188.25,362.06 188.00,362.06 187.75,362.07 187.50,362.07 187.25,362.07 187.00,362.07 186.75,362.08 186.50,362.08 186.25,362.08 186.00,362.09 185.75,362.09 185.50,362.09 185.25,362.09 185.00,362.10 184.75,362.10 184.50,362.10 184.25,362.10 184.00,362.11 183.75,362.11 183.50,362.11 183.25,362.12 183.00,362.12 182.75,362.12 182.50,362.12 182.25,362.13 182.00,362.13 181.75,362.13 181.50,362.14 181.25,362.14 181.00,362.14 180.75,362.14 180.50,362.15 180.25,362.15 180.00,362.15 179.75,362.15 179.50,362.16 179.25,362.16 179.00,362.16 178.75,362.17 178.50,362.17 178.25,362.17 178.00,362.17 177.75,362.18 177.50,362.18 177.25,362.18 177.00,362.19 176.75,362.19 176.50,362.19 176.25,362.19 176.00,362.20 175.75,362.20 175.50,362.20 175.25,362.21 175.00,362.21 174.75,362.21 174.50,362.21 174.25,362.22 174.00,362.22 173.75,362.22 173.50,362.23 173.25,362.23 173.00,362.23 172.75,362.24 172.50,362.24 172.25,362.24 172.00,362.24 171.75,362.25 171.50,362.25 171.25,362.25 171.00,362.26 170.75,362.26 170.50,362.26 170.25,362.27 170.00,362.27 169.75,362.27 169.50,362.27 169.25,362.28 169.00,362.28 168.75,362.28 168.50,362.29 168.25,362.29 168.00,362.29 167.75,362.30 167.50,362.30 167.25,362.30 167.00,362.31 166.75,362.31 166.50,362.31 166.25,362.32 166.00,362.32 165.75,362.32 165.50,362.33 165.25,362.33 165.00,362.33 164.75,362.34 164.50,362.34 164.25,362.34 164.00,362.35 163.75,362.35 163.50,362.35 163.25,362.36 163.00,362.36 162.75,362.36 162.50,362.37 162.25,362.37 162.00,362.37 161.75,362.38 161.50,362.38 161.25,362.38 161.00,362.39 160.75,362.39 160.50,362.39 160.25,362.40 160.00,362.40 159.75,362.40 159.50,362.41 159.25,362.41 159.00,362.41 158.75,362.42 158.50,362.42 158.25,362.43 158.00,362.43 157.75,362.43 157.50,362.44 157.25,362.44 157.00,362.44 156.75,362.45 156.50,362.45 156.25,362.45 156.00,362.46 155.75,362.46 155.50,362.47 155.25,362.47 155.00,362.47 154.75,362.48 154.50,362.48 154.25,362.49 154.00,362.49 153.75,362.49 153.50,362.50 153.25,362.50 153.00,362.50 152.75,362.51 152.50,362.51 152.25,362.52 152.00,362.52 151.75,362.52 151.50,362.53 151.25,362.53 151.00,362.54 150.75,362.54Z" fill="url(#gO3)"/><path d="M104.25,363.36 104.50,363.35 104.75,363.35 105.00,363.34 105.25,363.34 105.50,363.34 105.75,363.33 106.00,363.33 106.25,363.32 106.50,363.32 106.75,363.32 107.00,363.31 107.25,363.31 107.50,363.30 107.75,363.30 108.00,363.29 108.25,363.29 108.50,363.29 108.75,363.28 109.00,363.28 109.25,363.27 109.50,363.27 109.75,363.27 110.00,363.26 110.25,363.26 110.50,363.25 110.75,363.25 111.00,363.24 111.25,363.24 111.50,363.24 111.75,363.23 112.00,363.23 112.25,363.22 112.50,363.22 112.75,363.21 113.00,363.21 113.25,363.20 113.50,363.20 113.75,363.20 114.00,363.19 114.25,363.19 114.50,363.18 114.75,363.18 115.00,363.17 115.25,363.17 115.50,363.17 115.75,363.16 116.00,363.16 116.25,363.15 116.50,363.15 116.75,363.14 117.00,363.14 117.25,363.13 117.50,363.13 117.75,363.13 118.00,363.12 118.25,363.12 118.50,363.11 118.75,363.11 119.00,363.10 119.25,363.10 119.50,363.09 119.75,363.09 120.00,363.08 120.25,363.08 120.50,363.08 120.75,363.07 121.00,363.07 121.25,363.06 121.50,363.06 121.75,363.05 122.00,363.05 122.25,363.04 122.50,363.04 122.75,363.04 123.00,363.03 123.25,363.03 123.50,363.02 123.75,363.02 124.00,363.01 124.25,363.01 124.50,363.00 124.75,363.00 125.00,362.99 125.25,362.99 125.50,362.99 125.75,362.98 126.00,362.98 126.25,362.97 126.50,362.97 126.75,362.96 127.00,362.96 127.25,362.95 127.50,362.95 127.75,362.94 128.00,362.94 128.25,362.93 128.50,362.93 128.75,362.93 129.00,362.92 129.25,362.92 129.50,362.91 129.75,362.91 130.00,362.90 130.25,362.90 130.50,362.89 130.75,362.89 131.00,362.88 131.25,362.88 131.50,362.88 131.75,362.87 132.00,362.87 132.25,362.86 132.50,362.86 132.75,362.85 133.00,362.85 133.25,362.84 133.50,362.84 133.75,362.83 134.00,362.83 134.25,362.83 134.50,362.82 134.75,362.82 135.00,362.81 135.25,362.81 135.50,362.80 135.75,362.80 136.00,362.79 136.25,362.79 136.50,362.79 136.75,362.78 137.00,362.78 137.25,362.77 137.50,362.77 137.75,362.76 138.00,362.76 138.25,362.75 138.50,362.75 138.75,362.75 139.00,362.74 139.25,362.74 139.50,362.73 139.75,362.73 140.00,362.72 140.25,362.72 140.50,362.71 140.75,362.71 141.00,362.71 141.25,362.70 141.50,362.70 141.75,362.69 142.00,362.69 142.25,362.68 142.50,362.68 142.75,362.67 143.00,362.67 143.25,362.67 143.50,362.66 143.75,362.66 144.00,362.65 144.25,362.65 144.50,362.64 144.75,362.64 145.00,362.64 145.25,362.63 145.50,362.63 145.75,362.62 146.00,362.62 146.25,362.62 146.50,362.61 146.75,362.61 147.00,362.60 147.25,362.60 147.50,362.59 147.75,362.59 148.00,362.59 148.25,362.58 148.50,362.58 148.75,362.57 149.00,362.57 149.25,362.57 149.50,362.56 149.75,362.56 150.00,362.55 150.25,362.55 150.50,362.54 150.75,362.54 151.00,362.54 151.25,362.53 151.50,362.53 151.75,362.52 152.00,362.52 152.25,362.52 152.50,362.51 152.75,362.51 153.00,362.50 153.25,362.50 153.50,362.50 153.75,362.49 154.00,362.49 154.25,362.49 154.50,362.48 154.75,362.48 155.00,362.47 155.25,362.47 155.50,362.47 155.75,362.46 156.00,362.46 156.25,362.45 156.50,362.45 156.75,362.45 157.00,362.44 157.25,362.44 157.50,362.44 157.75,362.43 158.00,362.43 158.25,362.43 158.50,362.42 158.75,362.42 159.00,362.41 159.25,362.41 159.50,362.41 159.75,362.40 160.00,362.40 160.25,362.40 160.50,362.39 160.75,362.39 161.00,362.39 161.25,362.38 161.50,362.38 161.75,362.38 162.00,362.37 162.25,362.37 162.50,362.37 162.75,362.36 163.00,362.36 163.25,362.36 163.50,362.35 163.75,362.35 164.00,362.35 164.25,362.34 164.50,362.34 164.75,362.34 165.00,362.33 165.25,362.33 165.50,362.33 165.75,362.32 166.00,362.32 166.25,362.32 166.50,362.31 166.75,362.31 167.00,362.31 167.25,362.30 167.50,362.30 167.75,362.30 168.00,362.29 168.25,362.29 168.50,362.29 168.75,362.28 169.00,362.28 169.25,362.28 169.50,362.27 169.75,362.27 170.00,362.27 170.25,362.27 170.50,362.26 170.75,362.26 171.00,362.26 171.25,362.25 171.50,362.25 171.75,362.25 172.00,362.24 172.25,362.24 172.50,362.24 172.75,362.24 173.00,362.23 173.25,362.23 173.50,362.23 173.75,362.22 174.00,362.22 174.25,362.22 174.50,362.21 174.75,362.21 175.00,362.21 175.25,362.21 175.50,362.20 175.75,362.20 176.00,362.20 176.25,362.19 176.50,362.19 176.75,362.19 177.00,362.19 177.25,362.18 177.50,362.18 177.75,362.18 178.00,362.17 178.25,362.17 178.50,362.17 178.75,362.17 179.00,362.16 179.25,362.16 179.50,362.16 179.75,362.15 180.00,362.15 180.25,362.15 180.50,362.15 180.75,362.14 181.00,362.14 181.25,362.14 181.50,362.14 181.75,362.13 182.00,362.13 182.25,362.13 182.50,362.12 182.75,362.12 183.00,362.12 183.25,362.12 183.50,362.11 183.75,362.11 184.00,362.11 184.25,362.10 184.50,362.10 184.75,362.10 185.00,362.10 185.25,362.09 185.50,362.09 185.75,362.09 186.00,362.09 186.25,362.08 186.50,362.08 186.75,362.08 187.00,362.07 187.25,362.07 187.50,362.07 187.75,362.07 188.00,362.06 188.25,362.06 188.50,362.06 188.75,362.06 189.00,362.05 189.25,362.05 189.50,362.05 189.75,362.04 190.00,362.04 190.25,362.04 190.50,362.04 190.75,362.03 191.00,362.03 191.25,362.03 191.50,362.03 191.75,362.02 192.00,362.02 192.25,362.02 192.50,362.01 192.75,362.01 193.00,362.01 193.25,362.01 193.50,362.00 193.75,362.00 194.00,362.00 194.25,362.00 194.50,361.99 194.75,361.99 195.00,361.99 195.25,361.98 195.50,361.98 195.75,361.98 196.00,361.98 196.25,361.97 196.50,361.97 196.75,361.97 197.00,361.96 197.25,361.96 197.50,361.96 197.75,361.96 198.00,361.95 198.25,361.95 198.50,361.95 198.75,361.94 199.00,361.94 199.25,361.94 199.50,361.94 199.75,361.93 200.00,361.93 200.25,361.93 200.50,361.92 200.75,361.92 201.00,361.92 201.25,361.92 201.50,361.91 201.75,361.91 202.00,361.91 202.25,361.90 202.50,361.90 202.75,361.90 203.00,361.90 203.25,361.89 203.50,361.89 203.75,361.89 204.00,361.88 204.25,361.88 204.50,361.88 204.75,361.87 205.00,361.87 205.25,361.87 205.50,361.87 205.75,361.86 206.00,361.86 206.25,361.86 206.50,361.85 206.75,361.85 207.00,361.85 207.25,361.84 207.50,361.84 207.75,361.84 208.00,361.83 208.25,361.83 208.50,361.83 208.75,361.83 209.00,361.82 209.25,361.82 209.50,361.82 209.75,361.81 210.00,361.81 210.25,361.81 210.50,361.80 210.75,361.80 211.00,361.80 211.25,361.79 211.50,361.79 211.75,361.79 212.00,361.78 212.25,361.78 212.50,361.78 212.75,361.77 213.00,361.77 213.25,361.77 213.50,361.76 213.75,361.76 214.00,361.76 214.25,361.75 214.50,361.75 214.75,361.75 215.00,361.74 215.25,361.74 215.50,361.74 215.75,361.73 216.00,361.73 216.25,361.73 216.50,361.72 216.75,361.72 217.00,361.71 217.25,361.71 217.50,361.71 217.75,361.70 218.00,361.70 218.25,361.70 218.50,361.69 218.75,361.69 219.00,361.69 219.25,361.68 219.50,361.68 219.75,361.67 220.00,361.67 220.25,361.67 220.50,361.66 220.75,361.66 221.00,361.66 221.25,361.65 221.50,361.65 221.75,361.64 222.00,361.64 222.25,361.64 222.50,361.63 222.75,361.63 223.00,361.63 223.25,361.62 223.50,361.62 223.75,361.61 224.00,361.61 224.25,361.61 224.50,361.60 224.75,361.60 225.00,361.59 225.25,361.59 225.50,361.59 225.75,361.58 226.00,361.58 226.25,361.57 226.50,361.57 226.75,361.57 227.00,361.56 227.25,361.56 227.50,361.55 227.75,361.55 228.00,361.55 228.25,361.54 228.50,361.54 228.75,361.53 229.00,361.53 229.25,361.53 229.50,361.52 229.75,361.52 230.00,361.51 230.25,361.51 230.50,361.51 230.75,361.50 231.00,361.50 231.25,361.49 231.50,361.49 231.75,361.49 232.00,361.48 232.25,361.48 232.50,361.47 232.75,361.47 233.00,361.46 233.25,361.46 233.50,361.46 233.75,361.45 234.00,361.45 234.25,361.44 234.50,361.44 234.75,361.43 235.00,361.43 235.25,361.43 235.50,361.42 235.75,361.42 236.00,361.41 236.25,361.41 236.50,361.40 236.75,361.40 237.00,361.40 237.25,361.39 237.50,361.39 237.75,361.38 238.00,361.38 238.25,361.37 238.50,361.37 238.75,361.37 239.00,361.36 239.25,361.36 239.50,361.35 239.75,361.35 240.00,361.34 240.25,361.34 240.50,361.33 240.75,361.33 241.00,361.33 241.25,361.32 241.50,361.32 241.75,361.31 242.00,361.31 242.25,361.30 242.50,361.30 242.75,361.29 243.00,361.29 243.25,361.28 243.50,361.28 243.75,361.28 244.00,361.27 244.25,361.27 244.50,361.26 244.75,361.26 245.00,361.25 245.25,361.25 245.50,361.24 245.75,361.24 246.00,361.23 246.25,361.23 246.50,361.22 246.75,361.22 247.00,361.22 247.25,361.21 247.50,361.21 247.75,361.20 248.00,361.20 248.25,361.19 248.50,361.19 248.75,361.18 249.00,361.18 249.25,361.17 249.50,361.17 249.75,361.16 250.00,361.16 250.25,361.15 250.50,361.15 250.75,361.14 251.00,361.14 251.25,361.13 251.50,361.13 251.75,361.13" fill="none" stroke="#e545c8" stroke-width="1.3"/><g fill="#bcbcf8" stroke="#4646e8" stroke-width="1.3"><circle cx="40.60" cy="364.19" r="1.7"/><circle cx="42.70" cy="363.77" r="1.7"/><circle cx="44.80" cy="364.44" r="1.7"/><circle cx="46.90" cy="364.53" r="1.7"/><circle cx="49.00" cy="364.08" r="1.7"/><circle cx="51.10" cy="364.70" r="1.7"/><circle cx="53.20" cy="364.47" r="1.7"/><circle cx="55.30" cy="364.58" r="1.7"/><circle cx="57.40" cy="364.14" r="1.7"/><circle cx="59.50" cy="363.77" r="1.7"/><circle cx="61.60" cy="364.65" r="1.7"/><circle cx="63.70" cy="364.57" r="1.7"/><circle cx="65.80" cy="364.30" r="1.7"/><circle cx="67.90" cy="364.17" r="1.7"/><circle cx="70.00" cy="364.20" r="1.7"/><circle cx="72.10" cy="364.23" r="1.7"/><circle cx="74.20" cy="364.08" r="1.7"/><circle cx="76.30" cy="363.53" r="1.7"/><circle cx="78.40" cy="364.49" r="1.7"/><circle cx="80.50" cy="363.66" r="1.7"/><circle cx="82.60" cy="364.04" r="1.7"/><circle cx="84.70" cy="364.02" r="1.7"/><circle cx="86.80" cy="364.17" r="1.7"/><circle cx="88.90" cy="363.47" r="1.7"/><circle cx="91.00" cy="364.40" r="1.7"/><circle cx="93.10" cy="364.15" r="1.7"/><circle cx="95.20" cy="364.08" r="1.7"/><circle cx="97.30" cy="364.02" r="1.7"/><circle cx="99.40" cy="362.97" r="1.7"/><circle cx="101.50" cy="361.80" r="1.7"/><circle cx="103.60" cy="362.62" r="1.7"/><circle cx="105.70" cy="362.49" r="1.7"/><circle cx="107.80" cy="361.85" r="1.7"/><circle cx="109.90" cy="360.48" r="1.7"/><circle cx="112.00" cy="359.48" r="1.7"/><circle cx="114.10" cy="358.02" r="1.7"/><circle cx="116.20" cy="354.89" r="1.7"/><circle cx="118.30" cy="352.05" r="1.7"/><circle cx="120.40" cy="347.61" r="1.7"/><circle cx="122.50" cy="342.40" r="1.7"/><circle cx="124.60" cy="334.69" r="1.7"/><circle cx="126.70" cy="326.53" r="1.7"/><circle cx="128.80" cy="316.94" r="1.7"/><circle cx="130.90" cy="307.71" r="1.7"/><circle cx="133.00" cy="299.05" r="1.7"/><circle cx="135.10" cy="290.63" r="1.7"/><circle cx="137.20" cy="286.86" r="1.7"/><circle cx="139.30" cy="285.36" r="1.7"/><circle cx="141.40" cy="286.91" r="1.7"/><circle cx="143.50" cy="293.61" r="1.7"/><circle cx="145.60" cy="303.14" r="1.7"/><circle cx="147.70" cy="310.09" r="1.7"/><circle cx="149.80" cy="317.28" r="1.7"/><circle cx="151.90" cy="326.23" r="1.7"/><circle cx="154.00" cy="332.98" r="1.7"/><circle cx="156.10" cy="338.25" r="1.7"/><circle cx="158.20" cy="341.12" r="1.7"/><circle cx="160.30" cy="342.75" r="1.7"/><circle cx="162.40" cy="343.29" r="1.7"/><circle cx="164.50" cy="342.33" r="1.7"/><circle cx="166.60" cy="341.30" r="1.7"/><circle cx="168.70" cy="339.87" r="1.7"/><circle cx="170.80" cy="337.70" r="1.7"/><circle cx="172.90" cy="338.13" r="1.7"/><circle cx="175.00" cy="337.42" r="1.7"/><circle cx="177.10" cy="337.18" r="1.7"/><circle cx="179.20" cy="337.32" r="1.7"/><circle cx="181.30" cy="337.96" r="1.7"/><circle cx="183.40" cy="339.07" r="1.7"/><circle cx="185.50" cy="340.74" r="1.7"/><circle cx="187.60" cy="341.81" r="1.7"/><circle cx="189.70" cy="343.55" r="1.7"/><circle cx="191.80" cy="345.46" r="1.7"/><circle cx="193.90" cy="347.67" r="1.7"/><circle cx="196.00" cy="348.82" r="1.7"/><circle cx="198.10" cy="350.31" r="1.7"/><circle cx="200.20" cy="352.18" r="1.7"/><circle cx="202.30" cy="352.85" r="1.7"/><circle cx="204.40" cy="354.29" r="1.7"/><circle cx="206.50" cy="354.66" r="1.7"/><circle cx="208.60" cy="356.00" r="1.7"/><circle cx="210.70" cy="356.72" r="1.7"/><circle cx="212.80" cy="357.46" r="1.7"/><circle cx="214.90" cy="357.86" r="1.7"/><circle cx="217.00" cy="358.15" r="1.7"/><circle cx="219.10" cy="358.77" r="1.7"/><circle cx="221.20" cy="359.03" r="1.7"/><circle cx="223.30" cy="359.84" r="1.7"/><circle cx="225.40" cy="360.05" r="1.7"/><circle cx="227.50" cy="359.53" r="1.7"/><circle cx="229.60" cy="360.36" r="1.7"/><circle cx="231.70" cy="360.14" r="1.7"/><circle cx="233.80" cy="360.61" r="1.7"/><circle cx="235.90" cy="360.40" r="1.7"/><circle cx="238.00" cy="360.16" r="1.7"/><circle cx="240.10" cy="361.13" r="1.7"/><circle cx="242.20" cy="361.02" r="1.7"/><circle cx="244.30" cy="360.51" r="1.7"/><circle cx="246.40" cy="360.34" r="1.7"/><circle cx="248.50" cy="360.87" r="1.7"/><circle cx="250.60" cy="360.70" r="1.7"/><circle cx="252.70" cy="361.04" r="1.7"/><circle cx="254.80" cy="361.43" r="1.7"/><circle cx="256.90" cy="361.77" r="1.7"/><circle cx="259.00" cy="361.17" r="1.7"/><circle cx="261.10" cy="361.82" r="1.7"/><circle cx="263.20" cy="361.77" r="1.7"/><circle cx="265.30" cy="361.23" r="1.7"/></g><path d="M87.00,449.50 87.25,449.49 87.50,449.49 87.75,449.48 88.00,449.47 88.25,449.47 88.50,449.46 88.75,449.45 89.00,449.45 89.25,449.44 89.50,449.43 89.75,449.43 90.00,449.42 90.25,449.41 90.50,449.41 90.75,449.40 91.00,449.39 91.25,449.39 91.50,449.38 91.75,449.37 92.00,449.37 92.25,449.36 92.50,449.35 92.75,449.35 93.00,449.34 93.25,449.33 93.50,449.33 93.75,449.32 94.00,449.31 94.25,449.30 94.50,449.30 94.75,449.29 95.00,449.28 95.25,449.27 95.50,449.27 95.75,449.26 96.00,449.25 96.25,449.24 96.50,449.23 96.75,449.22 97.00,449.22 97.25,449.21 97.50,449.20 97.75,449.19 98.00,449.18 98.25,449.17 98.50,449.16 98.75,449.15 99.00,449.14 99.25,449.13 99.50,449.12 99.75,449.11 100.00,449.10 100.25,449.09 100.50,449.08 100.75,449.07 101.00,449.06 101.25,449.05 101.50,449.03 101.75,449.02 102.00,449.01 102.25,448.99 102.50,448.98 102.75,448.96 103.00,448.95 103.25,448.93 103.50,448.92 103.75,448.90 104.00,448.88 104.25,448.87 104.50,448.85 104.75,448.83 105.00,448.81 105.25,448.79 105.50,448.76 105.75,448.74 106.00,448.72 106.25,448.69 106.50,448.66 106.75,448.64 107.00,448.61 107.25,448.58 107.50,448.55 107.75,448.51 108.00,448.48 108.25,448.44 108.50,448.40 108.75,448.36 109.00,448.32 109.25,448.28 109.50,448.23 109.75,448.19 110.00,448.14 110.25,448.08 110.50,448.03 110.75,447.97 111.00,447.91 111.25,447.85 111.50,447.78 111.75,447.71 112.00,447.64 112.25,447.56 112.50,447.49 112.75,447.40 113.00,447.32 113.25,447.22 113.50,447.13 113.75,447.03 114.00,446.93 114.25,446.82 114.50,446.70 114.75,446.58 115.00,446.46 115.25,446.33 115.50,446.20 115.75,446.06 116.00,445.91 116.25,445.76 116.50,445.60 116.75,445.43 117.00,445.26 117.25,445.08 117.50,444.89 117.75,444.69 118.00,444.49 118.25,444.28 118.50,444.06 118.75,443.83 119.00,443.59 119.25,443.35 119.50,443.09 119.75,442.83 120.00,442.55 120.25,442.27 120.50,441.97 120.75,441.67 121.00,441.35 121.25,441.03 121.50,440.69 121.75,440.34 122.00,439.98 122.25,439.61 122.50,439.22 122.75,438.83 123.00,438.42 123.25,438.00 123.50,437.57 123.75,437.12 124.00,436.66 124.25,436.19 124.50,435.70 124.75,435.21 125.00,434.69 125.25,434.17 125.50,433.63 125.75,433.08 126.00,432.51 126.25,431.93 126.50,431.34 126.75,430.73 127.00,430.11 127.25,429.47 127.50,428.82 127.75,428.16 128.00,427.49 128.25,426.80 128.50,426.09 128.75,425.38 129.00,424.65 129.25,423.91 129.50,423.15 129.75,422.39 130.00,421.61 130.25,420.82 130.50,420.02 130.75,419.21 131.00,418.38 131.25,417.55 131.50,416.71 131.75,415.85 132.00,414.99 132.25,414.12 132.50,413.24 132.75,412.36 133.00,411.46 133.25,410.56 133.50,409.66 133.75,408.75 134.00,407.83 134.25,406.91 134.50,405.99 134.75,405.06 135.00,404.14 135.25,403.21 135.50,402.28 135.75,401.35 136.00,400.42 136.25,399.50 136.50,398.58 136.75,397.66 137.00,396.74 137.25,395.83 137.50,394.93 137.75,394.03 138.00,393.15 138.25,392.27 138.50,391.40 138.75,390.54 139.00,389.69 139.25,388.86 139.50,388.04 139.75,387.23 140.00,386.44 140.25,385.66 140.50,384.90 140.75,384.16 141.00,383.44 141.25,382.73 141.50,382.05 141.75,381.39 142.00,380.75 142.25,380.13 142.50,379.54 142.75,378.97 143.00,378.42 143.25,377.90 143.50,377.41 143.75,376.94 144.00,376.51 144.25,376.10 144.50,375.72 144.75,375.36 145.00,375.04 145.25,374.75 145.50,374.49 145.75,374.26 146.00,374.06 146.25,373.89 146.50,373.76 146.75,373.65 147.00,373.58 147.25,373.54 147.50,373.54 147.75,373.57 148.00,373.63 148.25,373.74 148.50,373.88 148.75,374.06 149.00,374.27 149.25,374.52 149.50,374.81 149.75,375.13 150.00,375.49 150.25,375.88 150.50,376.31 150.75,376.76 151.00,377.26 151.25,377.78 151.50,378.33 151.75,378.92 152.00,379.53 152.25,380.17 152.50,380.84 152.75,381.54 153.00,382.26 153.25,383.00 153.50,383.77 153.75,384.57 154.00,385.38 154.25,386.22 154.50,387.07 154.75,387.94 155.00,388.83 155.25,389.74 155.50,390.66 155.75,391.59 156.00,392.54 156.25,393.50 156.50,394.47 156.75,395.44 157.00,396.43 157.25,397.42 157.50,398.42 157.75,399.43 158.00,400.43 158.25,401.44 158.50,402.45 158.75,403.46 159.00,404.47 159.25,405.48 159.50,406.49 159.75,407.49 160.00,408.49 160.25,409.49 160.50,410.48 160.75,411.46 161.00,412.43 161.25,413.39 161.50,414.35 161.75,415.30 162.00,416.23 162.25,417.16 162.50,418.07 162.75,418.97 163.00,419.86 163.25,420.73 163.50,421.59 163.75,422.44 164.00,423.27 164.25,424.09 164.50,424.89 164.75,425.68 165.00,426.45 165.25,427.20 165.50,427.94 165.75,428.66 166.00,429.37 166.25,430.06 166.50,430.73 166.75,431.39 167.00,432.03 167.25,432.65 167.50,433.26 167.75,433.85 168.00,434.42 168.25,434.98 168.50,435.52 168.75,436.04 169.00,436.55 169.25,437.05 169.50,437.52 169.75,437.99 170.00,438.43 170.25,438.86 170.50,439.28 170.75,439.68 171.00,440.07 171.25,440.45 171.50,440.81 171.75,441.16 172.00,441.49 172.25,441.81 172.50,442.12 172.75,442.42 173.00,442.70 173.25,442.98 173.50,443.24 173.75,443.49 174.00,443.73 174.25,443.96 174.50,444.18 174.75,444.39 175.00,444.59 175.25,444.78 175.50,444.97 175.75,445.14 176.00,445.31 176.25,445.47 176.50,445.62 176.75,445.76 177.00,445.90 177.25,446.03 177.50,446.15 177.75,446.27 178.00,446.38 178.25,446.48 178.50,446.58 178.75,446.68 179.00,446.76 179.25,446.85 179.50,446.93 179.75,447.00 180.00,447.07 180.25,447.14 180.50,447.20 180.75,447.26 181.00,447.32 181.25,447.37 181.50,447.42 181.75,447.46 182.00,447.51 182.25,447.55 182.50,447.59 182.75,447.62 183.00,447.65 183.25,447.69 183.50,447.71 183.75,447.74 184.00,447.77 184.25,447.79 184.50,447.81 184.75,447.83 185.00,447.85 185.25,447.87 185.50,447.88 185.75,447.90 L185.75,448.12 185.50,448.12 185.25,448.12 185.00,448.12 184.75,448.12 184.50,448.13 184.25,448.13 184.00,448.13 183.75,448.13 183.50,448.13 183.25,448.14 183.00,448.14 182.75,448.14 182.50,448.14 182.25,448.15 182.00,448.15 181.75,448.15 181.50,448.15 181.25,448.16 181.00,448.16 180.75,448.16 180.50,448.16 180.25,448.16 180.00,448.17 179.75,448.17 179.50,448.17 179.25,448.17 179.00,448.18 178.75,448.18 178.50,448.18 178.25,448.18 178.00,448.19 177.75,448.19 177.50,448.19 177.25,448.19 177.00,448.20 176.75,448.20 176.50,448.20 176.25,448.20 176.00,448.20 175.75,448.21 175.50,448.21 175.25,448.21 175.00,448.21 174.75,448.22 174.50,448.22 174.25,448.22 174.00,448.22 173.75,448.23 173.50,448.23 173.25,448.23 173.00,448.23 172.75,448.24 172.50,448.24 172.25,448.24 172.00,448.24 171.75,448.25 171.50,448.25 171.25,448.25 171.00,448.25 170.75,448.26 170.50,448.26 170.25,448.26 170.00,448.27 169.75,448.27 169.50,448.27 169.25,448.27 169.00,448.28 168.75,448.28 168.50,448.28 168.25,448.28 168.00,448.29 167.75,448.29 167.50,448.29 167.25,448.29 167.00,448.30 166.75,448.30 166.50,448.30 166.25,448.31 166.00,448.31 165.75,448.31 165.50,448.31 165.25,448.32 165.00,448.32 164.75,448.32 164.50,448.32 164.25,448.33 164.00,448.33 163.75,448.33 163.50,448.34 163.25,448.34 163.00,448.34 162.75,448.34 162.50,448.35 162.25,448.35 162.00,448.35 161.75,448.36 161.50,448.36 161.25,448.36 161.00,448.36 160.75,448.37 160.50,448.37 160.25,448.37 160.00,448.38 159.75,448.38 159.50,448.38 159.25,448.38 159.00,448.39 158.75,448.39 158.50,448.39 158.25,448.40 158.00,448.40 157.75,448.40 157.50,448.41 157.25,448.41 157.00,448.41 156.75,448.41 156.50,448.42 156.25,448.42 156.00,448.42 155.75,448.43 155.50,448.43 155.25,448.43 155.00,448.44 154.75,448.44 154.50,448.44 154.25,448.45 154.00,448.45 153.75,448.45 153.50,448.45 153.25,448.46 153.00,448.46 152.75,448.46 152.50,448.47 152.25,448.47 152.00,448.47 151.75,448.48 151.50,448.48 151.25,448.48 151.00,448.49 150.75,448.49 150.50,448.49 150.25,448.50 150.00,448.50 149.75,448.50 149.50,448.51 149.25,448.51 149.00,448.51 148.75,448.52 148.50,448.52 148.25,448.52 148.00,448.53 147.75,448.53 147.50,448.53 147.25,448.54 147.00,448.54 146.75,448.55 146.50,448.55 146.25,448.55 146.00,448.56 145.75,448.56 145.50,448.56 145.25,448.57 145.00,448.57 144.75,448.58 144.50,448.58 144.25,448.58 144.00,448.59 143.75,448.59 143.50,448.60 143.25,448.60 143.00,448.60 142.75,448.61 142.50,448.61 142.25,448.62 142.00,448.62 141.75,448.62 141.50,448.63 141.25,448.63 141.00,448.64 140.75,448.64 140.50,448.65 140.25,448.65 140.00,448.65 139.75,448.66 139.50,448.66 139.25,448.67 139.00,448.67 138.75,448.68 138.50,448.68 138.25,448.69 138.00,448.69 137.75,448.69 137.50,448.70 137.25,448.70 137.00,448.71 136.75,448.71 136.50,448.72 136.25,448.72 136.00,448.73 135.75,448.73 135.50,448.74 135.25,448.74 135.00,448.75 134.75,448.75 134.50,448.76 134.25,448.76 134.00,448.77 133.75,448.77 133.50,448.77 133.25,448.78 133.00,448.78 132.75,448.79 132.50,448.79 132.25,448.80 132.00,448.80 131.75,448.81 131.50,448.81 131.25,448.82 131.00,448.82 130.75,448.83 130.50,448.83 130.25,448.84 130.00,448.84 129.75,448.85 129.50,448.85 129.25,448.86 129.00,448.86 128.75,448.87 128.50,448.87 128.25,448.88 128.00,448.88 127.75,448.89 127.50,448.89 127.25,448.90 127.00,448.90 126.75,448.91 126.50,448.92 126.25,448.92 126.00,448.93 125.75,448.93 125.50,448.94 125.25,448.94 125.00,448.95 124.75,448.95 124.50,448.96 124.25,448.96 124.00,448.97 123.75,448.97 123.50,448.98 123.25,448.98 123.00,448.99 122.75,448.99 122.50,449.00 122.25,449.00 122.00,449.01 121.75,449.01 121.50,449.02 121.25,449.02 121.00,449.03 120.75,449.04 120.50,449.04 120.25,449.05 120.00,449.05 119.75,449.06 119.50,449.06 119.25,449.07 119.00,449.07 118.75,449.08 118.50,449.08 118.25,449.09 118.00,449.09 117.75,449.10 117.50,449.10 117.25,449.11 117.00,449.11 116.75,449.12 116.50,449.13 116.25,449.13 116.00,449.14 115.75,449.14 115.50,449.15 115.25,449.15 115.00,449.16 114.75,449.16 114.50,449.17 114.25,449.17 114.00,449.18 113.75,449.18 113.50,449.19 113.25,449.19 113.00,449.20 112.75,449.20 112.50,449.21 112.25,449.21 112.00,449.22 111.75,449.22 111.50,449.23 111.25,449.23 111.00,449.24 110.75,449.24 110.50,449.25 110.25,449.25 110.00,449.26 109.75,449.27 109.50,449.27 109.25,449.28 109.00,449.28 108.75,449.29 108.50,449.29 108.25,449.30 108.00,449.30 107.75,449.31 107.50,449.31 107.25,449.32 107.00,449.32 106.75,449.33 106.50,449.33 106.25,449.34 106.00,449.34 105.75,449.35 105.50,449.35 105.25,449.35 105.00,449.36 104.75,449.36 104.50,449.37 104.25,449.37 104.00,449.38 103.75,449.38 103.50,449.39 103.25,449.39 103.00,449.40 102.75,449.40 102.50,449.41 102.25,449.41 102.00,449.42 101.75,449.42 101.50,449.43 101.25,449.43 101.00,449.44 100.75,449.44 100.50,449.45 100.25,449.45 100.00,449.45 99.75,449.46 99.50,449.46 99.25,449.47 99.00,449.47 98.75,449.48 98.50,449.48 98.25,449.49 98.00,449.49 97.75,449.50 97.50,449.50 97.25,449.51 97.00,449.51 96.75,449.52 96.50,449.52 96.25,449.53 96.00,449.53 95.75,449.53 95.50,449.54 95.25,449.54 95.00,449.55 94.75,449.55 94.50,449.56 94.25,449.56 94.00,449.57 93.75,449.57 93.50,449.58 93.25,449.58 93.00,449.59 92.75,449.59 92.50,449.60 92.25,449.60 92.00,449.61 91.75,449.61 91.50,449.61 91.25,449.62 91.00,449.62 90.75,449.63 90.50,449.63 90.25,449.64 90.00,449.64 89.75,449.65 89.50,449.65 89.25,449.66 89.00,449.66 88.75,449.67 88.50,449.67 88.25,449.68 88.00,449.68 87.75,449.69 87.50,449.69 87.25,449.69 87.00,449.70Z" fill="url(#gO1)" stroke="#5a50e0" stroke-width="0.6"/><path d="M125.00,448.74 125.25,448.73 125.50,448.71 125.75,448.70 126.00,448.68 126.25,448.67 126.50,448.65 126.75,448.64 127.00,448.62 127.25,448.61 127.50,448.59 127.75,448.57 128.00,448.55 128.25,448.53 128.50,448.52 128.75,448.50 129.00,448.48 129.25,448.46 129.50,448.43 129.75,448.41 130.00,448.39 130.25,448.37 130.50,448.35 130.75,448.32 131.00,448.30 131.25,448.27 131.50,448.25 131.75,448.22 132.00,448.19 132.25,448.17 132.50,448.14 132.75,448.11 133.00,448.08 133.25,448.05 133.50,448.02 133.75,447.99 134.00,447.95 134.25,447.92 134.50,447.88 134.75,447.85 135.00,447.81 135.25,447.77 135.50,447.74 135.75,447.70 136.00,447.66 136.25,447.61 136.50,447.57 136.75,447.53 137.00,447.48 137.25,447.44 137.50,447.39 137.75,447.34 138.00,447.29 138.25,447.24 138.50,447.19 138.75,447.14 139.00,447.08 139.25,447.03 139.50,446.97 139.75,446.91 140.00,446.85 140.25,446.79 140.50,446.73 140.75,446.67 141.00,446.60 141.25,446.53 141.50,446.46 141.75,446.39 142.00,446.32 142.25,446.25 142.50,446.17 142.75,446.10 143.00,446.02 143.25,445.94 143.50,445.86 143.75,445.77 144.00,445.69 144.25,445.60 144.50,445.51 144.75,445.42 145.00,445.33 145.25,445.24 145.50,445.14 145.75,445.04 146.00,444.94 146.25,444.84 146.50,444.74 146.75,444.63 147.00,444.52 147.25,444.41 147.50,444.30 147.75,444.18 148.00,444.07 148.25,443.95 148.50,443.83 148.75,443.71 149.00,443.58 149.25,443.45 149.50,443.32 149.75,443.19 150.00,443.06 150.25,442.92 150.50,442.78 150.75,442.64 151.00,442.50 151.25,442.36 151.50,442.21 151.75,442.06 152.00,441.91 152.25,441.75 152.50,441.60 152.75,441.44 153.00,441.28 153.25,441.12 153.50,440.95 153.75,440.78 154.00,440.61 154.25,440.44 154.50,440.27 154.75,440.09 155.00,439.91 155.25,439.73 155.50,439.55 155.75,439.36 156.00,439.18 156.25,438.99 156.50,438.80 156.75,438.60 157.00,438.41 157.25,438.21 157.50,438.01 157.75,437.81 158.00,437.61 158.25,437.40 158.50,437.20 158.75,436.99 159.00,436.78 159.25,436.57 159.50,436.35 159.75,436.14 160.00,435.92 160.25,435.70 160.50,435.48 160.75,435.26 161.00,435.04 161.25,434.81 161.50,434.59 161.75,434.36 162.00,434.13 162.25,433.90 162.50,433.67 162.75,433.44 163.00,433.21 163.25,432.98 163.50,432.74 163.75,432.51 164.00,432.28 164.25,432.04 164.50,431.80 164.75,431.57 165.00,431.33 165.25,431.09 165.50,430.86 165.75,430.62 166.00,430.38 166.25,430.14 166.50,429.91 166.75,429.67 167.00,429.43 167.25,429.20 167.50,428.96 167.75,428.73 168.00,428.49 168.25,428.26 168.50,428.02 168.75,427.79 169.00,427.56 169.25,427.33 169.50,427.10 169.75,426.87 170.00,426.65 170.25,426.42 170.50,426.20 170.75,425.98 171.00,425.76 171.25,425.54 171.50,425.32 171.75,425.11 172.00,424.90 172.25,424.69 172.50,424.48 172.75,424.27 173.00,424.07 173.25,423.87 173.50,423.67 173.75,423.48 174.00,423.29 174.25,423.10 174.50,422.91 174.75,422.73 175.00,422.55 175.25,422.37 175.50,422.20 175.75,422.03 176.00,421.86 176.25,421.70 176.50,421.54 176.75,421.38 177.00,421.23 177.25,421.08 177.50,420.94 177.75,420.80 178.00,420.66 178.25,420.53 178.50,420.40 178.75,420.28 179.00,420.16 179.25,420.05 179.50,419.94 179.75,419.83 180.00,419.73 180.25,419.63 180.50,419.54 180.75,419.45 181.00,419.37 181.25,419.29 181.50,419.22 181.75,419.15 182.00,419.09 182.25,419.03 182.50,418.98 182.75,418.93 183.00,418.89 183.25,418.85 183.50,418.81 183.75,418.79 184.00,418.76 184.25,418.75 184.50,418.73 184.75,418.72 185.00,418.72 185.25,418.73 185.50,418.74 185.75,418.76 186.00,418.78 186.25,418.82 186.50,418.86 186.75,418.90 187.00,418.96 187.25,419.02 187.50,419.09 187.75,419.16 188.00,419.24 188.25,419.33 188.50,419.43 188.75,419.53 189.00,419.64 189.25,419.75 189.50,419.87 189.75,420.00 190.00,420.14 190.25,420.28 190.50,420.42 190.75,420.57 191.00,420.73 191.25,420.90 191.50,421.06 191.75,421.24 192.00,421.42 192.25,421.60 192.50,421.79 192.75,421.99 193.00,422.19 193.25,422.40 193.50,422.60 193.75,422.82 194.00,423.04 194.25,423.26 194.50,423.49 194.75,423.72 195.00,423.95 195.25,424.19 195.50,424.43 195.75,424.67 196.00,424.92 196.25,425.17 196.50,425.42 196.75,425.68 197.00,425.93 197.25,426.19 197.50,426.46 197.75,426.72 198.00,426.99 198.25,427.26 198.50,427.53 198.75,427.80 199.00,428.07 199.25,428.34 199.50,428.62 199.75,428.89 200.00,429.17 200.25,429.44 200.50,429.72 200.75,430.00 201.00,430.27 201.25,430.55 201.50,430.83 201.75,431.10 202.00,431.38 202.25,431.65 202.50,431.93 202.75,432.20 203.00,432.47 203.25,432.74 203.50,433.02 203.75,433.28 204.00,433.55 204.25,433.82 204.50,434.08 204.75,434.35 205.00,434.61 205.25,434.87 205.50,435.12 205.75,435.38 206.00,435.63 206.25,435.88 206.50,436.13 206.75,436.38 207.00,436.62 207.25,436.86 207.50,437.10 207.75,437.34 208.00,437.57 208.25,437.80 208.50,438.03 208.75,438.26 209.00,438.48 209.25,438.70 209.50,438.91 209.75,439.13 210.00,439.34 210.25,439.54 210.50,439.75 210.75,439.95 211.00,440.15 211.25,440.34 211.50,440.53 211.75,440.72 212.00,440.91 212.25,441.09 212.50,441.27 212.75,441.44 213.00,441.62 213.25,441.79 213.50,441.95 213.75,442.11 214.00,442.27 214.25,442.43 214.50,442.58 214.75,442.73 215.00,442.88 215.25,443.02 215.50,443.17 215.75,443.30 216.00,443.44 216.25,443.57 216.50,443.70 216.75,443.82 217.00,443.95 217.25,444.07 217.50,444.18 217.75,444.30 218.00,444.41 218.25,444.52 218.50,444.63 218.75,444.73 219.00,444.83 219.25,444.93 219.50,445.02 219.75,445.12 220.00,445.21 220.25,445.29 220.50,445.38 220.75,445.46 221.00,445.54 221.25,445.62 221.50,445.70 221.75,445.77 222.00,445.84 222.25,445.91 222.50,445.98 222.75,446.05 223.00,446.11 223.25,446.17 223.50,446.23 223.75,446.29 224.00,446.35 224.25,446.40 224.50,446.45 224.75,446.50 225.00,446.55 225.25,446.60 225.50,446.64 225.75,446.69 226.00,446.73 226.25,446.77 226.50,446.81 226.75,446.85 227.00,446.89 227.25,446.92 227.50,446.96 227.75,446.99 228.00,447.02 228.25,447.05 228.50,447.08 228.75,447.11 229.00,447.14 229.25,447.16 229.50,447.19 229.75,447.21 230.00,447.24 230.25,447.26 230.50,447.28 230.75,447.30 231.00,447.32 231.25,447.34 231.50,447.36 231.75,447.38 232.00,447.39 232.25,447.41 232.50,447.42 232.75,447.44 233.00,447.45 233.25,447.46 233.50,447.48 233.75,447.49 234.00,447.50 234.25,447.51 234.50,447.52 234.75,447.53 235.00,447.54 235.25,447.55 L235.25,447.76 235.00,447.76 234.75,447.76 234.50,447.76 234.25,447.76 234.00,447.77 233.75,447.77 233.50,447.77 233.25,447.77 233.00,447.77 232.75,447.77 232.50,447.78 232.25,447.78 232.00,447.78 231.75,447.78 231.50,447.78 231.25,447.78 231.00,447.78 230.75,447.79 230.50,447.79 230.25,447.79 230.00,447.79 229.75,447.79 229.50,447.79 229.25,447.80 229.00,447.80 228.75,447.80 228.50,447.80 228.25,447.80 228.00,447.80 227.75,447.81 227.50,447.81 227.25,447.81 227.00,447.81 226.75,447.81 226.50,447.81 226.25,447.81 226.00,447.82 225.75,447.82 225.50,447.82 225.25,447.82 225.00,447.82 224.75,447.82 224.50,447.83 224.25,447.83 224.00,447.83 223.75,447.83 223.50,447.83 223.25,447.83 223.00,447.84 222.75,447.84 222.50,447.84 222.25,447.84 222.00,447.84 221.75,447.84 221.50,447.85 221.25,447.85 221.00,447.85 220.75,447.85 220.50,447.85 220.25,447.85 220.00,447.86 219.75,447.86 219.50,447.86 219.25,447.86 219.00,447.86 218.75,447.86 218.50,447.87 218.25,447.87 218.00,447.87 217.75,447.87 217.50,447.87 217.25,447.88 217.00,447.88 216.75,447.88 216.50,447.88 216.25,447.88 216.00,447.88 215.75,447.89 215.50,447.89 215.25,447.89 215.00,447.89 214.75,447.89 214.50,447.89 214.25,447.90 214.00,447.90 213.75,447.90 213.50,447.90 213.25,447.90 213.00,447.90 212.75,447.91 212.50,447.91 212.25,447.91 212.00,447.91 211.75,447.91 211.50,447.92 211.25,447.92 211.00,447.92 210.75,447.92 210.50,447.92 210.25,447.92 210.00,447.93 209.75,447.93 209.50,447.93 209.25,447.93 209.00,447.93 208.75,447.94 208.50,447.94 208.25,447.94 208.00,447.94 207.75,447.94 207.50,447.94 207.25,447.95 207.00,447.95 206.75,447.95 206.50,447.95 206.25,447.95 206.00,447.96 205.75,447.96 205.50,447.96 205.25,447.96 205.00,447.96 204.75,447.96 204.50,447.97 204.25,447.97 204.00,447.97 203.75,447.97 203.50,447.97 203.25,447.98 203.00,447.98 202.75,447.98 202.50,447.98 202.25,447.98 202.00,447.99 201.75,447.99 201.50,447.99 201.25,447.99 201.00,447.99 200.75,447.99 200.50,448.00 200.25,448.00 200.00,448.00 199.75,448.00 199.50,448.00 199.25,448.01 199.00,448.01 198.75,448.01 198.50,448.01 198.25,448.01 198.00,448.02 197.75,448.02 197.50,448.02 197.25,448.02 197.00,448.02 196.75,448.02 196.50,448.03 196.25,448.03 196.00,448.03 195.75,448.03 195.50,448.03 195.25,448.04 195.00,448.04 194.75,448.04 194.50,448.04 194.25,448.04 194.00,448.05 193.75,448.05 193.50,448.05 193.25,448.05 193.00,448.05 192.75,448.06 192.50,448.06 192.25,448.06 192.00,448.06 191.75,448.06 191.50,448.07 191.25,448.07 191.00,448.07 190.75,448.07 190.50,448.07 190.25,448.08 190.00,448.08 189.75,448.08 189.50,448.08 189.25,448.09 189.00,448.09 188.75,448.09 188.50,448.09 188.25,448.09 188.00,448.10 187.75,448.10 187.50,448.10 187.25,448.10 187.00,448.10 186.75,448.11 186.50,448.11 186.25,448.11 186.00,448.11 185.75,448.12 185.50,448.12 185.25,448.12 185.00,448.12 184.75,448.12 184.50,448.13 184.25,448.13 184.00,448.13 183.75,448.13 183.50,448.13 183.25,448.14 183.00,448.14 182.75,448.14 182.50,448.14 182.25,448.15 182.00,448.15 181.75,448.15 181.50,448.15 181.25,448.16 181.00,448.16 180.75,448.16 180.50,448.16 180.25,448.16 180.00,448.17 179.75,448.17 179.50,448.17 179.25,448.17 179.00,448.18 178.75,448.18 178.50,448.18 178.25,448.18 178.00,448.19 177.75,448.19 177.50,448.19 177.25,448.19 177.00,448.20 176.75,448.20 176.50,448.20 176.25,448.20 176.00,448.20 175.75,448.21 175.50,448.21 175.25,448.21 175.00,448.21 174.75,448.22 174.50,448.22 174.25,448.22 174.00,448.22 173.75,448.23 173.50,448.23 173.25,448.23 173.00,448.23 172.75,448.24 172.50,448.24 172.25,448.24 172.00,448.24 171.75,448.25 171.50,448.25 171.25,448.25 171.00,448.25 170.75,448.26 170.50,448.26 170.25,448.26 170.00,448.27 169.75,448.27 169.50,448.27 169.25,448.27 169.00,448.28 168.75,448.28 168.50,448.28 168.25,448.28 168.00,448.29 167.75,448.29 167.50,448.29 167.25,448.29 167.00,448.30 166.75,448.30 166.50,448.30 166.25,448.31 166.00,448.31 165.75,448.31 165.50,448.31 165.25,448.32 165.00,448.32 164.75,448.32 164.50,448.32 164.25,448.33 164.00,448.33 163.75,448.33 163.50,448.34 163.25,448.34 163.00,448.34 162.75,448.34 162.50,448.35 162.25,448.35 162.00,448.35 161.75,448.36 161.50,448.36 161.25,448.36 161.00,448.36 160.75,448.37 160.50,448.37 160.25,448.37 160.00,448.38 159.75,448.38 159.50,448.38 159.25,448.38 159.00,448.39 158.75,448.39 158.50,448.39 158.25,448.40 158.00,448.40 157.75,448.40 157.50,448.41 157.25,448.41 157.00,448.41 156.75,448.41 156.50,448.42 156.25,448.42 156.00,448.42 155.75,448.43 155.50,448.43 155.25,448.43 155.00,448.44 154.75,448.44 154.50,448.44 154.25,448.45 154.00,448.45 153.75,448.45 153.50,448.45 153.25,448.46 153.00,448.46 152.75,448.46 152.50,448.47 152.25,448.47 152.00,448.47 151.75,448.48 151.50,448.48 151.25,448.48 151.00,448.49 150.75,448.49 150.50,448.49 150.25,448.50 150.00,448.50 149.75,448.50 149.50,448.51 149.25,448.51 149.00,448.51 148.75,448.52 148.50,448.52 148.25,448.52 148.00,448.53 147.75,448.53 147.50,448.53 147.25,448.54 147.00,448.54 146.75,448.55 146.50,448.55 146.25,448.55 146.00,448.56 145.75,448.56 145.50,448.56 145.25,448.57 145.00,448.57 144.75,448.58 144.50,448.58 144.25,448.58 144.00,448.59 143.75,448.59 143.50,448.60 143.25,448.60 143.00,448.60 142.75,448.61 142.50,448.61 142.25,448.62 142.00,448.62 141.75,448.62 141.50,448.63 141.25,448.63 141.00,448.64 140.75,448.64 140.50,448.65 140.25,448.65 140.00,448.65 139.75,448.66 139.50,448.66 139.25,448.67 139.00,448.67 138.75,448.68 138.50,448.68 138.25,448.69 138.00,448.69 137.75,448.69 137.50,448.70 137.25,448.70 137.00,448.71 136.75,448.71 136.50,448.72 136.25,448.72 136.00,448.73 135.75,448.73 135.50,448.74 135.25,448.74 135.00,448.75 134.75,448.75 134.50,448.76 134.25,448.76 134.00,448.77 133.75,448.77 133.50,448.77 133.25,448.78 133.00,448.78 132.75,448.79 132.50,448.79 132.25,448.80 132.00,448.80 131.75,448.81 131.50,448.81 131.25,448.82 131.00,448.82 130.75,448.83 130.50,448.83 130.25,448.84 130.00,448.84 129.75,448.85 129.50,448.85 129.25,448.86 129.00,448.86 128.75,448.87 128.50,448.87 128.25,448.88 128.00,448.88 127.75,448.89 127.50,448.89 127.25,448.90 127.00,448.90 126.75,448.91 126.50,448.92 126.25,448.92 126.00,448.93 125.75,448.93 125.50,448.94 125.25,448.94 125.00,448.95Z" fill="url(#gO2)" stroke="#f0607a" stroke-width="0.7"/><path d="M144.00,448.39 144.25,448.38 144.50,448.37 144.75,448.36 145.00,448.35 145.25,448.34 145.50,448.33 145.75,448.32 146.00,448.31 146.25,448.30 146.50,448.29 146.75,448.28 147.00,448.27 147.25,448.26 147.50,448.25 147.75,448.24 148.00,448.23 148.25,448.22 148.50,448.21 148.75,448.20 149.00,448.18 149.25,448.17 149.50,448.16 149.75,448.15 150.00,448.14 150.25,448.13 150.50,448.11 150.75,448.10 151.00,448.09 151.25,448.08 151.50,448.07 151.75,448.05 152.00,448.04 152.25,448.03 152.50,448.01 152.75,448.00 153.00,447.99 153.25,447.97 153.50,447.96 153.75,447.94 154.00,447.93 154.25,447.91 154.50,447.90 154.75,447.88 155.00,447.87 155.25,447.85 155.50,447.84 155.75,447.82 156.00,447.81 156.25,447.79 156.50,447.77 156.75,447.76 157.00,447.74 157.25,447.72 157.50,447.71 157.75,447.69 158.00,447.67 158.25,447.65 158.50,447.63 158.75,447.62 159.00,447.60 159.25,447.58 159.50,447.56 159.75,447.54 160.00,447.52 160.25,447.50 160.50,447.48 160.75,447.46 161.00,447.44 161.25,447.42 161.50,447.40 161.75,447.37 162.00,447.35 162.25,447.33 162.50,447.31 162.75,447.29 163.00,447.26 163.25,447.24 163.50,447.22 163.75,447.19 164.00,447.17 164.25,447.15 164.50,447.12 164.75,447.10 165.00,447.07 165.25,447.05 165.50,447.02 165.75,447.00 166.00,446.97 166.25,446.94 166.50,446.92 166.75,446.89 167.00,446.86 167.25,446.84 167.50,446.81 167.75,446.78 168.00,446.75 168.25,446.72 168.50,446.69 168.75,446.67 169.00,446.64 169.25,446.61 169.50,446.58 169.75,446.55 170.00,446.52 170.25,446.49 170.50,446.45 170.75,446.42 171.00,446.39 171.25,446.36 171.50,446.33 171.75,446.29 172.00,446.26 172.25,446.23 172.50,446.20 172.75,446.16 173.00,446.13 173.25,446.09 173.50,446.06 173.75,446.03 174.00,445.99 174.25,445.96 174.50,445.92 174.75,445.89 175.00,445.85 175.25,445.81 175.50,445.78 175.75,445.74 176.00,445.70 176.25,445.67 176.50,445.63 176.75,445.59 177.00,445.55 177.25,445.52 177.50,445.48 177.75,445.44 178.00,445.40 178.25,445.36 178.50,445.32 178.75,445.28 179.00,445.24 179.25,445.20 179.50,445.16 179.75,445.12 180.00,445.08 180.25,445.04 180.50,445.00 180.75,444.96 181.00,444.92 181.25,444.88 181.50,444.84 181.75,444.80 182.00,444.76 182.25,444.72 182.50,444.67 182.75,444.63 183.00,444.59 183.25,444.55 183.50,444.51 183.75,444.46 184.00,444.42 184.25,444.38 184.50,444.34 184.75,444.29 185.00,444.25 185.25,444.21 185.50,444.17 185.75,444.12 186.00,444.08 186.25,444.04 186.50,443.99 186.75,443.95 187.00,443.91 187.25,443.86 187.50,443.82 187.75,443.78 188.00,443.74 188.25,443.69 188.50,443.65 188.75,443.61 189.00,443.56 189.25,443.52 189.50,443.48 189.75,443.44 190.00,443.39 190.25,443.35 190.50,443.31 190.75,443.27 191.00,443.22 191.25,443.18 191.50,443.14 191.75,443.10 192.00,443.06 192.25,443.02 192.50,442.98 192.75,442.93 193.00,442.89 193.25,442.85 193.50,442.81 193.75,442.77 194.00,442.73 194.25,442.69 194.50,442.65 194.75,442.61 195.00,442.57 195.25,442.54 195.50,442.50 195.75,442.46 196.00,442.42 196.25,442.38 196.50,442.35 196.75,442.31 197.00,442.27 197.25,442.24 197.50,442.20 197.75,442.16 198.00,442.13 198.25,442.09 198.50,442.06 198.75,442.02 199.00,441.99 199.25,441.96 199.50,441.92 199.75,441.89 200.00,441.86 200.25,441.83 200.50,441.80 200.75,441.76 201.00,441.73 201.25,441.70 201.50,441.67 201.75,441.64 202.00,441.62 202.25,441.59 202.50,441.56 202.75,441.53 203.00,441.51 203.25,441.48 203.50,441.45 203.75,441.43 204.00,441.40 204.25,441.38 204.50,441.36 204.75,441.33 205.00,441.31 205.25,441.29 205.50,441.27 205.75,441.25 206.00,441.23 206.25,441.21 206.50,441.19 206.75,441.17 207.00,441.15 207.25,441.13 207.50,441.12 207.75,441.10 208.00,441.08 208.25,441.07 208.50,441.06 208.75,441.04 209.00,441.03 209.25,441.02 209.50,441.00 209.75,440.99 210.00,440.98 210.25,440.97 210.50,440.96 210.75,440.95 211.00,440.95 211.25,440.94 211.50,440.93 211.75,440.93 212.00,440.92 212.25,440.92 212.50,440.91 212.75,440.91 213.00,440.91 213.25,440.90 213.50,440.90 213.75,440.90 214.00,440.90 214.25,440.91 214.50,440.91 214.75,440.92 215.00,440.92 215.25,440.93 215.50,440.94 215.75,440.95 216.00,440.96 216.25,440.98 216.50,440.99 216.75,441.01 217.00,441.02 217.25,441.04 217.50,441.06 217.75,441.08 218.00,441.10 218.25,441.13 218.50,441.15 218.75,441.18 219.00,441.21 219.25,441.23 219.50,441.26 219.75,441.29 220.00,441.32 220.25,441.36 220.50,441.39 220.75,441.43 221.00,441.46 221.25,441.50 221.50,441.54 221.75,441.57 222.00,441.61 222.25,441.66 222.50,441.70 222.75,441.74 223.00,441.78 223.25,441.83 223.50,441.87 223.75,441.92 224.00,441.96 224.25,442.01 224.50,442.06 224.75,442.11 225.00,442.16 225.25,442.21 225.50,442.26 225.75,442.31 226.00,442.36 226.25,442.41 226.50,442.46 226.75,442.52 227.00,442.57 227.25,442.62 227.50,442.68 227.75,442.73 228.00,442.79 228.25,442.84 228.50,442.90 228.75,442.96 229.00,443.01 229.25,443.07 229.50,443.13 229.75,443.18 230.00,443.24 230.25,443.30 230.50,443.35 230.75,443.41 231.00,443.47 231.25,443.53 231.50,443.58 231.75,443.64 232.00,443.70 232.25,443.75 232.50,443.81 232.75,443.87 233.00,443.93 233.25,443.98 233.50,444.04 233.75,444.10 234.00,444.15 234.25,444.21 234.50,444.26 234.75,444.32 235.00,444.38 235.25,444.43 235.50,444.49 235.75,444.54 236.00,444.59 236.25,444.65 236.50,444.70 236.75,444.75 237.00,444.81 237.25,444.86 237.50,444.91 237.75,444.96 238.00,445.01 238.25,445.06 238.50,445.11 238.75,445.16 239.00,445.21 239.25,445.26 239.50,445.31 239.75,445.35 240.00,445.40 240.25,445.45 240.50,445.49 240.75,445.54 241.00,445.58 241.25,445.63 241.50,445.67 241.75,445.71 242.00,445.76 242.25,445.80 242.50,445.84 242.75,445.88 243.00,445.92 243.25,445.96 243.50,446.00 243.75,446.04 244.00,446.07 244.25,446.11 244.50,446.15 244.75,446.18 245.00,446.22 245.25,446.25 245.50,446.29 245.75,446.32 246.00,446.35 246.25,446.39 246.50,446.42 246.75,446.45 247.00,446.48 247.25,446.51 247.50,446.54 247.75,446.57 248.00,446.60 248.25,446.62 248.50,446.65 248.75,446.68 249.00,446.70 249.25,446.73 249.50,446.75 249.75,446.78 250.00,446.80 250.25,446.82 250.50,446.85 250.75,446.87 251.00,446.89 251.25,446.91 251.50,446.93 251.75,446.95 252.00,446.97 252.25,446.99 252.50,447.01 252.75,447.03 253.00,447.05 253.25,447.06 253.50,447.08 253.75,447.10 254.00,447.11 254.25,447.13 254.50,447.15 254.75,447.16 255.00,447.17 255.25,447.19 255.50,447.20 255.75,447.22 256.00,447.23 256.25,447.24 256.50,447.25 256.75,447.27 257.00,447.28 257.25,447.29 257.50,447.30 257.75,447.31 258.00,447.32 258.25,447.33 258.50,447.34 258.75,447.35 259.00,447.36 259.25,447.36 259.50,447.37 259.75,447.38 260.00,447.39 260.25,447.40 260.50,447.40 260.75,447.41 261.00,447.42 261.25,447.42 L261.25,447.63 261.00,447.63 260.75,447.63 260.50,447.63 260.25,447.63 260.00,447.63 259.75,447.63 259.50,447.63 259.25,447.63 259.00,447.64 258.75,447.64 258.50,447.64 258.25,447.64 258.00,447.64 257.75,447.64 257.50,447.64 257.25,447.64 257.00,447.64 256.75,447.65 256.50,447.65 256.25,447.65 256.00,447.65 255.75,447.65 255.50,447.65 255.25,447.65 255.00,447.65 254.75,447.65 254.50,447.66 254.25,447.66 254.00,447.66 253.75,447.66 253.50,447.66 253.25,447.66 253.00,447.66 252.75,447.66 252.50,447.66 252.25,447.67 252.00,447.67 251.75,447.67 251.50,447.67 251.25,447.67 251.00,447.67 250.75,447.67 250.50,447.67 250.25,447.68 250.00,447.68 249.75,447.68 249.50,447.68 249.25,447.68 249.00,447.68 248.75,447.68 248.50,447.68 248.25,447.69 248.00,447.69 247.75,447.69 247.50,447.69 247.25,447.69 247.00,447.69 246.75,447.69 246.50,447.70 246.25,447.70 246.00,447.70 245.75,447.70 245.50,447.70 245.25,447.70 245.00,447.70 244.75,447.70 244.50,447.71 244.25,447.71 244.00,447.71 243.75,447.71 243.50,447.71 243.25,447.71 243.00,447.71 242.75,447.72 242.50,447.72 242.25,447.72 242.00,447.72 241.75,447.72 241.50,447.72 241.25,447.72 241.00,447.73 240.75,447.73 240.50,447.73 240.25,447.73 240.00,447.73 239.75,447.73 239.50,447.73 239.25,447.73 239.00,447.74 238.75,447.74 238.50,447.74 238.25,447.74 238.00,447.74 237.75,447.74 237.50,447.75 237.25,447.75 237.00,447.75 236.75,447.75 236.50,447.75 236.25,447.75 236.00,447.75 235.75,447.76 235.50,447.76 235.25,447.76 235.00,447.76 234.75,447.76 234.50,447.76 234.25,447.76 234.00,447.77 233.75,447.77 233.50,447.77 233.25,447.77 233.00,447.77 232.75,447.77 232.50,447.78 232.25,447.78 232.00,447.78 231.75,447.78 231.50,447.78 231.25,447.78 231.00,447.78 230.75,447.79 230.50,447.79 230.25,447.79 230.00,447.79 229.75,447.79 229.50,447.79 229.25,447.80 229.00,447.80 228.75,447.80 228.50,447.80 228.25,447.80 228.00,447.80 227.75,447.81 227.50,447.81 227.25,447.81 227.00,447.81 226.75,447.81 226.50,447.81 226.25,447.81 226.00,447.82 225.75,447.82 225.50,447.82 225.25,447.82 225.00,447.82 224.75,447.82 224.50,447.83 224.25,447.83 224.00,447.83 223.75,447.83 223.50,447.83 223.25,447.83 223.00,447.84 222.75,447.84 222.50,447.84 222.25,447.84 222.00,447.84 221.75,447.84 221.50,447.85 221.25,447.85 221.00,447.85 220.75,447.85 220.50,447.85 220.25,447.85 220.00,447.86 219.75,447.86 219.50,447.86 219.25,447.86 219.00,447.86 218.75,447.86 218.50,447.87 218.25,447.87 218.00,447.87 217.75,447.87 217.50,447.87 217.25,447.88 217.00,447.88 216.75,447.88 216.50,447.88 216.25,447.88 216.00,447.88 215.75,447.89 215.50,447.89 215.25,447.89 215.00,447.89 214.75,447.89 214.50,447.89 214.25,447.90 214.00,447.90 213.75,447.90 213.50,447.90 213.25,447.90 213.00,447.90 212.75,447.91 212.50,447.91 212.25,447.91 212.00,447.91 211.75,447.91 211.50,447.92 211.25,447.92 211.00,447.92 210.75,447.92 210.50,447.92 210.25,447.92 210.00,447.93 209.75,447.93 209.50,447.93 209.25,447.93 209.00,447.93 208.75,447.94 208.50,447.94 208.25,447.94 208.00,447.94 207.75,447.94 207.50,447.94 207.25,447.95 207.00,447.95 206.75,447.95 206.50,447.95 206.25,447.95 206.00,447.96 205.75,447.96 205.50,447.96 205.25,447.96 205.00,447.96 204.75,447.96 204.50,447.97 204.25,447.97 204.00,447.97 203.75,447.97 203.50,447.97 203.25,447.98 203.00,447.98 202.75,447.98 202.50,447.98 202.25,447.98 202.00,447.99 201.75,447.99 201.50,447.99 201.25,447.99 201.00,447.99 200.75,447.99 200.50,448.00 200.25,448.00 200.00,448.00 199.75,448.00 199.50,448.00 199.25,448.01 199.00,448.01 198.75,448.01 198.50,448.01 198.25,448.01 198.00,448.02 197.75,448.02 197.50,448.02 197.25,448.02 197.00,448.02 196.75,448.02 196.50,448.03 196.25,448.03 196.00,448.03 195.75,448.03 195.50,448.03 195.25,448.04 195.00,448.04 194.75,448.04 194.50,448.04 194.25,448.04 194.00,448.05 193.75,448.05 193.50,448.05 193.25,448.05 193.00,448.05 192.75,448.06 192.50,448.06 192.25,448.06 192.00,448.06 191.75,448.06 191.50,448.07 191.25,448.07 191.00,448.07 190.75,448.07 190.50,448.07 190.25,448.08 190.00,448.08 189.75,448.08 189.50,448.08 189.25,448.09 189.00,448.09 188.75,448.09 188.50,448.09 188.25,448.09 188.00,448.10 187.75,448.10 187.50,448.10 187.25,448.10 187.00,448.10 186.75,448.11 186.50,448.11 186.25,448.11 186.00,448.11 185.75,448.12 185.50,448.12 185.25,448.12 185.00,448.12 184.75,448.12 184.50,448.13 184.25,448.13 184.00,448.13 183.75,448.13 183.50,448.13 183.25,448.14 183.00,448.14 182.75,448.14 182.50,448.14 182.25,448.15 182.00,448.15 181.75,448.15 181.50,448.15 181.25,448.16 181.00,448.16 180.75,448.16 180.50,448.16 180.25,448.16 180.00,448.17 179.75,448.17 179.50,448.17 179.25,448.17 179.00,448.18 178.75,448.18 178.50,448.18 178.25,448.18 178.00,448.19 177.75,448.19 177.50,448.19 177.25,448.19 177.00,448.20 176.75,448.20 176.50,448.20 176.25,448.20 176.00,448.20 175.75,448.21 175.50,448.21 175.25,448.21 175.00,448.21 174.75,448.22 174.50,448.22 174.25,448.22 174.00,448.22 173.75,448.23 173.50,448.23 173.25,448.23 173.00,448.23 172.75,448.24 172.50,448.24 172.25,448.24 172.00,448.24 171.75,448.25 171.50,448.25 171.25,448.25 171.00,448.25 170.75,448.26 170.50,448.26 170.25,448.26 170.00,448.27 169.75,448.27 169.50,448.27 169.25,448.27 169.00,448.28 168.75,448.28 168.50,448.28 168.25,448.28 168.00,448.29 167.75,448.29 167.50,448.29 167.25,448.29 167.00,448.30 166.75,448.30 166.50,448.30 166.25,448.31 166.00,448.31 165.75,448.31 165.50,448.31 165.25,448.32 165.00,448.32 164.75,448.32 164.50,448.32 164.25,448.33 164.00,448.33 163.75,448.33 163.50,448.34 163.25,448.34 163.00,448.34 162.75,448.34 162.50,448.35 162.25,448.35 162.00,448.35 161.75,448.36 161.50,448.36 161.25,448.36 161.00,448.36 160.75,448.37 160.50,448.37 160.25,448.37 160.00,448.38 159.75,448.38 159.50,448.38 159.25,448.38 159.00,448.39 158.75,448.39 158.50,448.39 158.25,448.40 158.00,448.40 157.75,448.40 157.50,448.41 157.25,448.41 157.00,448.41 156.75,448.41 156.50,448.42 156.25,448.42 156.00,448.42 155.75,448.43 155.50,448.43 155.25,448.43 155.00,448.44 154.75,448.44 154.50,448.44 154.25,448.45 154.00,448.45 153.75,448.45 153.50,448.45 153.25,448.46 153.00,448.46 152.75,448.46 152.50,448.47 152.25,448.47 152.00,448.47 151.75,448.48 151.50,448.48 151.25,448.48 151.00,448.49 150.75,448.49 150.50,448.49 150.25,448.50 150.00,448.50 149.75,448.50 149.50,448.51 149.25,448.51 149.00,448.51 148.75,448.52 148.50,448.52 148.25,448.52 148.00,448.53 147.75,448.53 147.50,448.53 147.25,448.54 147.00,448.54 146.75,448.55 146.50,448.55 146.25,448.55 146.00,448.56 145.75,448.56 145.50,448.56 145.25,448.57 145.00,448.57 144.75,448.58 144.50,448.58 144.25,448.58 144.00,448.59Z" fill="url(#gO3)"/><path d="M104.25,449.37 104.50,449.37 104.75,449.36 105.00,449.36 105.25,449.35 105.50,449.35 105.75,449.35 106.00,449.34 106.25,449.34 106.50,449.33 106.75,449.33 107.00,449.32 107.25,449.32 107.50,449.31 107.75,449.31 108.00,449.30 108.25,449.30 108.50,449.29 108.75,449.29 109.00,449.28 109.25,449.28 109.50,449.27 109.75,449.27 110.00,449.26 110.25,449.25 110.50,449.25 110.75,449.24 111.00,449.24 111.25,449.23 111.50,449.23 111.75,449.22 112.00,449.22 112.25,449.21 112.50,449.21 112.75,449.20 113.00,449.20 113.25,449.19 113.50,449.19 113.75,449.18 114.00,449.18 114.25,449.17 114.50,449.17 114.75,449.16 115.00,449.16 115.25,449.15 115.50,449.15 115.75,449.14 116.00,449.14 116.25,449.13 116.50,449.13 116.75,449.12 117.00,449.11 117.25,449.11 117.50,449.10 117.75,449.10 118.00,449.09 118.25,449.09 118.50,449.08 118.75,449.08 119.00,449.07 119.25,449.07 119.50,449.06 119.75,449.06 120.00,449.05 120.25,449.05 120.50,449.04 120.75,449.04 121.00,449.03 121.25,449.02 121.50,449.02 121.75,449.01 122.00,449.01 122.25,449.00 122.50,449.00 122.75,448.99 123.00,448.99 123.25,448.98 123.50,448.98 123.75,448.97 124.00,448.97 124.25,448.96 124.50,448.96 124.75,448.95 125.00,448.95 125.25,448.94 125.50,448.94 125.75,448.93 126.00,448.93 126.25,448.92 126.50,448.92 126.75,448.91 127.00,448.90 127.25,448.90 127.50,448.89 127.75,448.89 128.00,448.88 128.25,448.88 128.50,448.87 128.75,448.87 129.00,448.86 129.25,448.86 129.50,448.85 129.75,448.85 130.00,448.84 130.25,448.84 130.50,448.83 130.75,448.83 131.00,448.82 131.25,448.82 131.50,448.81 131.75,448.81 132.00,448.80 132.25,448.80 132.50,448.79 132.75,448.79 133.00,448.78 133.25,448.78 133.50,448.77 133.75,448.77 134.00,448.77 134.25,448.76 134.50,448.76 134.75,448.75 135.00,448.75 135.25,448.74 135.50,448.74 135.75,448.73 136.00,448.73 136.25,448.72 136.50,448.72 136.75,448.71 137.00,448.71 137.25,448.70 137.50,448.70 137.75,448.69 138.00,448.69 138.25,448.69 138.50,448.68 138.75,448.68 139.00,448.67 139.25,448.67 139.50,448.66 139.75,448.66 140.00,448.65 140.25,448.65 140.50,448.65 140.75,448.64 141.00,448.64 141.25,448.63 141.50,448.63 141.75,448.62 142.00,448.62 142.25,448.62 142.50,448.61 142.75,448.61 143.00,448.60 143.25,448.60 143.50,448.60 143.75,448.59 144.00,448.59 144.25,448.58 144.50,448.58 144.75,448.58 145.00,448.57 145.25,448.57 145.50,448.56 145.75,448.56 146.00,448.56 146.25,448.55 146.50,448.55 146.75,448.55 147.00,448.54 147.25,448.54 147.50,448.53 147.75,448.53 148.00,448.53 148.25,448.52 148.50,448.52 148.75,448.52 149.00,448.51 149.25,448.51 149.50,448.51 149.75,448.50 150.00,448.50 150.25,448.50 150.50,448.49 150.75,448.49 151.00,448.49 151.25,448.48 151.50,448.48 151.75,448.48 152.00,448.47 152.25,448.47 152.50,448.47 152.75,448.46 153.00,448.46 153.25,448.46 153.50,448.45 153.75,448.45 154.00,448.45 154.25,448.45 154.50,448.44 154.75,448.44 155.00,448.44 155.25,448.43 155.50,448.43 155.75,448.43 156.00,448.42 156.25,448.42 156.50,448.42 156.75,448.41 157.00,448.41 157.25,448.41 157.50,448.41 157.75,448.40 158.00,448.40 158.25,448.40 158.50,448.39 158.75,448.39 159.00,448.39 159.25,448.38 159.50,448.38 159.75,448.38 160.00,448.38 160.25,448.37 160.50,448.37 160.75,448.37 161.00,448.36 161.25,448.36 161.50,448.36 161.75,448.36 162.00,448.35 162.25,448.35 162.50,448.35 162.75,448.34 163.00,448.34 163.25,448.34 163.50,448.34 163.75,448.33 164.00,448.33 164.25,448.33 164.50,448.32 164.75,448.32 165.00,448.32 165.25,448.32 165.50,448.31 165.75,448.31 166.00,448.31 166.25,448.31 166.50,448.30 166.75,448.30 167.00,448.30 167.25,448.29 167.50,448.29 167.75,448.29 168.00,448.29 168.25,448.28 168.50,448.28 168.75,448.28 169.00,448.28 169.25,448.27 169.50,448.27 169.75,448.27 170.00,448.27 170.25,448.26 170.50,448.26 170.75,448.26 171.00,448.25 171.25,448.25 171.50,448.25 171.75,448.25 172.00,448.24 172.25,448.24 172.50,448.24 172.75,448.24 173.00,448.23 173.25,448.23 173.50,448.23 173.75,448.23 174.00,448.22 174.25,448.22 174.50,448.22 174.75,448.22 175.00,448.21 175.25,448.21 175.50,448.21 175.75,448.21 176.00,448.20 176.25,448.20 176.50,448.20 176.75,448.20 177.00,448.20 177.25,448.19 177.50,448.19 177.75,448.19 178.00,448.19 178.25,448.18 178.50,448.18 178.75,448.18 179.00,448.18 179.25,448.17 179.50,448.17 179.75,448.17 180.00,448.17 180.25,448.16 180.50,448.16 180.75,448.16 181.00,448.16 181.25,448.16 181.50,448.15 181.75,448.15 182.00,448.15 182.25,448.15 182.50,448.14 182.75,448.14 183.00,448.14 183.25,448.14 183.50,448.13 183.75,448.13 184.00,448.13 184.25,448.13 184.50,448.13 184.75,448.12 185.00,448.12 185.25,448.12 185.50,448.12 185.75,448.12 186.00,448.11 186.25,448.11 186.50,448.11 186.75,448.11 187.00,448.10 187.25,448.10 187.50,448.10 187.75,448.10 188.00,448.10 188.25,448.09 188.50,448.09 188.75,448.09 189.00,448.09 189.25,448.09 189.50,448.08 189.75,448.08 190.00,448.08 190.25,448.08 190.50,448.07 190.75,448.07 191.00,448.07 191.25,448.07 191.50,448.07 191.75,448.06 192.00,448.06 192.25,448.06 192.50,448.06 192.75,448.06 193.00,448.05 193.25,448.05 193.50,448.05 193.75,448.05 194.00,448.05 194.25,448.04 194.50,448.04 194.75,448.04 195.00,448.04 195.25,448.04 195.50,448.03 195.75,448.03 196.00,448.03 196.25,448.03 196.50,448.03 196.75,448.02 197.00,448.02 197.25,448.02 197.50,448.02 197.75,448.02 198.00,448.02 198.25,448.01 198.50,448.01 198.75,448.01 199.00,448.01 199.25,448.01 199.50,448.00 199.75,448.00 200.00,448.00 200.25,448.00 200.50,448.00 200.75,447.99 201.00,447.99 201.25,447.99 201.50,447.99 201.75,447.99 202.00,447.99 202.25,447.98 202.50,447.98 202.75,447.98 203.00,447.98 203.25,447.98 203.50,447.97 203.75,447.97 204.00,447.97 204.25,447.97 204.50,447.97 204.75,447.96 205.00,447.96 205.25,447.96 205.50,447.96 205.75,447.96 206.00,447.96 206.25,447.95 206.50,447.95 206.75,447.95 207.00,447.95 207.25,447.95 207.50,447.94 207.75,447.94 208.00,447.94 208.25,447.94 208.50,447.94 208.75,447.94 209.00,447.93 209.25,447.93 209.50,447.93 209.75,447.93 210.00,447.93 210.25,447.92 210.50,447.92 210.75,447.92 211.00,447.92 211.25,447.92 211.50,447.92 211.75,447.91 212.00,447.91 212.25,447.91 212.50,447.91 212.75,447.91 213.00,447.90 213.25,447.90 213.50,447.90 213.75,447.90 214.00,447.90 214.25,447.90 214.50,447.89 214.75,447.89 215.00,447.89 215.25,447.89 215.50,447.89 215.75,447.89 216.00,447.88 216.25,447.88 216.50,447.88 216.75,447.88 217.00,447.88 217.25,447.88 217.50,447.87 217.75,447.87 218.00,447.87 218.25,447.87 218.50,447.87 218.75,447.86 219.00,447.86 219.25,447.86 219.50,447.86 219.75,447.86 220.00,447.86 220.25,447.85 220.50,447.85 220.75,447.85 221.00,447.85 221.25,447.85 221.50,447.85 221.75,447.84 222.00,447.84 222.25,447.84 222.50,447.84 222.75,447.84 223.00,447.84 223.25,447.83 223.50,447.83 223.75,447.83 224.00,447.83 224.25,447.83 224.50,447.83 224.75,447.82 225.00,447.82 225.25,447.82 225.50,447.82 225.75,447.82 226.00,447.82 226.25,447.81 226.50,447.81 226.75,447.81 227.00,447.81 227.25,447.81 227.50,447.81 227.75,447.81 228.00,447.80 228.25,447.80 228.50,447.80 228.75,447.80 229.00,447.80 229.25,447.80 229.50,447.79 229.75,447.79 230.00,447.79 230.25,447.79 230.50,447.79 230.75,447.79 231.00,447.78 231.25,447.78 231.50,447.78 231.75,447.78 232.00,447.78 232.25,447.78 232.50,447.78 232.75,447.77 233.00,447.77 233.25,447.77 233.50,447.77 233.75,447.77 234.00,447.77 234.25,447.76 234.50,447.76 234.75,447.76 235.00,447.76 235.25,447.76 235.50,447.76 235.75,447.76 236.00,447.75 236.25,447.75 236.50,447.75 236.75,447.75 237.00,447.75 237.25,447.75 237.50,447.75 237.75,447.74 238.00,447.74 238.25,447.74 238.50,447.74 238.75,447.74 239.00,447.74 239.25,447.73 239.50,447.73 239.75,447.73 240.00,447.73 240.25,447.73 240.50,447.73 240.75,447.73 241.00,447.73 241.25,447.72 241.50,447.72 241.75,447.72 242.00,447.72 242.25,447.72 242.50,447.72 242.75,447.72 243.00,447.71 243.25,447.71 243.50,447.71 243.75,447.71 244.00,447.71 244.25,447.71 244.50,447.71 244.75,447.70 245.00,447.70 245.25,447.70 245.50,447.70 245.75,447.70 246.00,447.70 246.25,447.70 246.50,447.70 246.75,447.69 247.00,447.69 247.25,447.69 247.50,447.69 247.75,447.69 248.00,447.69 248.25,447.69 248.50,447.68 248.75,447.68 249.00,447.68 249.25,447.68 249.50,447.68 249.75,447.68 250.00,447.68 250.25,447.68 250.50,447.67 250.75,447.67 251.00,447.67 251.25,447.67 251.50,447.67 251.75,447.67" fill="none" stroke="#e545c8" stroke-width="1.3"/><g fill="#bcbcf8" stroke="#4646e8" stroke-width="1.3"><circle cx="44.30" cy="449.81" r="1.7"/><circle cx="46.40" cy="450.69" r="1.7"/><circle cx="48.50" cy="450.59" r="1.7"/><circle cx="50.60" cy="451.19" r="1.7"/><circle cx="52.70" cy="450.85" r="1.7"/><circle cx="54.80" cy="450.61" r="1.7"/><circle cx="56.90" cy="450.90" r="1.7"/><circle cx="59.00" cy="449.92" r="1.7"/><circle cx="61.10" cy="450.33" r="1.7"/><circle cx="63.20" cy="450.14" r="1.7"/><circle cx="65.30" cy="450.81" r="1.7"/><circle cx="67.40" cy="450.36" r="1.7"/><circle cx="69.50" cy="449.05" r="1.7"/><circle cx="71.60" cy="450.55" r="1.7"/><circle cx="73.70" cy="449.71" r="1.7"/><circle cx="75.80" cy="450.25" r="1.7"/><circle cx="77.90" cy="449.75" r="1.7"/><circle cx="80.00" cy="449.94" r="1.7"/><circle cx="82.10" cy="450.01" r="1.7"/><circle cx="84.20" cy="449.79" r="1.7"/><circle cx="86.30" cy="449.32" r="1.7"/><circle cx="88.40" cy="450.06" r="1.7"/><circle cx="90.50" cy="449.63" r="1.7"/><circle cx="92.60" cy="449.40" r="1.7"/><circle cx="94.70" cy="449.56" r="1.7"/><circle cx="96.80" cy="449.03" r="1.7"/><circle cx="98.90" cy="449.77" r="1.7"/><circle cx="101.00" cy="449.09" r="1.7"/><circle cx="103.10" cy="449.02" r="1.7"/><circle cx="105.20" cy="448.75" r="1.7"/><circle cx="107.30" cy="447.85" r="1.7"/><circle cx="109.40" cy="447.20" r="1.7"/><circle cx="111.50" cy="447.09" r="1.7"/><circle cx="113.60" cy="446.41" r="1.7"/><circle cx="115.70" cy="445.83" r="1.7"/><circle cx="117.80" cy="444.24" r="1.7"/><circle cx="119.90" cy="441.92" r="1.7"/><circle cx="122.00" cy="440.23" r="1.7"/><circle cx="124.10" cy="437.37" r="1.7"/><circle cx="126.20" cy="433.19" r="1.7"/><circle cx="128.30" cy="427.01" r="1.7"/><circle cx="130.40" cy="420.42" r="1.7"/><circle cx="132.50" cy="414.23" r="1.7"/><circle cx="134.60" cy="404.91" r="1.7"/><circle cx="136.70" cy="395.91" r="1.7"/><circle cx="138.80" cy="387.22" r="1.7"/><circle cx="140.90" cy="382.20" r="1.7"/><circle cx="143.00" cy="376.60" r="1.7"/><circle cx="145.10" cy="373.53" r="1.7"/><circle cx="147.20" cy="371.45" r="1.7"/><circle cx="149.30" cy="371.89" r="1.7"/><circle cx="151.40" cy="373.62" r="1.7"/><circle cx="153.50" cy="380.78" r="1.7"/><circle cx="155.60" cy="387.18" r="1.7"/><circle cx="157.70" cy="394.92" r="1.7"/><circle cx="159.80" cy="400.38" r="1.7"/><circle cx="161.90" cy="405.54" r="1.7"/><circle cx="164.00" cy="409.44" r="1.7"/><circle cx="166.10" cy="412.66" r="1.7"/><circle cx="168.20" cy="414.74" r="1.7"/><circle cx="170.30" cy="416.33" r="1.7"/><circle cx="172.40" cy="415.93" r="1.7"/><circle cx="174.50" cy="415.72" r="1.7"/><circle cx="176.60" cy="414.74" r="1.7"/><circle cx="178.70" cy="414.72" r="1.7"/><circle cx="180.80" cy="414.87" r="1.7"/><circle cx="182.90" cy="414.91" r="1.7"/><circle cx="185.00" cy="415.88" r="1.7"/><circle cx="187.10" cy="416.80" r="1.7"/><circle cx="189.20" cy="417.08" r="1.7"/><circle cx="191.30" cy="418.35" r="1.7"/><circle cx="193.40" cy="419.79" r="1.7"/><circle cx="195.50" cy="421.36" r="1.7"/><circle cx="197.60" cy="422.49" r="1.7"/><circle cx="199.70" cy="424.29" r="1.7"/><circle cx="201.80" cy="425.88" r="1.7"/><circle cx="203.90" cy="427.72" r="1.7"/><circle cx="206.00" cy="429.63" r="1.7"/><circle cx="208.10" cy="430.92" r="1.7"/><circle cx="210.20" cy="432.37" r="1.7"/><circle cx="212.30" cy="434.29" r="1.7"/><circle cx="214.40" cy="434.99" r="1.7"/><circle cx="216.50" cy="436.64" r="1.7"/><circle cx="218.60" cy="437.62" r="1.7"/><circle cx="220.70" cy="438.43" r="1.7"/><circle cx="222.80" cy="439.25" r="1.7"/><circle cx="224.90" cy="439.84" r="1.7"/><circle cx="227.00" cy="440.81" r="1.7"/><circle cx="229.10" cy="441.29" r="1.7"/><circle cx="231.20" cy="442.10" r="1.7"/><circle cx="233.30" cy="443.40" r="1.7"/><circle cx="235.40" cy="443.58" r="1.7"/><circle cx="237.50" cy="444.54" r="1.7"/><circle cx="239.60" cy="444.65" r="1.7"/><circle cx="241.70" cy="445.22" r="1.7"/><circle cx="243.80" cy="445.02" r="1.7"/><circle cx="245.90" cy="445.57" r="1.7"/><circle cx="248.00" cy="446.70" r="1.7"/><circle cx="250.10" cy="446.31" r="1.7"/><circle cx="252.20" cy="446.61" r="1.7"/><circle cx="254.30" cy="446.56" r="1.7"/><circle cx="256.40" cy="446.99" r="1.7"/><circle cx="258.50" cy="446.48" r="1.7"/><circle cx="260.60" cy="446.77" r="1.7"/><circle cx="262.70" cy="447.37" r="1.7"/><circle cx="264.80" cy="447.64" r="1.7"/></g><g stroke="#2a2a2a" stroke-width="1.7" fill="none"><rect x="38.6" y="272.7" width="229.4" height="185.2"/></g><path d="M61.5,457.9V453.59999999999997 M107.4,457.9V453.59999999999997 M153.3,457.9V453.59999999999997 M199.2,457.9V453.59999999999997 M245.1,457.9V453.59999999999997" stroke="#2a2a2a" stroke-width="1.2"/><text x="61.5" y="470.7" font-family="Liberation Serif" font-weight="bold" font-size="11.5" fill="#000" text-anchor="middle" >526</text><text x="107.4" y="470.7" font-family="Liberation Serif" font-weight="bold" font-size="11.5" fill="#000" text-anchor="middle" >528</text><text x="153.3" y="470.7" font-family="Liberation Serif" font-weight="bold" font-size="11.5" fill="#000" text-anchor="middle" >530</text><text x="199.2" y="470.7" font-family="Liberation Serif" font-weight="bold" font-size="11.5" fill="#000" text-anchor="middle" >532</text><text x="245.1" y="470.7" font-family="Liberation Serif" font-weight="bold" font-size="11.5" fill="#000" text-anchor="middle" >534</text><text x="153.3" y="490.8" font-family="Liberation Serif" font-weight="bold" font-size="12.2" fill="#000" text-anchor="middle" >Binding energy/(eV)</text><text x="0" y="0" font-family="Liberation Serif" font-weight="bold" font-size="12" fill="#000" text-anchor="middle" transform="translate(29.8,364.8) rotate(-90)">Intensity/(a.u.)</text><text x="3" y="287" font-family="Liberation Serif" font-weight="bold" font-size="24" fill="#000" text-anchor="start" >(b)</text><text x="235.5" y="290" font-family="Liberation Serif" font-weight="bold" font-size="11" fill="#4b4be2" text-anchor="start" >O 1s</text><text x="53.5" y="345.2" font-family="Liberation Serif" font-weight="bold" font-size="11.5" fill="#000" text-anchor="start" >NiO</text><text x="47" y="431.2" font-family="Liberation Serif" font-weight="bold" font-size="11.5" fill="#4b4be2" text-anchor="start" >N-NiO-2</text><text x="145.4" y="288.3" font-family="Liberation Serif" font-weight="bold" font-size="11.5" fill="#000" text-anchor="start" >O<tspan font-size="7.5" dy="2.6">I</tspan></text><text x="175.3" y="333.2" font-family="Liberation Serif" font-weight="bold" font-size="11.5" fill="#000" text-anchor="start" >O<tspan font-size="7.5" dy="2.6">II</tspan></text><text x="201.6" y="350.3" font-family="Liberation Serif" font-weight="bold" font-size="11.5" fill="#000" text-anchor="start" >O<tspan font-size="7.5" dy="2.6">III</tspan></text><text x="121.2" y="390.5" font-family="Liberation Serif" font-weight="bold" font-size="11.5" fill="#000" text-anchor="start" >O<tspan font-size="7.5" dy="2.6">I</tspan></text><text x="170.5" y="409.0" font-family="Liberation Serif" font-weight="bold" font-size="11.5" fill="#000" text-anchor="start" >O<tspan font-size="7.5" dy="2.6">II</tspan></text><text x="207.4" y="427.3" font-family="Liberation Serif" font-weight="bold" font-size="11.5" fill="#000" text-anchor="start" >O<tspan font-size="7.5" dy="2.6">III</tspan></text><text x="236.0" y="341.9" font-family="Liberation Serif" font-weight="bold" font-size="11" fill="#000" text-anchor="start" >4.9 %</text><text x="229.6" y="418.6" font-family="Liberation Serif" font-weight="bold" font-size="11.5" fill="#f21a1a" text-anchor="start" >10.4 %</text><line x1="242.8" y1="349" x2="214" y2="358.7" stroke="#000" stroke-width="1.1"/><polygon points="209.7,360.1 215.4,355.9 216.8,360.4" fill="#000"/><line x1="249.3" y1="422.3" x2="224.5" y2="440.8" stroke="#f21a1a" stroke-width="1.1"/><polygon points="220.9,443.4 224.9,437.9 227.6,441.7" fill="#f21a1a"/><path d="M310.60,392.14 312.25,393.77 313.90,357.80 315.55,369.98 317.20,397.21 318.85,414.20 320.50,385.35 322.15,367.60 323.80,398.65 325.45,374.81 327.10,414.20 328.75,401.16 330.40,386.09 332.05,403.86 333.70,406.70 335.35,389.79 337.00,401.93 338.65,373.86 340.30,363.00 341.95,386.93 343.60,363.00 345.25,369.89 346.90,360.90 348.55,395.32 350.20,391.80 351.85,397.51 353.50,397.27 355.15,357.50 356.80,379.58 358.45,382.01 360.10,394.60 361.75,365.83 363.40,404.17 365.05,371.33 366.70,359.50 368.35,361.72 370.00,403.81 371.65,384.14 373.30,371.71 374.95,418.50 376.60,378.10 378.25,367.94 379.90,370.05 381.55,359.93 383.20,337.00 384.85,378.63 386.50,359.10 388.15,394.60 389.80,354.38 391.45,368.60 393.10,354.12 394.75,342.60 396.40,377.80 398.05,351.72 399.70,354.85 401.35,308.90 403.00,338.16 404.65,355.30 406.30,332.76 407.95,353.07 409.60,333.65 411.25,291.00 412.90,339.02 414.55,362.00 416.20,375.00 417.85,348.21 419.50,327.40 421.15,360.82 422.80,343.01 424.45,339.23 426.10,310.30 427.75,352.54 429.40,334.35 431.05,387.60 432.70,356.66 434.35,370.12 436.00,380.30 437.65,371.60 439.30,408.70 440.95,346.90 442.60,410.10 444.25,374.45 445.90,346.94 447.55,383.79 449.20,356.70 450.85,393.92 452.50,397.50 454.15,370.27 455.80,349.10 457.45,382.24 459.10,408.70 460.75,352.43 462.40,372.75 464.05,374.44 465.70,405.90 467.35,402.69 469.00,383.56 470.65,381.16 472.30,390.64 473.95,345.70 475.60,389.70 477.25,399.35 478.90,428.20 480.55,375.53 482.20,398.47 483.85,381.30 485.50,391.53 487.15,372.80 488.80,425.20 490.45,407.30 492.10,390.19 493.75,409.06 495.40,377.92 497.05,398.44 498.70,393.73 500.35,394.64 502.00,400.52 503.65,405.37 505.30,389.17 506.95,407.12 508.60,382.19 510.25,381.87 511.90,401.69 513.55,407.60 515.20,443.40 516.85,396.57 518.50,401.06 520.15,407.84 521.80,434.20 523.45,408.84 525.10,374.29 526.75,409.64 528.40,398.53 530.05,443.40 531.70,382.27 533.35,351.70 535.00,381.38 536.65,422.20 538.30,397.32" fill="none" stroke="#4d4d4d" stroke-width="1.15" stroke-linejoin="round"/><path d="M310.40,385.18 310.90,385.27 311.40,385.37 311.90,385.46 312.40,385.56 312.90,385.65 313.40,385.74 313.90,385.83 314.40,385.92 314.90,386.01 315.40,386.09 315.90,386.18 316.40,386.26 316.90,386.35 317.40,386.43 317.90,386.51 318.40,386.59 318.90,386.67 319.40,386.75 319.90,386.82 320.40,386.90 320.90,386.97 321.40,387.05 321.90,387.12 322.40,387.19 322.90,387.26 323.40,387.33 323.90,387.40 324.40,387.47 324.90,387.53 325.40,387.60 325.90,387.66 326.40,387.72 326.90,387.79 327.40,387.85 327.90,387.91 328.40,387.96 328.90,388.02 329.40,388.08 329.90,388.13 330.40,388.18 330.90,388.24 331.40,388.29 331.90,388.34 332.40,388.39 332.90,388.44 333.40,388.48 333.90,388.53 334.40,388.57 334.90,388.62 335.40,388.66 335.90,388.70 336.40,388.74 336.90,388.78 337.40,388.82 337.90,388.86 338.40,388.89 338.90,388.93 339.40,388.96 339.90,388.99 340.40,389.02 340.90,389.05 341.40,389.07 341.90,389.09 342.40,389.11 342.90,389.12 343.40,389.12 343.90,389.13 344.40,389.13 344.90,389.12 345.40,389.11 345.90,389.10 346.40,389.09 346.90,389.07 347.40,389.04 347.90,389.02 348.40,388.99 348.90,388.96 349.40,388.92 349.90,388.88 350.40,388.84 350.90,388.80 351.40,388.75 351.90,388.70 352.40,388.65 352.90,388.59 353.40,388.53 353.90,388.47 354.40,388.40 354.90,388.33 355.40,388.26 355.90,388.19 356.40,388.11 356.90,388.04 357.40,387.95 357.90,387.87 358.40,387.79 358.90,387.70 359.40,387.61 359.90,387.52 360.40,387.42 360.90,387.30 361.40,387.17 361.90,387.02 362.40,386.86 362.90,386.68 363.40,386.49 363.90,386.29 364.40,386.08 364.90,385.86 365.40,385.63 365.90,385.39 366.40,385.14 366.90,384.89 367.40,384.63 367.90,384.36 368.40,384.09 368.90,383.82 369.40,383.55 369.90,383.27 370.40,382.99 370.90,382.71 371.40,382.43 371.90,382.16 372.40,381.88 372.90,381.60 373.40,381.31 373.90,381.02 374.40,380.72 374.90,380.41 375.40,380.10 375.90,379.78 376.40,379.45 376.90,379.12 377.40,378.77 377.90,378.42 378.40,378.06 378.90,377.68 379.40,377.30 379.90,376.91 380.40,376.50 380.90,376.09 381.40,375.66 381.90,375.22 382.40,374.76 382.90,374.28 383.40,373.77 383.90,373.25 384.40,372.70 384.90,372.13 385.40,371.55 385.90,370.95 386.40,370.33 386.90,369.70 387.40,369.05 387.90,368.39 388.40,367.72 388.90,367.04 389.40,366.35 389.90,365.65 390.40,364.95 390.90,364.24 391.40,363.53 391.90,362.79 392.40,362.01 392.90,361.19 393.40,360.34 393.90,359.47 394.40,358.57 394.90,357.67 395.40,356.75 395.90,355.84 396.40,354.93 396.90,354.03 397.40,353.14 397.90,352.28 398.40,351.45 398.90,350.65 399.40,349.89 399.90,349.18 400.40,348.49 400.90,347.76 401.40,347.00 401.90,346.22 402.40,345.45 402.90,344.67 403.40,343.92 403.90,343.20 404.40,342.51 404.90,341.88 405.40,341.32 405.90,340.83 406.40,340.43 406.90,340.13 407.40,339.94 407.90,339.87 408.40,339.92 408.90,340.03 409.40,340.19 409.90,340.40 410.40,340.65 410.90,340.94 411.40,341.27 411.90,341.63 412.40,342.01 412.90,342.41 413.40,342.83 413.90,343.27 414.40,343.71 414.90,344.16 415.40,344.61 415.90,345.05 416.40,345.51 416.90,346.02 417.40,346.57 417.90,347.17 418.40,347.81 418.90,348.49 419.40,349.20 419.90,349.94 420.40,350.70 420.90,351.48 421.40,352.27 421.90,353.08 422.40,353.89 422.90,354.70 423.40,355.52 423.90,356.32 424.40,357.12 424.90,357.91 425.40,358.67 425.90,359.42 426.40,360.14 426.90,360.83 427.40,361.53 427.90,362.24 428.40,362.95 428.90,363.68 429.40,364.40 429.90,365.13 430.40,365.85 430.90,366.56 431.40,367.27 431.90,367.96 432.40,368.63 432.90,369.29 433.40,369.92 433.90,370.53 434.40,371.11 434.90,371.66 435.40,372.18 435.90,372.66 436.40,373.11 436.90,373.55 437.40,373.99 437.90,374.42 438.40,374.84 438.90,375.25 439.40,375.66 439.90,376.06 440.40,376.46 440.90,376.84 441.40,377.23 441.90,377.60 442.40,377.96 442.90,378.32 443.40,378.67 443.90,379.02 444.40,379.35 444.90,379.68 445.40,380.01 445.90,380.32 446.40,380.62 446.90,380.92 447.40,381.21 447.90,381.49 448.40,381.77 448.90,382.03 449.40,382.29 449.90,382.54 450.40,382.78 450.90,383.02 451.40,383.24 451.90,383.46 452.40,383.67 452.90,383.87 453.40,384.07 453.90,384.27 454.40,384.46 454.90,384.65 455.40,384.83 455.90,385.01 456.40,385.19 456.90,385.37 457.40,385.54 457.90,385.71 458.40,385.87 458.90,386.04 459.40,386.20 459.90,386.36 460.40,386.52 460.90,386.67 461.40,386.83 461.90,386.98 462.40,387.13 462.90,387.28 463.40,387.43 463.90,387.58 464.40,387.73 464.90,387.87 465.40,388.02 465.90,388.17 466.40,388.31 466.90,388.46 467.40,388.61 467.90,388.75 468.40,388.90 468.90,389.05 469.40,389.19 469.90,389.34 470.40,389.48 470.90,389.62 471.40,389.76 471.90,389.90 472.40,390.04 472.90,390.18 473.40,390.31 473.90,390.45 474.40,390.58 474.90,390.71 475.40,390.84 475.90,390.98 476.40,391.11 476.90,391.24 477.40,391.36 477.90,391.49 478.40,391.62 478.90,391.75 479.40,391.87 479.90,392.00 480.40,392.12 480.90,392.24 481.40,392.37 481.90,392.49 482.40,392.61 482.90,392.73 483.40,392.86 483.90,392.98 484.40,393.10 484.90,393.22 485.40,393.34 485.90,393.46 486.40,393.58 486.90,393.70 487.40,393.82 487.90,393.94 488.40,394.06 488.90,394.19 489.40,394.31 489.90,394.43 490.40,394.55 490.90,394.66 491.40,394.78 491.90,394.90 492.40,395.02 492.90,395.13 493.40,395.25 493.90,395.36 494.40,395.48 494.90,395.59 495.40,395.70 495.90,395.81 496.40,395.92 496.90,396.03 497.40,396.13 497.90,396.24 498.40,396.34 498.90,396.44 499.40,396.54 499.90,396.64 500.40,396.74 500.90,396.83 501.40,396.92 501.90,397.02 502.40,397.11 502.90,397.19 503.40,397.28 503.90,397.37 504.40,397.45 504.90,397.53 505.40,397.62 505.90,397.70 506.40,397.78 506.90,397.86 507.40,397.94 507.90,398.02 508.40,398.10 508.90,398.18 509.40,398.26 509.90,398.34 510.40,398.41 510.90,398.49 511.40,398.56 511.90,398.63 512.40,398.70 512.90,398.76 513.40,398.82 513.90,398.88 514.40,398.94 514.90,398.99 515.40,399.04 515.90,399.09 516.40,399.13 516.90,399.17 517.40,399.19 517.90,399.21 518.40,399.23 518.90,399.23 519.40,399.23 519.90,399.23 520.40,399.22 520.90,399.21 521.40,399.19 521.90,399.16 522.40,399.14 522.90,399.11 523.40,399.07 523.90,399.04 524.40,398.99 524.90,398.91 525.40,398.80 525.90,398.66 526.40,398.50 526.90,398.32 527.40,398.13 527.90,397.92 528.40,397.70 528.90,397.48 529.40,397.26 529.90,397.04 530.40,396.83 530.90,396.60 531.40,396.36 531.90,396.11 532.40,395.84 532.90,395.56 533.40,395.26 533.90,394.93 534.40,394.59 534.90,394.21 535.40,393.80 535.90,393.33 536.40,392.82 536.90,392.25 537.40,391.65 537.90,391.01 538.40,390.34 538.90,389.64" fill="none" stroke="#f23a3a" stroke-width="2.5"/><path d="M310.40,388.18 310.90,388.28 311.40,388.37 311.90,388.47 312.40,388.56 312.90,388.66 313.40,388.76 313.90,388.85 314.40,388.94 314.90,389.04 315.40,389.13 315.90,389.22 316.40,389.32 316.90,389.41 317.40,389.50 317.90,389.59 318.40,389.68 318.90,389.77 319.40,389.86 319.90,389.95 320.40,390.04 320.90,390.13 321.40,390.21 321.90,390.30 322.40,390.39 322.90,390.47 323.40,390.56 323.90,390.64 324.40,390.73 324.90,390.81 325.40,390.89 325.90,390.97 326.40,391.06 326.90,391.14 327.40,391.22 327.90,391.30 328.40,391.37 328.90,391.45 329.40,391.53 329.90,391.61 330.40,391.68 330.90,391.76 331.40,391.83 331.90,391.91 332.40,391.98 332.90,392.05 333.40,392.12 333.90,392.20 334.40,392.27 334.90,392.34 335.40,392.40 335.90,392.47 336.40,392.54 336.90,392.61 337.40,392.67 337.90,392.74 338.40,392.80 338.90,392.86 339.40,392.93 339.90,392.99 340.40,393.05 340.90,393.11 341.40,393.17 341.90,393.23 342.40,393.28 342.90,393.34 343.40,393.40 343.90,393.45 344.40,393.51 344.90,393.56 345.40,393.61 345.90,393.67 346.40,393.72 346.90,393.77 347.40,393.82 347.90,393.87 348.40,393.92 348.90,393.97 349.40,394.02 349.90,394.07 350.40,394.12 350.90,394.17 351.40,394.22 351.90,394.26 352.40,394.31 352.90,394.36 353.40,394.40 353.90,394.45 354.40,394.50 354.90,394.54 355.40,394.59 355.90,394.63 356.40,394.68 356.90,394.72 357.40,394.77 357.90,394.81 358.40,394.86 358.90,394.90 359.40,394.94 359.90,394.99 360.40,395.03 360.90,395.08 361.40,395.12 361.90,395.17 362.40,395.21 362.90,395.25 363.40,395.30 363.90,395.34 364.40,395.39 364.90,395.43 365.40,395.48 365.90,395.52 366.40,395.57 366.90,395.61 367.40,395.66 367.90,395.71 368.40,395.75 368.90,395.80 369.40,395.85 369.90,395.90 370.40,395.94 370.90,395.99 371.40,396.04 371.90,396.09 372.40,396.14 372.90,396.19 373.40,396.24 373.90,396.29 374.40,396.34 374.90,396.39 375.40,396.44 375.90,396.49 376.40,396.54 376.90,396.60 377.40,396.65 377.90,396.70 378.40,396.75 378.90,396.80 379.40,396.85 379.90,396.91 380.40,396.96 380.90,397.01 381.40,397.06 381.90,397.12 382.40,397.17 382.90,397.22 383.40,397.27 383.90,397.33 384.40,397.38 384.90,397.43 385.40,397.49 385.90,397.54 386.40,397.59 386.90,397.65 387.40,397.70 387.90,397.75 388.40,397.81 388.90,397.86 389.40,397.91 389.90,397.97 390.40,398.02 390.90,398.07 391.40,398.13 391.90,398.18 392.40,398.23 392.90,398.29 393.40,398.34 393.90,398.40 394.40,398.45 394.90,398.50 395.40,398.56 395.90,398.61 396.40,398.66 396.90,398.71 397.40,398.77 397.90,398.82 398.40,398.87 398.90,398.93 399.40,398.98 399.90,399.03 400.40,399.08 400.90,399.14 401.40,399.19 401.90,399.24 402.40,399.29 402.90,399.34 403.40,399.40 403.90,399.45 404.40,399.50 404.90,399.55 405.40,399.60 405.90,399.65 406.40,399.70 406.90,399.75 407.40,399.81 407.90,399.86 408.40,399.91 408.90,399.96 409.40,400.01 409.90,400.05 410.40,400.10 410.90,400.15 411.40,400.20 411.90,400.25 412.40,400.30 412.90,400.35 413.40,400.39 413.90,400.44 414.40,400.49 414.90,400.54 415.40,400.58 415.90,400.63 416.40,400.68 416.90,400.72 417.40,400.77 417.90,400.81 418.40,400.86 418.90,400.90 419.40,400.95 419.90,400.99 420.40,401.03 420.90,401.08 421.40,401.12 421.90,401.16 422.40,401.21 422.90,401.25 423.40,401.29 423.90,401.33 424.40,401.37 424.90,401.41 425.40,401.45 425.90,401.49 426.40,401.53 426.90,401.57 427.40,401.61 427.90,401.65 428.40,401.68 428.90,401.72 429.40,401.76 429.90,401.80 430.40,401.84 430.90,401.87 431.40,401.91 431.90,401.95 432.40,401.99 432.90,402.02 433.40,402.06 433.90,402.10 434.40,402.13 434.90,402.17 435.40,402.21 435.90,402.24 436.40,402.28 436.90,402.32 437.40,402.35 437.90,402.39 438.40,402.43 438.90,402.46 439.40,402.50 439.90,402.54 440.40,402.57 440.90,402.61 441.40,402.65 441.90,402.69 442.40,402.72 442.90,402.76 443.40,402.80 443.90,402.84 444.40,402.88 444.90,402.92 445.40,402.95 445.90,402.99 446.40,403.03 446.90,403.07 447.40,403.11 447.90,403.15 448.40,403.19 448.90,403.24 449.40,403.28 449.90,403.32 450.40,403.36 450.90,403.40 451.40,403.45 451.90,403.49 452.40,403.54 452.90,403.58 453.40,403.62 453.90,403.67 454.40,403.72 454.90,403.76 455.40,403.81 455.90,403.86 456.40,403.90 456.90,403.95 457.40,404.00 457.90,404.05 458.40,404.10 458.90,404.15 459.40,404.20 459.90,404.25 460.40,404.30 460.90,404.35 461.40,404.40 461.90,404.45 462.40,404.50 462.90,404.55 463.40,404.60 463.90,404.66 464.40,404.71 464.90,404.76 465.40,404.81 465.90,404.86 466.40,404.92 466.90,404.97 467.40,405.02 467.90,405.07 468.40,405.13 468.90,405.18 469.40,405.23 469.90,405.28 470.40,405.34 470.90,405.39 471.40,405.44 471.90,405.49 472.40,405.55 472.90,405.60 473.40,405.65 473.90,405.70 474.40,405.75 474.90,405.81 475.40,405.86 475.90,405.91 476.40,405.96 476.90,406.01 477.40,406.06 477.90,406.11 478.40,406.16 478.90,406.21 479.40,406.26 479.90,406.31 480.40,406.36 480.90,406.41 481.40,406.46 481.90,406.50 482.40,406.55 482.90,406.60 483.40,406.64 483.90,406.69 484.40,406.74 484.90,406.78 485.40,406.83 485.90,406.88 486.40,406.92 486.90,406.97 487.40,407.02 487.90,407.07 488.40,407.11 488.90,407.16 489.40,407.21 489.90,407.26 490.40,407.31 490.90,407.35 491.40,407.40 491.90,407.45 492.40,407.50 492.90,407.54 493.40,407.59 493.90,407.63 494.40,407.68 494.90,407.73 495.40,407.77 495.90,407.82 496.40,407.86 496.90,407.90 497.40,407.95 497.90,407.99 498.40,408.03 498.90,408.07 499.40,408.11 499.90,408.15 500.40,408.19 500.90,408.23 501.40,408.26 501.90,408.30 502.40,408.34 502.90,408.37 503.40,408.40 503.90,408.43 504.40,408.46 504.90,408.49 505.40,408.52 505.90,408.55 506.40,408.58 506.90,408.61 507.40,408.65 507.90,408.68 508.40,408.71 508.90,408.74 509.40,408.77 509.90,408.80 510.40,408.82 510.90,408.85 511.40,408.88 511.90,408.90 512.40,408.92 512.90,408.94 513.40,408.96 513.90,408.97 514.40,408.98 514.90,408.99 515.40,409.00 515.90,409.00 516.40,409.00 516.90,408.99 517.40,408.97 517.90,408.95 518.40,408.92 518.90,408.89 519.40,408.85 519.90,408.81 520.40,408.76 520.90,408.71 521.40,408.65 521.90,408.59 522.40,408.53 522.90,408.46 523.40,408.39 523.90,408.31 524.40,408.23 524.90,408.11 525.40,407.96 525.90,407.79 526.40,407.59 526.90,407.37 527.40,407.14 527.90,406.89 528.40,406.63 528.90,406.37 529.40,406.11 529.90,405.85 530.40,405.59 530.90,405.32 531.40,405.04 531.90,404.75 532.40,404.44 532.90,404.11 533.40,403.76 533.90,403.40 534.40,403.00 534.90,402.59 535.40,402.13 535.90,401.62 536.40,401.06 536.90,400.45 537.40,399.80 537.90,399.11 538.40,398.39 538.90,397.65" fill="none" stroke="#1a70e0" stroke-width="2.5"/><g stroke="#111" stroke-width="1.4" fill="none"><rect x="309.7" y="273.2" width="229.8" height="184.3"/></g><path d="M315.5,457.5V453.2 M355.2,457.5V453.2 M394.9,457.5V453.2 M434.6,457.5V453.2 M474.3,457.5V453.2 M514.0,457.5V453.2 M335.3,457.5V455.0 M375.0,457.5V455.0 M414.7,457.5V455.0 M454.4,457.5V455.0 M494.1,457.5V455.0 M533.8,457.5V455.0" stroke="#111" stroke-width="1.2"/><text x="315.5" y="471.0" font-family="Liberation Serif" font-weight="bold" font-size="11" fill="#000" text-anchor="middle" >393</text><text x="355.2" y="471.0" font-family="Liberation Serif" font-weight="bold" font-size="11" fill="#000" text-anchor="middle" >396</text><text x="394.9" y="471.0" font-family="Liberation Serif" font-weight="bold" font-size="11" fill="#000" text-anchor="middle" >399</text><text x="434.6" y="471.0" font-family="Liberation Serif" font-weight="bold" font-size="11" fill="#000" text-anchor="middle" >402</text><text x="474.3" y="471.0" font-family="Liberation Serif" font-weight="bold" font-size="11" fill="#000" text-anchor="middle" >405</text><text x="514.0" y="471.0" font-family="Liberation Serif" font-weight="bold" font-size="11" fill="#000" text-anchor="middle" >408</text><text x="424.6" y="491.2" font-family="Liberation Serif" font-weight="bold" font-size="12.2" fill="#000" text-anchor="middle" >Binding energy/(eV)</text><text x="0" y="0" font-family="Liberation Serif" font-weight="bold" font-size="12" fill="#000" text-anchor="middle" transform="translate(300,364.6) rotate(-90)">Intensity</text><text x="274.3" y="287" font-family="Liberation Serif" font-weight="bold" font-size="24" fill="#000" text-anchor="start" >(c)</text><text x="333.2" y="300.9" font-family="Liberation Serif" font-weight="bold" font-size="11" fill="#000" text-anchor="start" >N 1s</text></svg></body></html>
